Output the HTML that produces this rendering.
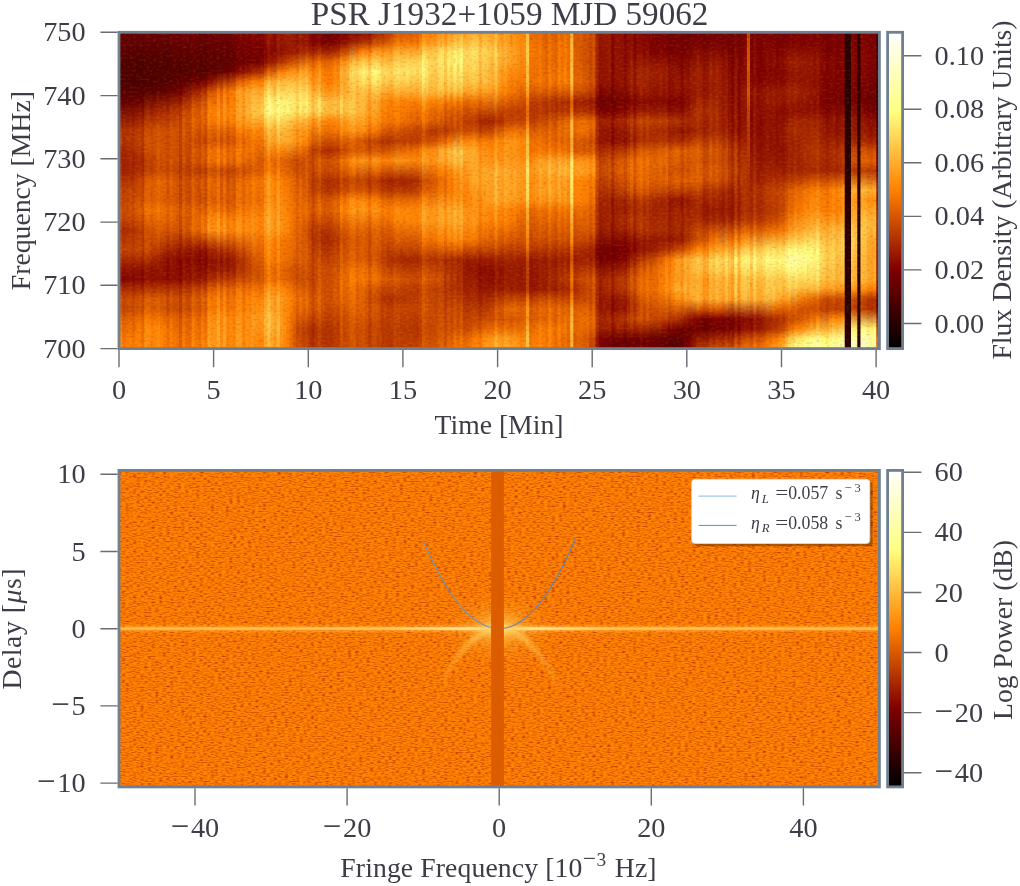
<!DOCTYPE html>
<html><head><meta charset="utf-8"><title>PSR J1932+1059</title>
<style>html,body{margin:0;padding:0;background:#fff}svg{display:block}text{font-family:"Liberation Serif","DejaVu Serif",serif;fill:#3d3d47}</style></head><body>
<svg width="1020" height="886" viewBox="0 0 1020 886">
<defs>
<linearGradient id="cb" x1="0" y1="0" x2="0" y2="1"><stop offset="0" stop-color="#fff"/><stop offset="0.25" stop-color="#ffff80"/><stop offset="0.5" stop-color="#ff8000"/><stop offset="0.75" stop-color="#800000"/><stop offset="1" stop-color="#000"/></linearGradient>
<linearGradient id="c0" x1="0" y1="0" x2="0" y2="1"><stop offset="0" stop-color="#6e0000"/><stop offset=".031" stop-color="#690000"/><stop offset=".094" stop-color="#540000"/><stop offset=".156" stop-color="#540000"/><stop offset=".219" stop-color="#680000"/><stop offset=".312" stop-color="#bb3c00"/><stop offset=".344" stop-color="#bf4000"/><stop offset=".375" stop-color="#b03000"/><stop offset=".438" stop-color="#ac2c00"/><stop offset=".5" stop-color="#cf4f00"/><stop offset=".531" stop-color="#d05000"/><stop offset=".562" stop-color="#d95a00"/><stop offset=".594" stop-color="#cf4f00"/><stop offset=".625" stop-color="#b83800"/><stop offset=".688" stop-color="#ce4f00"/><stop offset=".75" stop-color="#9a1b00"/><stop offset=".781" stop-color="#8d0e00"/><stop offset=".812" stop-color="#b73700"/><stop offset=".844" stop-color="#d85900"/><stop offset=".875" stop-color="#d15200"/><stop offset=".906" stop-color="#ee6f00"/><stop offset=".969" stop-color="#ff8a0a"/><stop offset="1" stop-color="#ff9111"/></linearGradient>
<linearGradient id="c1" x1="0" y1="0" x2="0" y2="1"><stop offset="0" stop-color="#650000"/><stop offset=".031" stop-color="#610000"/><stop offset=".094" stop-color="#4d0000"/><stop offset=".156" stop-color="#4d0000"/><stop offset=".219" stop-color="#600000"/><stop offset=".312" stop-color="#ac2d00"/><stop offset=".344" stop-color="#b03000"/><stop offset=".375" stop-color="#a22200"/><stop offset=".438" stop-color="#9e1f00"/><stop offset=".5" stop-color="#be3e00"/><stop offset=".531" stop-color="#bf4000"/><stop offset=".562" stop-color="#c84800"/><stop offset=".594" stop-color="#be3e00"/><stop offset=".625" stop-color="#a92900"/><stop offset=".688" stop-color="#be3e00"/><stop offset=".75" stop-color="#8e0e00"/><stop offset=".781" stop-color="#820200"/><stop offset=".812" stop-color="#a82900"/><stop offset=".844" stop-color="#c74700"/><stop offset=".875" stop-color="#c04100"/><stop offset=".906" stop-color="#db5c00"/><stop offset=".969" stop-color="#f47400"/><stop offset="1" stop-color="#fa7b00"/></linearGradient>
<linearGradient id="c2" x1="0" y1="0" x2="0" y2="1"><stop offset="0" stop-color="#670000"/><stop offset=".031" stop-color="#630000"/><stop offset=".094" stop-color="#4f0000"/><stop offset=".156" stop-color="#4e0000"/><stop offset=".219" stop-color="#620000"/><stop offset=".312" stop-color="#b03100"/><stop offset=".344" stop-color="#b43500"/><stop offset=".375" stop-color="#a62600"/><stop offset=".438" stop-color="#a22300"/><stop offset=".5" stop-color="#c24300"/><stop offset=".531" stop-color="#c44400"/><stop offset=".562" stop-color="#cd4d00"/><stop offset=".594" stop-color="#c34300"/><stop offset=".625" stop-color="#ad2e00"/><stop offset=".688" stop-color="#c24200"/><stop offset=".75" stop-color="#911100"/><stop offset=".781" stop-color="#850500"/><stop offset=".812" stop-color="#ac2c00"/><stop offset=".844" stop-color="#cb4c00"/><stop offset=".875" stop-color="#c54600"/><stop offset=".906" stop-color="#e06100"/><stop offset=".969" stop-color="#f97a00"/><stop offset="1" stop-color="#ff8001"/></linearGradient>
<linearGradient id="c3" x1="0" y1="0" x2="0" y2="1"><stop offset="0" stop-color="#680000"/><stop offset=".031" stop-color="#640000"/><stop offset=".094" stop-color="#500000"/><stop offset=".156" stop-color="#4f0000"/><stop offset=".188" stop-color="#570000"/><stop offset=".219" stop-color="#650000"/><stop offset=".281" stop-color="#9e1e00"/><stop offset=".312" stop-color="#b53500"/><stop offset=".344" stop-color="#b93900"/><stop offset=".375" stop-color="#ab2b00"/><stop offset=".438" stop-color="#a62700"/><stop offset=".5" stop-color="#c74800"/><stop offset=".531" stop-color="#c94900"/><stop offset=".562" stop-color="#d35300"/><stop offset=".594" stop-color="#c84800"/><stop offset=".625" stop-color="#b23300"/><stop offset=".688" stop-color="#c64600"/><stop offset=".75" stop-color="#931400"/><stop offset=".781" stop-color="#870800"/><stop offset=".812" stop-color="#af3000"/><stop offset=".844" stop-color="#d05000"/><stop offset=".875" stop-color="#ca4b00"/><stop offset=".906" stop-color="#e66600"/><stop offset=".969" stop-color="#fe7f00"/><stop offset="1" stop-color="#ff8505"/></linearGradient>
<linearGradient id="c4" x1="0" y1="0" x2="0" y2="1"><stop offset="0" stop-color="#630000"/><stop offset=".031" stop-color="#5f0000"/><stop offset=".094" stop-color="#4c0000"/><stop offset=".156" stop-color="#4b0000"/><stop offset=".188" stop-color="#530000"/><stop offset=".219" stop-color="#620000"/><stop offset=".281" stop-color="#991a00"/><stop offset=".312" stop-color="#af2f00"/><stop offset=".344" stop-color="#b33300"/><stop offset=".406" stop-color="#a02100"/><stop offset=".438" stop-color="#a12200"/><stop offset=".5" stop-color="#c04100"/><stop offset=".531" stop-color="#c24300"/><stop offset=".562" stop-color="#cd4d00"/><stop offset=".594" stop-color="#c24300"/><stop offset=".625" stop-color="#ae2f00"/><stop offset=".688" stop-color="#be3e00"/><stop offset=".75" stop-color="#8c0d00"/><stop offset=".781" stop-color="#820300"/><stop offset=".844" stop-color="#c84800"/><stop offset=".875" stop-color="#c44400"/><stop offset=".906" stop-color="#de5e00"/><stop offset=".969" stop-color="#f57500"/><stop offset="1" stop-color="#f97a00"/></linearGradient>
<linearGradient id="c5" x1="0" y1="0" x2="0" y2="1"><stop offset="0" stop-color="#660000"/><stop offset=".031" stop-color="#620000"/><stop offset=".094" stop-color="#4e0000"/><stop offset=".156" stop-color="#4e0000"/><stop offset=".188" stop-color="#550000"/><stop offset=".219" stop-color="#680000"/><stop offset=".281" stop-color="#a22300"/><stop offset=".312" stop-color="#b83900"/><stop offset=".344" stop-color="#bc3d00"/><stop offset=".406" stop-color="#a92900"/><stop offset=".438" stop-color="#aa2b00"/><stop offset=".469" stop-color="#bf3f00"/><stop offset=".562" stop-color="#d95a00"/><stop offset=".594" stop-color="#cd4e00"/><stop offset=".625" stop-color="#b93900"/><stop offset=".688" stop-color="#c54600"/><stop offset=".75" stop-color="#911200"/><stop offset=".781" stop-color="#880800"/><stop offset=".844" stop-color="#d15200"/><stop offset=".875" stop-color="#ce4f00"/><stop offset=".906" stop-color="#e96900"/><stop offset=".969" stop-color="#ff8001"/><stop offset="1" stop-color="#ff8404"/></linearGradient>
<linearGradient id="c6" x1="0" y1="0" x2="0" y2="1"><stop offset="0" stop-color="#660000"/><stop offset=".031" stop-color="#620000"/><stop offset=".094" stop-color="#4e0000"/><stop offset=".156" stop-color="#4d0000"/><stop offset=".188" stop-color="#560000"/><stop offset=".219" stop-color="#6b0000"/><stop offset=".281" stop-color="#a72800"/><stop offset=".312" stop-color="#bc3d00"/><stop offset=".344" stop-color="#c14100"/><stop offset=".406" stop-color="#ad2d00"/><stop offset=".438" stop-color="#af2f00"/><stop offset=".469" stop-color="#c64600"/><stop offset=".531" stop-color="#d15200"/><stop offset=".562" stop-color="#df6000"/><stop offset=".594" stop-color="#d35300"/><stop offset=".625" stop-color="#bf3f00"/><stop offset=".688" stop-color="#c64700"/><stop offset=".75" stop-color="#921200"/><stop offset=".781" stop-color="#890a00"/><stop offset=".844" stop-color="#d45400"/><stop offset=".875" stop-color="#d35300"/><stop offset=".906" stop-color="#ec6d00"/><stop offset=".938" stop-color="#fb7c00"/><stop offset="1" stop-color="#ff8506"/></linearGradient>
<linearGradient id="c7" x1="0" y1="0" x2="0" y2="1"><stop offset="0" stop-color="#5f0000"/><stop offset=".031" stop-color="#5b0000"/><stop offset=".094" stop-color="#490000"/><stop offset=".156" stop-color="#480000"/><stop offset=".188" stop-color="#500000"/><stop offset=".219" stop-color="#660000"/><stop offset=".281" stop-color="#a02000"/><stop offset=".312" stop-color="#b33300"/><stop offset=".344" stop-color="#b73800"/><stop offset=".406" stop-color="#a52500"/><stop offset=".438" stop-color="#a72800"/><stop offset=".469" stop-color="#be3f00"/><stop offset=".531" stop-color="#c74700"/><stop offset=".562" stop-color="#d55600"/><stop offset=".625" stop-color="#b73800"/><stop offset=".688" stop-color="#b93a00"/><stop offset=".75" stop-color="#880800"/><stop offset=".781" stop-color="#810200"/><stop offset=".844" stop-color="#c84800"/><stop offset=".875" stop-color="#c84800"/><stop offset=".906" stop-color="#df6000"/><stop offset=".938" stop-color="#ed6e00"/><stop offset="1" stop-color="#f47500"/></linearGradient>
<linearGradient id="c8" x1="0" y1="0" x2="0" y2="1"><stop offset="0" stop-color="#6a0000"/><stop offset=".031" stop-color="#660000"/><stop offset=".094" stop-color="#510000"/><stop offset=".156" stop-color="#500000"/><stop offset=".188" stop-color="#5b0000"/><stop offset=".281" stop-color="#b83900"/><stop offset=".312" stop-color="#cd4d00"/><stop offset=".344" stop-color="#d25200"/><stop offset=".375" stop-color="#cc4d00"/><stop offset=".406" stop-color="#be3e00"/><stop offset=".438" stop-color="#c14100"/><stop offset=".469" stop-color="#dc5c00"/><stop offset=".531" stop-color="#e36400"/><stop offset=".562" stop-color="#f47500"/><stop offset=".625" stop-color="#d35400"/><stop offset=".688" stop-color="#cf5000"/><stop offset=".75" stop-color="#981900"/><stop offset=".781" stop-color="#921200"/><stop offset=".844" stop-color="#e26300"/><stop offset=".875" stop-color="#e36400"/><stop offset=".906" stop-color="#fd7e00"/><stop offset=".938" stop-color="#ff8e0e"/><stop offset="1" stop-color="#ff9314"/></linearGradient>
<linearGradient id="c9" x1="0" y1="0" x2="0" y2="1"><stop offset="0" stop-color="#690000"/><stop offset=".031" stop-color="#650000"/><stop offset=".094" stop-color="#510000"/><stop offset=".156" stop-color="#500000"/><stop offset=".188" stop-color="#5a0000"/><stop offset=".281" stop-color="#ba3a00"/><stop offset=".312" stop-color="#cd4e00"/><stop offset=".344" stop-color="#d35300"/><stop offset=".375" stop-color="#ce4f00"/><stop offset=".406" stop-color="#c04100"/><stop offset=".438" stop-color="#c34300"/><stop offset=".469" stop-color="#df5f00"/><stop offset=".531" stop-color="#e36300"/><stop offset=".562" stop-color="#f57600"/><stop offset=".625" stop-color="#d55600"/><stop offset=".688" stop-color="#ca4b00"/><stop offset=".719" stop-color="#ac2d00"/><stop offset=".75" stop-color="#961600"/><stop offset=".781" stop-color="#911100"/><stop offset=".844" stop-color="#e06100"/><stop offset=".875" stop-color="#e26200"/><stop offset=".906" stop-color="#fb7c00"/><stop offset=".938" stop-color="#ff8c0d"/><stop offset="1" stop-color="#ff9010"/></linearGradient>
<linearGradient id="c10" x1="0" y1="0" x2="0" y2="1"><stop offset="0" stop-color="#650000"/><stop offset=".094" stop-color="#4e0000"/><stop offset=".156" stop-color="#4c0000"/><stop offset=".188" stop-color="#580000"/><stop offset=".25" stop-color="#9a1a00"/><stop offset=".281" stop-color="#b53500"/><stop offset=".312" stop-color="#c74700"/><stop offset=".344" stop-color="#cc4c00"/><stop offset=".375" stop-color="#c94900"/><stop offset=".406" stop-color="#bd3d00"/><stop offset=".438" stop-color="#be3f00"/><stop offset=".469" stop-color="#d95a00"/><stop offset=".531" stop-color="#da5b00"/><stop offset=".562" stop-color="#ec6d00"/><stop offset=".625" stop-color="#cf4f00"/><stop offset=".688" stop-color="#be3e00"/><stop offset=".719" stop-color="#a12200"/><stop offset=".75" stop-color="#8f0f00"/><stop offset=".781" stop-color="#8a0b00"/><stop offset=".844" stop-color="#d75700"/><stop offset=".875" stop-color="#d75800"/><stop offset=".906" stop-color="#f07100"/><stop offset=".938" stop-color="#ff8001"/><stop offset="1" stop-color="#ff8304"/></linearGradient>
<linearGradient id="c11" x1="0" y1="0" x2="0" y2="1"><stop offset="0" stop-color="#680000"/><stop offset=".094" stop-color="#500000"/><stop offset=".156" stop-color="#4f0000"/><stop offset=".188" stop-color="#5c0000"/><stop offset=".25" stop-color="#a12200"/><stop offset=".281" stop-color="#bb3c00"/><stop offset=".312" stop-color="#cd4e00"/><stop offset=".375" stop-color="#d05100"/><stop offset=".406" stop-color="#c64600"/><stop offset=".438" stop-color="#c64600"/><stop offset=".469" stop-color="#e16100"/><stop offset=".531" stop-color="#e06000"/><stop offset=".562" stop-color="#f27300"/><stop offset=".688" stop-color="#bd3d00"/><stop offset=".719" stop-color="#a12100"/><stop offset=".75" stop-color="#911100"/><stop offset=".781" stop-color="#8d0e00"/><stop offset=".844" stop-color="#db5b00"/><stop offset=".875" stop-color="#da5b00"/><stop offset=".906" stop-color="#f47500"/><stop offset=".938" stop-color="#ff8505"/><stop offset="1" stop-color="#ff8808"/></linearGradient>
<linearGradient id="c12" x1="0" y1="0" x2="0" y2="1"><stop offset="0" stop-color="#6c0000"/><stop offset=".094" stop-color="#540000"/><stop offset=".156" stop-color="#520000"/><stop offset=".188" stop-color="#610000"/><stop offset=".25" stop-color="#aa2a00"/><stop offset=".312" stop-color="#d55500"/><stop offset=".375" stop-color="#d85900"/><stop offset=".438" stop-color="#cf4f00"/><stop offset=".469" stop-color="#ea6a00"/><stop offset=".531" stop-color="#e66700"/><stop offset=".562" stop-color="#f97a00"/><stop offset=".656" stop-color="#d05100"/><stop offset=".688" stop-color="#bd3d00"/><stop offset=".719" stop-color="#a12100"/><stop offset=".75" stop-color="#941500"/><stop offset=".781" stop-color="#911200"/><stop offset=".844" stop-color="#e06100"/><stop offset=".875" stop-color="#de5f00"/><stop offset=".906" stop-color="#f97a00"/><stop offset=".938" stop-color="#ff8a0b"/><stop offset="1" stop-color="#ff8e0e"/></linearGradient>
<linearGradient id="c13" x1="0" y1="0" x2="0" y2="1"><stop offset="0" stop-color="#6a0000"/><stop offset=".094" stop-color="#520000"/><stop offset=".156" stop-color="#510000"/><stop offset=".188" stop-color="#600000"/><stop offset=".25" stop-color="#a92900"/><stop offset=".312" stop-color="#d05000"/><stop offset=".375" stop-color="#d35300"/><stop offset=".438" stop-color="#ca4b00"/><stop offset=".469" stop-color="#e36400"/><stop offset=".531" stop-color="#de5f00"/><stop offset=".562" stop-color="#f17100"/><stop offset=".594" stop-color="#e86800"/><stop offset=".656" stop-color="#c84800"/><stop offset=".719" stop-color="#981800"/><stop offset=".781" stop-color="#8d0d00"/><stop offset=".812" stop-color="#b63700"/><stop offset=".844" stop-color="#d85900"/><stop offset=".875" stop-color="#d55500"/><stop offset=".906" stop-color="#ef7000"/><stop offset=".938" stop-color="#ff8000"/><stop offset="1" stop-color="#ff8304"/></linearGradient>
<linearGradient id="c14" x1="0" y1="0" x2="0" y2="1"><stop offset="0" stop-color="#6b0000"/><stop offset=".062" stop-color="#570000"/><stop offset=".125" stop-color="#4f0000"/><stop offset=".156" stop-color="#520000"/><stop offset=".188" stop-color="#630000"/><stop offset=".25" stop-color="#ac2d00"/><stop offset=".312" stop-color="#d05100"/><stop offset=".406" stop-color="#d05000"/><stop offset=".438" stop-color="#cb4c00"/><stop offset=".469" stop-color="#e36300"/><stop offset=".531" stop-color="#dd5d00"/><stop offset=".562" stop-color="#ef6f00"/><stop offset=".594" stop-color="#e76700"/><stop offset=".656" stop-color="#c54500"/><stop offset=".719" stop-color="#931400"/><stop offset=".781" stop-color="#8c0d00"/><stop offset=".812" stop-color="#b63600"/><stop offset=".844" stop-color="#d75700"/><stop offset=".875" stop-color="#d25200"/><stop offset=".906" stop-color="#ec6d00"/><stop offset=".938" stop-color="#fc7d00"/><stop offset="1" stop-color="#ff8001"/></linearGradient>
<linearGradient id="c15" x1="0" y1="0" x2="0" y2="1"><stop offset="0" stop-color="#660000"/><stop offset=".062" stop-color="#530000"/><stop offset=".125" stop-color="#4c0000"/><stop offset=".156" stop-color="#4f0000"/><stop offset=".188" stop-color="#610000"/><stop offset=".25" stop-color="#a72700"/><stop offset=".312" stop-color="#c64600"/><stop offset=".406" stop-color="#c64600"/><stop offset=".438" stop-color="#c04100"/><stop offset=".469" stop-color="#d55600"/><stop offset=".531" stop-color="#cf5000"/><stop offset=".562" stop-color="#e06000"/><stop offset=".594" stop-color="#d95a00"/><stop offset=".656" stop-color="#b83800"/><stop offset=".719" stop-color="#890900"/><stop offset=".781" stop-color="#850600"/><stop offset=".812" stop-color="#ac2c00"/><stop offset=".844" stop-color="#c94a00"/><stop offset=".875" stop-color="#c44500"/><stop offset=".906" stop-color="#dd5e00"/><stop offset=".938" stop-color="#ec6c00"/><stop offset="1" stop-color="#ef7000"/></linearGradient>
<linearGradient id="c16" x1="0" y1="0" x2="0" y2="1"><stop offset="0" stop-color="#6f0000"/><stop offset=".062" stop-color="#5b0000"/><stop offset=".125" stop-color="#530000"/><stop offset=".156" stop-color="#570000"/><stop offset=".188" stop-color="#6c0000"/><stop offset=".25" stop-color="#b73800"/><stop offset=".312" stop-color="#d65600"/><stop offset=".406" stop-color="#d55600"/><stop offset=".438" stop-color="#ce4f00"/><stop offset=".469" stop-color="#e36300"/><stop offset=".531" stop-color="#dd5d00"/><stop offset=".562" stop-color="#ee6f00"/><stop offset=".594" stop-color="#e86800"/><stop offset=".625" stop-color="#da5a00"/><stop offset=".719" stop-color="#911200"/><stop offset=".781" stop-color="#901000"/><stop offset=".812" stop-color="#b93900"/><stop offset=".844" stop-color="#d75800"/><stop offset=".875" stop-color="#d15200"/><stop offset=".906" stop-color="#ec6d00"/><stop offset=".938" stop-color="#fa7b00"/><stop offset="1" stop-color="#ff7f00"/></linearGradient>
<linearGradient id="c17" x1="0" y1="0" x2="0" y2="1"><stop offset="0" stop-color="#6d0000"/><stop offset=".094" stop-color="#550000"/><stop offset=".125" stop-color="#520000"/><stop offset=".156" stop-color="#570000"/><stop offset=".188" stop-color="#6e0000"/><stop offset=".25" stop-color="#b63700"/><stop offset=".312" stop-color="#d15100"/><stop offset=".406" stop-color="#ce4f00"/><stop offset=".438" stop-color="#c74700"/><stop offset=".469" stop-color="#da5a00"/><stop offset=".531" stop-color="#d55600"/><stop offset=".562" stop-color="#e56600"/><stop offset=".594" stop-color="#e06000"/><stop offset=".625" stop-color="#d35300"/><stop offset=".719" stop-color="#8c0d00"/><stop offset=".781" stop-color="#8d0e00"/><stop offset=".812" stop-color="#b43500"/><stop offset=".844" stop-color="#d05100"/><stop offset=".875" stop-color="#cb4b00"/><stop offset=".906" stop-color="#e46500"/><stop offset=".969" stop-color="#f77700"/><stop offset="1" stop-color="#f57600"/></linearGradient>
<linearGradient id="c18" x1="0" y1="0" x2="0" y2="1"><stop offset="0" stop-color="#6e0000"/><stop offset=".094" stop-color="#550000"/><stop offset=".125" stop-color="#520000"/><stop offset=".156" stop-color="#590000"/><stop offset=".188" stop-color="#720000"/><stop offset=".25" stop-color="#ba3a00"/><stop offset=".281" stop-color="#c94900"/><stop offset=".312" stop-color="#d15100"/><stop offset=".406" stop-color="#cc4c00"/><stop offset=".438" stop-color="#c34400"/><stop offset=".469" stop-color="#d55600"/><stop offset=".531" stop-color="#d25300"/><stop offset=".562" stop-color="#e26200"/><stop offset=".625" stop-color="#d15200"/><stop offset=".688" stop-color="#9e1f00"/><stop offset=".719" stop-color="#8b0c00"/><stop offset=".781" stop-color="#8e0e00"/><stop offset=".812" stop-color="#b43400"/><stop offset=".844" stop-color="#cf4f00"/><stop offset=".875" stop-color="#ca4a00"/><stop offset=".906" stop-color="#e26300"/><stop offset=".969" stop-color="#f47400"/><stop offset="1" stop-color="#f27200"/></linearGradient>
<linearGradient id="c19" x1="0" y1="0" x2="0" y2="1"><stop offset="0" stop-color="#660000"/><stop offset=".094" stop-color="#4f0000"/><stop offset=".125" stop-color="#4d0000"/><stop offset=".156" stop-color="#550000"/><stop offset=".188" stop-color="#6f0000"/><stop offset=".219" stop-color="#931300"/><stop offset=".25" stop-color="#af3000"/><stop offset=".281" stop-color="#bc3c00"/><stop offset=".312" stop-color="#c14100"/><stop offset=".406" stop-color="#ba3b00"/><stop offset=".438" stop-color="#b13200"/><stop offset=".469" stop-color="#c14200"/><stop offset=".531" stop-color="#c04100"/><stop offset=".562" stop-color="#ce4f00"/><stop offset=".625" stop-color="#c14100"/><stop offset=".688" stop-color="#901100"/><stop offset=".719" stop-color="#800000"/><stop offset=".781" stop-color="#840500"/><stop offset=".812" stop-color="#a62700"/><stop offset=".844" stop-color="#be3f00"/><stop offset=".875" stop-color="#ba3b00"/><stop offset=".906" stop-color="#d05000"/><stop offset=".969" stop-color="#df5f00"/><stop offset="1" stop-color="#dd5d00"/></linearGradient>
<linearGradient id="c20" x1="0" y1="0" x2="0" y2="1"><stop offset="0" stop-color="#730000"/><stop offset=".031" stop-color="#6e0000"/><stop offset=".094" stop-color="#590000"/><stop offset=".125" stop-color="#570000"/><stop offset=".156" stop-color="#620000"/><stop offset=".188" stop-color="#840400"/><stop offset=".219" stop-color="#ac2d00"/><stop offset=".25" stop-color="#cb4b00"/><stop offset=".281" stop-color="#d85800"/><stop offset=".312" stop-color="#da5b00"/><stop offset=".406" stop-color="#d15200"/><stop offset=".438" stop-color="#c64700"/><stop offset=".469" stop-color="#d85800"/><stop offset=".531" stop-color="#d85800"/><stop offset=".562" stop-color="#e76800"/><stop offset=".625" stop-color="#db5c00"/><stop offset=".688" stop-color="#a12200"/><stop offset=".719" stop-color="#901100"/><stop offset=".781" stop-color="#971700"/><stop offset=".812" stop-color="#bd3d00"/><stop offset=".844" stop-color="#d75800"/><stop offset=".875" stop-color="#d35400"/><stop offset=".906" stop-color="#eb6b00"/><stop offset=".969" stop-color="#fb7c00"/><stop offset="1" stop-color="#f97a00"/></linearGradient>
<linearGradient id="c21" x1="0" y1="0" x2="0" y2="1"><stop offset="0" stop-color="#6c0000"/><stop offset=".031" stop-color="#680000"/><stop offset=".094" stop-color="#540000"/><stop offset=".125" stop-color="#520000"/><stop offset=".156" stop-color="#600000"/><stop offset=".219" stop-color="#aa2a00"/><stop offset=".25" stop-color="#c44500"/><stop offset=".281" stop-color="#cf4f00"/><stop offset=".406" stop-color="#c54600"/><stop offset=".438" stop-color="#b93a00"/><stop offset=".469" stop-color="#cb4b00"/><stop offset=".531" stop-color="#cb4b00"/><stop offset=".562" stop-color="#da5a00"/><stop offset=".625" stop-color="#d15200"/><stop offset=".688" stop-color="#961700"/><stop offset=".719" stop-color="#880800"/><stop offset=".781" stop-color="#901000"/><stop offset=".812" stop-color="#b33400"/><stop offset=".844" stop-color="#cc4d00"/><stop offset=".875" stop-color="#c94a00"/><stop offset=".906" stop-color="#de5f00"/><stop offset=".969" stop-color="#ed6e00"/><stop offset="1" stop-color="#ec6d00"/></linearGradient>
<linearGradient id="c22" x1="0" y1="0" x2="0" y2="1"><stop offset="0" stop-color="#6a0000"/><stop offset=".062" stop-color="#5b0000"/><stop offset=".125" stop-color="#510000"/><stop offset=".156" stop-color="#620000"/><stop offset=".219" stop-color="#ae2f00"/><stop offset=".25" stop-color="#c64700"/><stop offset=".281" stop-color="#cf4f00"/><stop offset=".344" stop-color="#c34400"/><stop offset=".406" stop-color="#c44400"/><stop offset=".438" stop-color="#b63600"/><stop offset=".469" stop-color="#c84900"/><stop offset=".531" stop-color="#c74800"/><stop offset=".562" stop-color="#d75700"/><stop offset=".625" stop-color="#d25300"/><stop offset=".688" stop-color="#921200"/><stop offset=".719" stop-color="#850600"/><stop offset=".781" stop-color="#8e0f00"/><stop offset=".812" stop-color="#b23300"/><stop offset=".844" stop-color="#cb4c00"/><stop offset=".875" stop-color="#c84900"/><stop offset=".906" stop-color="#dc5d00"/><stop offset=".969" stop-color="#eb6b00"/><stop offset="1" stop-color="#eb6b00"/></linearGradient>
<linearGradient id="c23" x1="0" y1="0" x2="0" y2="1"><stop offset="0" stop-color="#740000"/><stop offset=".031" stop-color="#700000"/><stop offset=".094" stop-color="#5c0000"/><stop offset=".125" stop-color="#5a0000"/><stop offset=".156" stop-color="#700000"/><stop offset=".188" stop-color="#a12100"/><stop offset=".219" stop-color="#c94a00"/><stop offset=".25" stop-color="#e26200"/><stop offset=".281" stop-color="#e96900"/><stop offset=".344" stop-color="#d85800"/><stop offset=".375" stop-color="#e06000"/><stop offset=".406" stop-color="#dc5c00"/><stop offset=".438" stop-color="#ca4a00"/><stop offset=".469" stop-color="#e06100"/><stop offset=".531" stop-color="#de5e00"/><stop offset=".562" stop-color="#ef7000"/><stop offset=".625" stop-color="#ef7000"/><stop offset=".688" stop-color="#a02000"/><stop offset=".719" stop-color="#921300"/><stop offset=".781" stop-color="#9f2000"/><stop offset=".812" stop-color="#c94900"/><stop offset=".844" stop-color="#e56500"/><stop offset=".875" stop-color="#e16200"/><stop offset=".906" stop-color="#f77700"/><stop offset=".969" stop-color="#ff8708"/><stop offset="1" stop-color="#ff890a"/></linearGradient>
<linearGradient id="c24" x1="0" y1="0" x2="0" y2="1"><stop offset="0" stop-color="#6b0000"/><stop offset=".125" stop-color="#530000"/><stop offset=".156" stop-color="#6c0000"/><stop offset=".188" stop-color="#9f2000"/><stop offset=".219" stop-color="#c44400"/><stop offset=".25" stop-color="#d85900"/><stop offset=".281" stop-color="#dd5e00"/><stop offset=".344" stop-color="#c94a00"/><stop offset=".375" stop-color="#d45500"/><stop offset=".406" stop-color="#d15200"/><stop offset=".438" stop-color="#bd3e00"/><stop offset=".469" stop-color="#d45500"/><stop offset=".531" stop-color="#d05100"/><stop offset=".562" stop-color="#e26200"/><stop offset=".594" stop-color="#e86800"/><stop offset=".625" stop-color="#e66700"/><stop offset=".688" stop-color="#941400"/><stop offset=".719" stop-color="#880800"/><stop offset=".781" stop-color="#961700"/><stop offset=".812" stop-color="#be3f00"/><stop offset=".844" stop-color="#da5a00"/><stop offset=".875" stop-color="#d65700"/><stop offset=".906" stop-color="#ea6a00"/><stop offset="1" stop-color="#fc7d00"/></linearGradient>
<linearGradient id="c25" x1="0" y1="0" x2="0" y2="1"><stop offset="0" stop-color="#650000"/><stop offset=".125" stop-color="#500000"/><stop offset=".156" stop-color="#6c0000"/><stop offset=".188" stop-color="#a12100"/><stop offset=".219" stop-color="#c24300"/><stop offset=".25" stop-color="#d45500"/><stop offset=".281" stop-color="#d75700"/><stop offset=".344" stop-color="#c04100"/><stop offset=".375" stop-color="#cf4f00"/><stop offset=".406" stop-color="#cc4c00"/><stop offset=".438" stop-color="#b63700"/><stop offset=".469" stop-color="#ce4e00"/><stop offset=".531" stop-color="#c84900"/><stop offset=".562" stop-color="#da5a00"/><stop offset=".594" stop-color="#e26300"/><stop offset=".625" stop-color="#e36300"/><stop offset=".688" stop-color="#8d0d00"/><stop offset=".719" stop-color="#810200"/><stop offset=".781" stop-color="#911200"/><stop offset=".812" stop-color="#b93a00"/><stop offset=".844" stop-color="#d45500"/><stop offset=".875" stop-color="#d15100"/><stop offset=".906" stop-color="#e36300"/><stop offset="1" stop-color="#f67700"/></linearGradient>
<linearGradient id="c26" x1="0" y1="0" x2="0" y2="1"><stop offset="0" stop-color="#6a0000"/><stop offset=".125" stop-color="#550000"/><stop offset=".156" stop-color="#770000"/><stop offset=".188" stop-color="#b33400"/><stop offset=".219" stop-color="#d55500"/><stop offset=".25" stop-color="#e66700"/><stop offset=".281" stop-color="#e76700"/><stop offset=".344" stop-color="#cb4c00"/><stop offset=".375" stop-color="#de5f00"/><stop offset=".406" stop-color="#dc5d00"/><stop offset=".438" stop-color="#c24300"/><stop offset=".469" stop-color="#dc5d00"/><stop offset=".531" stop-color="#d55600"/><stop offset=".594" stop-color="#f57500"/><stop offset=".625" stop-color="#f67700"/><stop offset=".688" stop-color="#951600"/><stop offset=".719" stop-color="#890900"/><stop offset=".75" stop-color="#8e0f00"/><stop offset=".781" stop-color="#9c1c00"/><stop offset=".812" stop-color="#c84900"/><stop offset=".844" stop-color="#e56500"/><stop offset=".875" stop-color="#e16200"/><stop offset=".906" stop-color="#f47500"/><stop offset="1" stop-color="#ff8a0b"/></linearGradient>
<linearGradient id="c27" x1="0" y1="0" x2="0" y2="1"><stop offset="0" stop-color="#620000"/><stop offset=".125" stop-color="#500000"/><stop offset=".156" stop-color="#750000"/><stop offset=".188" stop-color="#b03100"/><stop offset=".219" stop-color="#cd4e00"/><stop offset=".25" stop-color="#dc5d00"/><stop offset=".281" stop-color="#db5b00"/><stop offset=".344" stop-color="#bf3f00"/><stop offset=".375" stop-color="#d35400"/><stop offset=".406" stop-color="#d25200"/><stop offset=".438" stop-color="#b73700"/><stop offset=".469" stop-color="#d05000"/><stop offset=".531" stop-color="#c94900"/><stop offset=".594" stop-color="#e96a00"/><stop offset=".625" stop-color="#ec6d00"/><stop offset=".688" stop-color="#8d0e00"/><stop offset=".719" stop-color="#800100"/><stop offset=".75" stop-color="#850600"/><stop offset=".781" stop-color="#941500"/><stop offset=".812" stop-color="#bf4000"/><stop offset=".844" stop-color="#da5a00"/><stop offset=".875" stop-color="#d75800"/><stop offset=".906" stop-color="#e96a00"/><stop offset="1" stop-color="#fc7d00"/></linearGradient>
<linearGradient id="c28" x1="0" y1="0" x2="0" y2="1"><stop offset="0" stop-color="#710000"/><stop offset=".094" stop-color="#5e0000"/><stop offset=".125" stop-color="#5e0000"/><stop offset=".156" stop-color="#8e0f00"/><stop offset=".188" stop-color="#d55600"/><stop offset=".219" stop-color="#f37400"/><stop offset=".25" stop-color="#ff8505"/><stop offset=".281" stop-color="#ff8102"/><stop offset=".312" stop-color="#eb6b00"/><stop offset=".344" stop-color="#dd5d00"/><stop offset=".375" stop-color="#f77800"/><stop offset=".406" stop-color="#f77700"/><stop offset=".438" stop-color="#d45500"/><stop offset=".469" stop-color="#f07100"/><stop offset=".531" stop-color="#e96900"/><stop offset=".594" stop-color="#ff9212"/><stop offset=".625" stop-color="#ff9717"/><stop offset=".688" stop-color="#a62700"/><stop offset=".719" stop-color="#951500"/><stop offset=".75" stop-color="#9b1b00"/><stop offset=".781" stop-color="#af3000"/><stop offset=".812" stop-color="#e26200"/><stop offset=".844" stop-color="#ff8000"/><stop offset=".875" stop-color="#fe7f00"/><stop offset=".906" stop-color="#ff9314"/><stop offset="1" stop-color="#ffa728"/></linearGradient>
<linearGradient id="c29" x1="0" y1="0" x2="0" y2="1"><stop offset="0" stop-color="#6b0000"/><stop offset=".094" stop-color="#5a0000"/><stop offset=".125" stop-color="#5b0000"/><stop offset=".156" stop-color="#8f0f00"/><stop offset=".188" stop-color="#d45400"/><stop offset=".219" stop-color="#ed6d00"/><stop offset=".25" stop-color="#fc7d00"/><stop offset=".281" stop-color="#f87800"/><stop offset=".312" stop-color="#e06000"/><stop offset=".344" stop-color="#d25300"/><stop offset=".375" stop-color="#ed6e00"/><stop offset=".406" stop-color="#ee6e00"/><stop offset=".438" stop-color="#ca4b00"/><stop offset=".469" stop-color="#e46400"/><stop offset=".531" stop-color="#dd5e00"/><stop offset=".594" stop-color="#ff8708"/><stop offset=".625" stop-color="#ff8d0d"/><stop offset=".688" stop-color="#a22200"/><stop offset=".719" stop-color="#8f0f00"/><stop offset=".75" stop-color="#941500"/><stop offset=".781" stop-color="#ab2b00"/><stop offset=".812" stop-color="#db5b00"/><stop offset=".844" stop-color="#f67600"/><stop offset=".875" stop-color="#f67700"/><stop offset=".906" stop-color="#ff8b0b"/><stop offset="1" stop-color="#ff9a1b"/></linearGradient>
<linearGradient id="c30" x1="0" y1="0" x2="0" y2="1"><stop offset="0" stop-color="#6b0000"/><stop offset=".094" stop-color="#590000"/><stop offset=".125" stop-color="#5d0000"/><stop offset=".156" stop-color="#951600"/><stop offset=".188" stop-color="#da5b00"/><stop offset=".25" stop-color="#ff7f00"/><stop offset=".281" stop-color="#f97900"/><stop offset=".312" stop-color="#df6000"/><stop offset=".344" stop-color="#d15100"/><stop offset=".375" stop-color="#ed6e00"/><stop offset=".406" stop-color="#ee6e00"/><stop offset=".438" stop-color="#c94900"/><stop offset=".469" stop-color="#e06100"/><stop offset=".5" stop-color="#e26200"/><stop offset=".531" stop-color="#dc5c00"/><stop offset=".562" stop-color="#ed6e00"/><stop offset=".594" stop-color="#ff8708"/><stop offset=".625" stop-color="#ff8d0d"/><stop offset=".688" stop-color="#a52500"/><stop offset=".719" stop-color="#8f1000"/><stop offset=".75" stop-color="#951500"/><stop offset=".781" stop-color="#ae2e00"/><stop offset=".812" stop-color="#dd5e00"/><stop offset=".844" stop-color="#f67700"/><stop offset=".875" stop-color="#f87900"/><stop offset=".906" stop-color="#ff8d0d"/><stop offset="1" stop-color="#ff9819"/></linearGradient>
<linearGradient id="c31" x1="0" y1="0" x2="0" y2="1"><stop offset="0" stop-color="#740000"/><stop offset=".094" stop-color="#610000"/><stop offset=".125" stop-color="#670000"/><stop offset=".156" stop-color="#a92a00"/><stop offset=".188" stop-color="#f47400"/><stop offset=".25" stop-color="#ff9718"/><stop offset=".281" stop-color="#ff9010"/><stop offset=".312" stop-color="#f17200"/><stop offset=".344" stop-color="#e26200"/><stop offset=".375" stop-color="#ff8102"/><stop offset=".406" stop-color="#ff8303"/><stop offset=".438" stop-color="#d85800"/><stop offset=".469" stop-color="#f07000"/><stop offset=".5" stop-color="#f37300"/><stop offset=".531" stop-color="#ed6d00"/><stop offset=".562" stop-color="#ff7f00"/><stop offset=".594" stop-color="#ff9d1d"/><stop offset=".625" stop-color="#ffa424"/><stop offset=".688" stop-color="#b73700"/><stop offset=".719" stop-color="#9d1d00"/><stop offset=".75" stop-color="#a22300"/><stop offset=".781" stop-color="#bf4000"/><stop offset=".812" stop-color="#f27300"/><stop offset=".844" stop-color="#ff8c0c"/><stop offset=".875" stop-color="#ff9010"/><stop offset=".906" stop-color="#ffa526"/><stop offset="1" stop-color="#ffae2e"/></linearGradient>
<linearGradient id="c32" x1="0" y1="0" x2="0" y2="1"><stop offset="0" stop-color="#690000"/><stop offset=".094" stop-color="#580000"/><stop offset=".125" stop-color="#600000"/><stop offset=".188" stop-color="#e26200"/><stop offset=".25" stop-color="#fd7d00"/><stop offset=".281" stop-color="#f67600"/><stop offset=".312" stop-color="#da5a00"/><stop offset=".344" stop-color="#cb4c00"/><stop offset=".375" stop-color="#e76700"/><stop offset=".406" stop-color="#e86900"/><stop offset=".438" stop-color="#c14100"/><stop offset=".469" stop-color="#d55500"/><stop offset=".5" stop-color="#d95900"/><stop offset=".531" stop-color="#d45400"/><stop offset=".562" stop-color="#e36400"/><stop offset=".594" stop-color="#ff8000"/><stop offset=".625" stop-color="#ff8606"/><stop offset=".688" stop-color="#a82800"/><stop offset=".719" stop-color="#8e0f00"/><stop offset=".75" stop-color="#931400"/><stop offset=".781" stop-color="#af2f00"/><stop offset=".812" stop-color="#dc5c00"/><stop offset=".844" stop-color="#f07100"/><stop offset=".875" stop-color="#f57500"/><stop offset=".906" stop-color="#ff8909"/><stop offset="1" stop-color="#ff8d0e"/></linearGradient>
<linearGradient id="c33" x1="0" y1="0" x2="0" y2="1"><stop offset="0" stop-color="#740000"/><stop offset=".094" stop-color="#610000"/><stop offset=".125" stop-color="#6d0000"/><stop offset=".188" stop-color="#fe7f00"/><stop offset=".25" stop-color="#ff9718"/><stop offset=".281" stop-color="#ff8f0f"/><stop offset=".312" stop-color="#ef7000"/><stop offset=".344" stop-color="#df5f00"/><stop offset=".375" stop-color="#fc7d00"/><stop offset=".406" stop-color="#fd7e00"/><stop offset=".438" stop-color="#d25200"/><stop offset=".469" stop-color="#e76700"/><stop offset=".5" stop-color="#ec6d00"/><stop offset=".531" stop-color="#e76800"/><stop offset=".562" stop-color="#f77700"/><stop offset=".594" stop-color="#ff9617"/><stop offset=".625" stop-color="#ff9d1e"/><stop offset=".688" stop-color="#bb3c00"/><stop offset=".719" stop-color="#9e1e00"/><stop offset=".75" stop-color="#a32300"/><stop offset=".781" stop-color="#c24200"/><stop offset=".812" stop-color="#f27200"/><stop offset=".844" stop-color="#ff8707"/><stop offset=".875" stop-color="#ff8c0d"/><stop offset=".906" stop-color="#ffa121"/><stop offset="1" stop-color="#ffa425"/></linearGradient>
<linearGradient id="c34" x1="0" y1="0" x2="0" y2="1"><stop offset="0" stop-color="#690000"/><stop offset=".094" stop-color="#580000"/><stop offset=".125" stop-color="#660000"/><stop offset=".188" stop-color="#ea6a00"/><stop offset=".25" stop-color="#fb7c00"/><stop offset=".281" stop-color="#f47400"/><stop offset=".312" stop-color="#d75800"/><stop offset=".344" stop-color="#c94900"/><stop offset=".375" stop-color="#e16200"/><stop offset=".406" stop-color="#e26200"/><stop offset=".438" stop-color="#bb3b00"/><stop offset=".469" stop-color="#cd4e00"/><stop offset=".5" stop-color="#d35300"/><stop offset=".531" stop-color="#cf4f00"/><stop offset=".562" stop-color="#dc5c00"/><stop offset=".594" stop-color="#f77700"/><stop offset=".625" stop-color="#fd7e00"/><stop offset=".688" stop-color="#aa2b00"/><stop offset=".719" stop-color="#8f1000"/><stop offset=".75" stop-color="#931400"/><stop offset=".781" stop-color="#af3000"/><stop offset=".812" stop-color="#d95900"/><stop offset=".844" stop-color="#ea6a00"/><stop offset=".875" stop-color="#ee6f00"/><stop offset=".906" stop-color="#ff8001"/><stop offset="1" stop-color="#ff8303"/></linearGradient>
<linearGradient id="c35" x1="0" y1="0" x2="0" y2="1"><stop offset="0" stop-color="#710000"/><stop offset=".094" stop-color="#5f0000"/><stop offset=".125" stop-color="#710000"/><stop offset=".156" stop-color="#bd3d00"/><stop offset=".188" stop-color="#fd7d00"/><stop offset=".219" stop-color="#ff8000"/><stop offset=".25" stop-color="#ff8b0c"/><stop offset=".281" stop-color="#ff8404"/><stop offset=".312" stop-color="#e66600"/><stop offset=".344" stop-color="#d55600"/><stop offset=".375" stop-color="#ed6d00"/><stop offset=".406" stop-color="#ec6d00"/><stop offset=".438" stop-color="#c44500"/><stop offset=".469" stop-color="#d85900"/><stop offset=".5" stop-color="#de5f00"/><stop offset=".531" stop-color="#da5b00"/><stop offset=".562" stop-color="#e76800"/><stop offset=".594" stop-color="#ff8303"/><stop offset=".625" stop-color="#ff8a0a"/><stop offset=".688" stop-color="#b63700"/><stop offset=".719" stop-color="#9a1a00"/><stop offset=".75" stop-color="#9d1e00"/><stop offset=".781" stop-color="#ba3b00"/><stop offset=".812" stop-color="#e56500"/><stop offset=".844" stop-color="#f57600"/><stop offset=".875" stop-color="#f97a00"/><stop offset=".906" stop-color="#ff8b0c"/><stop offset="1" stop-color="#ff8f0f"/></linearGradient>
<linearGradient id="c36" x1="0" y1="0" x2="0" y2="1"><stop offset="0" stop-color="#700000"/><stop offset=".094" stop-color="#5f0000"/><stop offset=".125" stop-color="#730000"/><stop offset=".156" stop-color="#bf4000"/><stop offset=".188" stop-color="#fb7c00"/><stop offset=".219" stop-color="#fc7c00"/><stop offset=".25" stop-color="#ff8506"/><stop offset=".281" stop-color="#fe7e00"/><stop offset=".312" stop-color="#e26200"/><stop offset=".344" stop-color="#d15100"/><stop offset=".375" stop-color="#e56600"/><stop offset=".406" stop-color="#e36400"/><stop offset=".438" stop-color="#be3f00"/><stop offset=".469" stop-color="#d35300"/><stop offset=".5" stop-color="#d95900"/><stop offset=".531" stop-color="#d55600"/><stop offset=".562" stop-color="#e16100"/><stop offset=".594" stop-color="#f97900"/><stop offset=".625" stop-color="#ff8000"/><stop offset=".688" stop-color="#b43400"/><stop offset=".719" stop-color="#991900"/><stop offset=".75" stop-color="#9b1c00"/><stop offset=".781" stop-color="#b63700"/><stop offset=".812" stop-color="#de5e00"/><stop offset=".844" stop-color="#ed6d00"/><stop offset=".875" stop-color="#f07100"/><stop offset=".906" stop-color="#ff8001"/><stop offset="1" stop-color="#ff8405"/></linearGradient>
<linearGradient id="c37" x1="0" y1="0" x2="0" y2="1"><stop offset="0" stop-color="#7e0000"/><stop offset=".094" stop-color="#6c0000"/><stop offset=".125" stop-color="#860700"/><stop offset=".156" stop-color="#dc5d00"/><stop offset=".188" stop-color="#ff9d1d"/><stop offset=".219" stop-color="#ff9c1c"/><stop offset=".25" stop-color="#ffa425"/><stop offset=".281" stop-color="#ff9c1c"/><stop offset=".312" stop-color="#fd7d00"/><stop offset=".344" stop-color="#ea6a00"/><stop offset=".375" stop-color="#fc7d00"/><stop offset=".406" stop-color="#f97900"/><stop offset=".438" stop-color="#d35300"/><stop offset=".469" stop-color="#ea6b00"/><stop offset=".5" stop-color="#f17100"/><stop offset=".531" stop-color="#ed6d00"/><stop offset=".562" stop-color="#f97a00"/><stop offset=".594" stop-color="#ff9212"/><stop offset=".625" stop-color="#ff9819"/><stop offset=".688" stop-color="#ca4a00"/><stop offset=".719" stop-color="#ad2e00"/><stop offset=".75" stop-color="#b03000"/><stop offset=".781" stop-color="#cb4c00"/><stop offset=".812" stop-color="#f57500"/><stop offset=".844" stop-color="#ff8506"/><stop offset=".875" stop-color="#ff8808"/><stop offset=".906" stop-color="#ff9818"/><stop offset=".969" stop-color="#ff9e1f"/><stop offset="1" stop-color="#ff9d1e"/></linearGradient>
<linearGradient id="c38" x1="0" y1="0" x2="0" y2="1"><stop offset="0" stop-color="#820200"/><stop offset=".094" stop-color="#700000"/><stop offset=".125" stop-color="#8e0f00"/><stop offset=".156" stop-color="#e76700"/><stop offset=".188" stop-color="#ffa526"/><stop offset=".219" stop-color="#ffa425"/><stop offset=".25" stop-color="#ffab2c"/><stop offset=".281" stop-color="#ffa222"/><stop offset=".312" stop-color="#ff8303"/><stop offset=".344" stop-color="#ef6f00"/><stop offset=".375" stop-color="#fe7e00"/><stop offset=".406" stop-color="#f87800"/><stop offset=".438" stop-color="#d55600"/><stop offset=".469" stop-color="#ef6f00"/><stop offset=".5" stop-color="#f57500"/><stop offset=".531" stop-color="#f17100"/><stop offset=".562" stop-color="#fd7d00"/><stop offset=".594" stop-color="#ff9213"/><stop offset=".625" stop-color="#ff9919"/><stop offset=".688" stop-color="#d05000"/><stop offset=".719" stop-color="#b53600"/><stop offset=".75" stop-color="#b63600"/><stop offset=".781" stop-color="#cf4f00"/><stop offset=".812" stop-color="#f67700"/><stop offset=".844" stop-color="#ff8708"/><stop offset=".875" stop-color="#ff8909"/><stop offset=".906" stop-color="#ff9818"/><stop offset=".969" stop-color="#ff9e1e"/><stop offset="1" stop-color="#ff9e1e"/></linearGradient>
<linearGradient id="c39" x1="0" y1="0" x2="0" y2="1"><stop offset="0" stop-color="#7a0000"/><stop offset=".094" stop-color="#6a0000"/><stop offset=".125" stop-color="#8a0a00"/><stop offset=".156" stop-color="#dd5d00"/><stop offset=".188" stop-color="#ff9414"/><stop offset=".25" stop-color="#ff9a1b"/><stop offset=".281" stop-color="#ff9010"/><stop offset=".312" stop-color="#f27200"/><stop offset=".344" stop-color="#df6000"/><stop offset=".375" stop-color="#e96a00"/><stop offset=".406" stop-color="#e26300"/><stop offset=".438" stop-color="#c74700"/><stop offset=".469" stop-color="#e06000"/><stop offset=".5" stop-color="#e46400"/><stop offset=".531" stop-color="#e06100"/><stop offset=".594" stop-color="#fc7d00"/><stop offset=".625" stop-color="#ff8102"/><stop offset=".688" stop-color="#c54500"/><stop offset=".719" stop-color="#ae2f00"/><stop offset=".75" stop-color="#ad2e00"/><stop offset=".781" stop-color="#c14200"/><stop offset=".812" stop-color="#e46400"/><stop offset=".844" stop-color="#f37400"/><stop offset=".875" stop-color="#f57500"/><stop offset=".906" stop-color="#ff8202"/><stop offset="1" stop-color="#ff8607"/></linearGradient>
<linearGradient id="c40" x1="0" y1="0" x2="0" y2="1"><stop offset="0" stop-color="#820300"/><stop offset=".062" stop-color="#740000"/><stop offset=".094" stop-color="#720000"/><stop offset=".125" stop-color="#981800"/><stop offset=".156" stop-color="#f07100"/><stop offset=".188" stop-color="#ffa828"/><stop offset=".25" stop-color="#ffb232"/><stop offset=".281" stop-color="#ffa324"/><stop offset=".312" stop-color="#ff8203"/><stop offset=".344" stop-color="#ef6f00"/><stop offset=".375" stop-color="#f57600"/><stop offset=".406" stop-color="#ec6c00"/><stop offset=".438" stop-color="#d45500"/><stop offset=".469" stop-color="#f07100"/><stop offset=".531" stop-color="#ef6f00"/><stop offset=".594" stop-color="#ff8b0c"/><stop offset=".625" stop-color="#ff8f0f"/><stop offset=".688" stop-color="#d65700"/><stop offset=".719" stop-color="#c14100"/><stop offset=".75" stop-color="#be3e00"/><stop offset=".781" stop-color="#cf4f00"/><stop offset=".812" stop-color="#f27200"/><stop offset=".844" stop-color="#ff8304"/><stop offset=".875" stop-color="#ff8506"/><stop offset=".906" stop-color="#ff9213"/><stop offset="1" stop-color="#ff9414"/></linearGradient>
<linearGradient id="c41" x1="0" y1="0" x2="0" y2="1"><stop offset="0" stop-color="#800000"/><stop offset=".062" stop-color="#720000"/><stop offset=".094" stop-color="#710000"/><stop offset=".125" stop-color="#9a1a00"/><stop offset=".156" stop-color="#f07100"/><stop offset=".188" stop-color="#ffa424"/><stop offset=".25" stop-color="#ffb232"/><stop offset=".281" stop-color="#ffa020"/><stop offset=".312" stop-color="#fe7e00"/><stop offset=".344" stop-color="#eb6c00"/><stop offset=".375" stop-color="#ed6e00"/><stop offset=".438" stop-color="#d15200"/><stop offset=".469" stop-color="#ee6e00"/><stop offset=".531" stop-color="#ea6b00"/><stop offset=".594" stop-color="#ff8505"/><stop offset=".625" stop-color="#ff8707"/><stop offset=".719" stop-color="#c44500"/><stop offset=".75" stop-color="#c04000"/><stop offset=".781" stop-color="#cc4d00"/><stop offset=".812" stop-color="#ed6d00"/><stop offset=".844" stop-color="#fe7f00"/><stop offset=".875" stop-color="#ff8202"/><stop offset=".906" stop-color="#ff8e0f"/><stop offset="1" stop-color="#ff8c0c"/></linearGradient>
<linearGradient id="c42" x1="0" y1="0" x2="0" y2="1"><stop offset="0" stop-color="#860700"/><stop offset=".062" stop-color="#780000"/><stop offset=".094" stop-color="#780000"/><stop offset=".125" stop-color="#a72700"/><stop offset=".156" stop-color="#ff8202"/><stop offset=".188" stop-color="#ffb435"/><stop offset=".25" stop-color="#ffc949"/><stop offset=".281" stop-color="#ffb233"/><stop offset=".312" stop-color="#ff8d0d"/><stop offset=".344" stop-color="#f97a00"/><stop offset=".375" stop-color="#f77800"/><stop offset=".438" stop-color="#de5f00"/><stop offset=".469" stop-color="#fc7d00"/><stop offset=".531" stop-color="#f77800"/><stop offset=".594" stop-color="#ff9213"/><stop offset=".625" stop-color="#ff9213"/><stop offset=".719" stop-color="#d75700"/><stop offset=".75" stop-color="#d05000"/><stop offset=".781" stop-color="#d95a00"/><stop offset=".812" stop-color="#f97a00"/><stop offset=".844" stop-color="#ff8d0e"/><stop offset=".875" stop-color="#ff9212"/><stop offset=".906" stop-color="#ff9f20"/><stop offset=".969" stop-color="#ff9616"/><stop offset="1" stop-color="#ff9818"/></linearGradient>
<linearGradient id="c43" x1="0" y1="0" x2="0" y2="1"><stop offset="0" stop-color="#820200"/><stop offset=".062" stop-color="#750000"/><stop offset=".094" stop-color="#760000"/><stop offset=".125" stop-color="#a62700"/><stop offset=".156" stop-color="#fd7e00"/><stop offset=".188" stop-color="#ffac2c"/><stop offset=".219" stop-color="#ffbc3d"/><stop offset=".25" stop-color="#ffc546"/><stop offset=".281" stop-color="#ffac2c"/><stop offset=".312" stop-color="#ff8606"/><stop offset=".344" stop-color="#f47400"/><stop offset=".438" stop-color="#d95900"/><stop offset=".469" stop-color="#f67700"/><stop offset=".531" stop-color="#f07100"/><stop offset=".594" stop-color="#ff8a0a"/><stop offset=".625" stop-color="#ff8808"/><stop offset=".688" stop-color="#e56600"/><stop offset=".75" stop-color="#ce4f00"/><stop offset=".781" stop-color="#d45500"/><stop offset=".812" stop-color="#f27300"/><stop offset=".844" stop-color="#ff8607"/><stop offset=".875" stop-color="#ff8c0d"/><stop offset=".906" stop-color="#ff991a"/><stop offset=".969" stop-color="#ff8b0c"/><stop offset="1" stop-color="#ff8e0e"/></linearGradient>
<linearGradient id="c44" x1="0" y1="0" x2="0" y2="1"><stop offset="0" stop-color="#7f0000"/><stop offset=".062" stop-color="#730000"/><stop offset=".094" stop-color="#760000"/><stop offset=".125" stop-color="#a82800"/><stop offset=".156" stop-color="#fb7c00"/><stop offset=".188" stop-color="#ffa627"/><stop offset=".219" stop-color="#ffbb3b"/><stop offset=".25" stop-color="#ffc545"/><stop offset=".281" stop-color="#ffa829"/><stop offset=".312" stop-color="#ff8203"/><stop offset=".406" stop-color="#d85900"/><stop offset=".438" stop-color="#d65600"/><stop offset=".469" stop-color="#f27300"/><stop offset=".531" stop-color="#ec6c00"/><stop offset=".594" stop-color="#ff8404"/><stop offset=".625" stop-color="#ff8102"/><stop offset=".656" stop-color="#ef6f00"/><stop offset=".75" stop-color="#ce4f00"/><stop offset=".781" stop-color="#d25200"/><stop offset=".812" stop-color="#ee6e00"/><stop offset=".844" stop-color="#ff8203"/><stop offset=".906" stop-color="#ff9616"/><stop offset=".938" stop-color="#ff9111"/><stop offset=".969" stop-color="#ff8505"/><stop offset="1" stop-color="#ff8808"/></linearGradient>
<linearGradient id="c45" x1="0" y1="0" x2="0" y2="1"><stop offset="0" stop-color="#810100"/><stop offset=".062" stop-color="#750000"/><stop offset=".094" stop-color="#7a0000"/><stop offset=".125" stop-color="#b03000"/><stop offset=".156" stop-color="#ff8202"/><stop offset=".188" stop-color="#ffab2b"/><stop offset=".219" stop-color="#ffc343"/><stop offset=".25" stop-color="#ffcd4e"/><stop offset=".312" stop-color="#ff8809"/><stop offset=".406" stop-color="#d85900"/><stop offset=".438" stop-color="#da5a00"/><stop offset=".469" stop-color="#f57600"/><stop offset=".531" stop-color="#ef7000"/><stop offset=".594" stop-color="#ff8607"/><stop offset=".625" stop-color="#ff8303"/><stop offset=".656" stop-color="#f07100"/><stop offset=".75" stop-color="#d45400"/><stop offset=".781" stop-color="#d55600"/><stop offset=".812" stop-color="#f17200"/><stop offset=".844" stop-color="#ff8607"/><stop offset=".906" stop-color="#ff9a1a"/><stop offset=".938" stop-color="#ff9515"/><stop offset=".969" stop-color="#ff8708"/><stop offset="1" stop-color="#ff8a0b"/></linearGradient>
<linearGradient id="c46" x1="0" y1="0" x2="0" y2="1"><stop offset="0" stop-color="#8f0f00"/><stop offset=".062" stop-color="#830300"/><stop offset=".094" stop-color="#8b0c00"/><stop offset=".125" stop-color="#ca4a00"/><stop offset=".156" stop-color="#ffa121"/><stop offset=".188" stop-color="#ffcb4c"/><stop offset=".219" stop-color="#ffe969"/><stop offset=".25" stop-color="#fff575"/><stop offset=".312" stop-color="#ffa829"/><stop offset=".406" stop-color="#ed6d00"/><stop offset=".438" stop-color="#f17200"/><stop offset=".469" stop-color="#ff8f0f"/><stop offset=".531" stop-color="#ff8a0a"/><stop offset=".594" stop-color="#ffa122"/><stop offset=".625" stop-color="#ff9d1d"/><stop offset=".656" stop-color="#ff8909"/><stop offset=".719" stop-color="#fa7a00"/><stop offset=".75" stop-color="#ec6d00"/><stop offset=".781" stop-color="#ed6d00"/><stop offset=".812" stop-color="#ff8c0d"/><stop offset=".844" stop-color="#ffa323"/><stop offset=".875" stop-color="#ffa929"/><stop offset=".906" stop-color="#ffb738"/><stop offset=".938" stop-color="#ffb233"/><stop offset=".969" stop-color="#ffa324"/><stop offset="1" stop-color="#ffa627"/></linearGradient>
<linearGradient id="c47" x1="0" y1="0" x2="0" y2="1"><stop offset="0" stop-color="#9b1b00"/><stop offset=".062" stop-color="#8f0f00"/><stop offset=".094" stop-color="#9c1d00"/><stop offset=".125" stop-color="#e36400"/><stop offset=".156" stop-color="#ffbc3c"/><stop offset=".188" stop-color="#ffe868"/><stop offset=".219" stop-color="#ffff8a"/><stop offset=".25" stop-color="#ffff96"/><stop offset=".312" stop-color="#ffc545"/><stop offset=".344" stop-color="#ffb232"/><stop offset=".406" stop-color="#fe7f00"/><stop offset=".438" stop-color="#ff8506"/><stop offset=".469" stop-color="#ffa223"/><stop offset=".531" stop-color="#ffa020"/><stop offset=".594" stop-color="#ffb737"/><stop offset=".625" stop-color="#ffb232"/><stop offset=".656" stop-color="#ff9b1c"/><stop offset=".719" stop-color="#ff8f10"/><stop offset=".75" stop-color="#ff8001"/><stop offset=".781" stop-color="#ff8101"/><stop offset=".812" stop-color="#ffa223"/><stop offset=".844" stop-color="#ffba3a"/><stop offset=".875" stop-color="#ffbf3f"/><stop offset=".906" stop-color="#ffce4f"/><stop offset=".938" stop-color="#ffca4b"/><stop offset=".969" stop-color="#ffbb3b"/><stop offset="1" stop-color="#ffbd3e"/></linearGradient>
<linearGradient id="c48" x1="0" y1="0" x2="0" y2="1"><stop offset="0" stop-color="#911100"/><stop offset=".062" stop-color="#870700"/><stop offset=".094" stop-color="#981800"/><stop offset=".125" stop-color="#dc5d00"/><stop offset=".156" stop-color="#ffaa2a"/><stop offset=".219" stop-color="#fff171"/><stop offset=".25" stop-color="#fffb7b"/><stop offset=".312" stop-color="#ffb333"/><stop offset=".344" stop-color="#ffa122"/><stop offset=".406" stop-color="#eb6b00"/><stop offset=".438" stop-color="#f27200"/><stop offset=".469" stop-color="#ff8b0c"/><stop offset=".531" stop-color="#ff8c0c"/><stop offset=".594" stop-color="#ff9f1f"/><stop offset=".625" stop-color="#ff9b1b"/><stop offset=".656" stop-color="#ff8505"/><stop offset=".719" stop-color="#fb7c00"/><stop offset=".75" stop-color="#ed6e00"/><stop offset=".781" stop-color="#ee6f00"/><stop offset=".812" stop-color="#ff8e0f"/><stop offset=".844" stop-color="#ffa324"/><stop offset=".875" stop-color="#ffa526"/><stop offset=".906" stop-color="#ffb333"/><stop offset=".938" stop-color="#ffb132"/><stop offset=".969" stop-color="#ffa424"/><stop offset="1" stop-color="#ffa626"/></linearGradient>
<linearGradient id="c49" x1="0" y1="0" x2="0" y2="1"><stop offset="0" stop-color="#8e0e00"/><stop offset=".062" stop-color="#850600"/><stop offset=".094" stop-color="#9a1b00"/><stop offset=".156" stop-color="#ffa425"/><stop offset=".219" stop-color="#ffe768"/><stop offset=".25" stop-color="#fff070"/><stop offset=".312" stop-color="#ffad2e"/><stop offset=".344" stop-color="#ff9d1d"/><stop offset=".375" stop-color="#fb7c00"/><stop offset=".406" stop-color="#e26200"/><stop offset=".438" stop-color="#e96900"/><stop offset=".469" stop-color="#ff8000"/><stop offset=".531" stop-color="#ff8304"/><stop offset=".594" stop-color="#ff9313"/><stop offset=".625" stop-color="#ff8f10"/><stop offset=".656" stop-color="#f97a00"/><stop offset=".719" stop-color="#f27200"/><stop offset=".75" stop-color="#e46500"/><stop offset=".781" stop-color="#e66600"/><stop offset=".812" stop-color="#ff8505"/><stop offset=".844" stop-color="#ff9819"/><stop offset=".875" stop-color="#ff9819"/><stop offset=".906" stop-color="#ffa425"/><stop offset=".938" stop-color="#ffa425"/><stop offset=".969" stop-color="#ff9919"/><stop offset="1" stop-color="#ff9a1b"/></linearGradient>
<linearGradient id="c50" x1="0" y1="0" x2="0" y2="1"><stop offset="0" stop-color="#9e1e00"/><stop offset=".062" stop-color="#961600"/><stop offset=".094" stop-color="#b23300"/><stop offset=".125" stop-color="#ff8001"/><stop offset=".156" stop-color="#ffc646"/><stop offset=".219" stop-color="#ffff8d"/><stop offset=".25" stop-color="#ffff95"/><stop offset=".281" stop-color="#ffed6e"/><stop offset=".312" stop-color="#ffce4e"/><stop offset=".344" stop-color="#ffbd3e"/><stop offset=".375" stop-color="#ff9515"/><stop offset=".406" stop-color="#f67600"/><stop offset=".438" stop-color="#fd7e00"/><stop offset=".469" stop-color="#ff9515"/><stop offset=".562" stop-color="#ffa122"/><stop offset=".594" stop-color="#ffaa2a"/><stop offset=".625" stop-color="#ffa727"/><stop offset=".656" stop-color="#ff8f0f"/><stop offset=".719" stop-color="#ff8808"/><stop offset=".75" stop-color="#f97900"/><stop offset=".781" stop-color="#fb7b00"/><stop offset=".812" stop-color="#ff9d1d"/><stop offset=".844" stop-color="#ffb131"/><stop offset=".875" stop-color="#ffae2e"/><stop offset=".906" stop-color="#ffb93a"/><stop offset=".938" stop-color="#ffba3b"/><stop offset=".969" stop-color="#ffb030"/><stop offset="1" stop-color="#ffb132"/></linearGradient>
<linearGradient id="c51" x1="0" y1="0" x2="0" y2="1"><stop offset="0" stop-color="#961600"/><stop offset=".062" stop-color="#901000"/><stop offset=".094" stop-color="#b03000"/><stop offset=".125" stop-color="#fa7a00"/><stop offset=".156" stop-color="#ffb636"/><stop offset=".219" stop-color="#fff576"/><stop offset=".25" stop-color="#fffa7a"/><stop offset=".281" stop-color="#ffd556"/><stop offset=".312" stop-color="#ffba3a"/><stop offset=".344" stop-color="#ffab2c"/><stop offset=".375" stop-color="#ff8303"/><stop offset=".406" stop-color="#e36400"/><stop offset=".438" stop-color="#ea6b00"/><stop offset=".469" stop-color="#fe7f00"/><stop offset=".594" stop-color="#ff9213"/><stop offset=".625" stop-color="#ff9010"/><stop offset=".656" stop-color="#fa7b00"/><stop offset=".719" stop-color="#f47400"/><stop offset=".75" stop-color="#e66600"/><stop offset=".781" stop-color="#e86900"/><stop offset=".812" stop-color="#ff8808"/><stop offset=".844" stop-color="#ff991a"/><stop offset=".875" stop-color="#ff9515"/><stop offset=".938" stop-color="#ff9d1e"/><stop offset=".969" stop-color="#ff9516"/><stop offset="1" stop-color="#ff9717"/></linearGradient>
<linearGradient id="c52" x1="0" y1="0" x2="0" y2="1"><stop offset="0" stop-color="#971800"/><stop offset=".062" stop-color="#931300"/><stop offset=".094" stop-color="#b83900"/><stop offset=".125" stop-color="#ff8203"/><stop offset=".156" stop-color="#ffb939"/><stop offset=".219" stop-color="#fff474"/><stop offset=".25" stop-color="#fff677"/><stop offset=".281" stop-color="#ffd151"/><stop offset=".312" stop-color="#ffb637"/><stop offset=".344" stop-color="#ffaa2b"/><stop offset=".375" stop-color="#ff8101"/><stop offset=".406" stop-color="#de5f00"/><stop offset=".438" stop-color="#e56500"/><stop offset=".469" stop-color="#f87800"/><stop offset=".594" stop-color="#ff8b0b"/><stop offset=".625" stop-color="#ff8909"/><stop offset=".656" stop-color="#f67700"/><stop offset=".719" stop-color="#f07000"/><stop offset=".75" stop-color="#e16200"/><stop offset=".781" stop-color="#e36400"/><stop offset=".812" stop-color="#ff8202"/><stop offset=".844" stop-color="#ff9213"/><stop offset=".875" stop-color="#ff8c0c"/><stop offset=".938" stop-color="#ff8f0f"/><stop offset=".969" stop-color="#ff8909"/><stop offset="1" stop-color="#ff8b0c"/></linearGradient>
<linearGradient id="c53" x1="0" y1="0" x2="0" y2="1"><stop offset="0" stop-color="#9a1b00"/><stop offset=".062" stop-color="#981800"/><stop offset=".094" stop-color="#c34400"/><stop offset=".125" stop-color="#ff8d0e"/><stop offset=".156" stop-color="#ffbf40"/><stop offset=".219" stop-color="#fff677"/><stop offset=".25" stop-color="#fff777"/><stop offset=".281" stop-color="#ffd050"/><stop offset=".312" stop-color="#ffb435"/><stop offset=".344" stop-color="#ffab2b"/><stop offset=".406" stop-color="#dc5c00"/><stop offset=".438" stop-color="#e26200"/><stop offset=".469" stop-color="#f47500"/><stop offset=".594" stop-color="#ff8506"/><stop offset=".625" stop-color="#ff8404"/><stop offset=".656" stop-color="#f57500"/><stop offset=".719" stop-color="#ee6e00"/><stop offset=".75" stop-color="#df6000"/><stop offset=".781" stop-color="#e06100"/><stop offset=".812" stop-color="#fd7d00"/><stop offset=".844" stop-color="#ff8d0d"/><stop offset=".969" stop-color="#fd7d00"/><stop offset="1" stop-color="#ff8102"/></linearGradient>
<linearGradient id="c54" x1="0" y1="0" x2="0" y2="1"><stop offset="0" stop-color="#9a1a00"/><stop offset=".062" stop-color="#9a1a00"/><stop offset=".094" stop-color="#ca4a00"/><stop offset=".125" stop-color="#ff9111"/><stop offset=".156" stop-color="#ffbe3f"/><stop offset=".188" stop-color="#ffdb5c"/><stop offset=".219" stop-color="#fff171"/><stop offset=".25" stop-color="#ffef6f"/><stop offset=".281" stop-color="#ffc647"/><stop offset=".312" stop-color="#ffab2b"/><stop offset=".344" stop-color="#ffa424"/><stop offset=".406" stop-color="#d45500"/><stop offset=".438" stop-color="#d95a00"/><stop offset=".469" stop-color="#ec6c00"/><stop offset=".594" stop-color="#fa7b00"/><stop offset=".719" stop-color="#e76800"/><stop offset=".75" stop-color="#d85900"/><stop offset=".781" stop-color="#d95900"/><stop offset=".812" stop-color="#f37300"/><stop offset=".844" stop-color="#ff8202"/><stop offset=".969" stop-color="#eb6b00"/><stop offset="1" stop-color="#f07100"/></linearGradient>
<linearGradient id="c55" x1="0" y1="0" x2="0" y2="1"><stop offset="0" stop-color="#9a1a00"/><stop offset=".031" stop-color="#971700"/><stop offset=".062" stop-color="#9c1d00"/><stop offset=".094" stop-color="#d15200"/><stop offset=".125" stop-color="#ff9516"/><stop offset=".156" stop-color="#ffbf3f"/><stop offset=".188" stop-color="#ffda5b"/><stop offset=".219" stop-color="#ffed6e"/><stop offset=".25" stop-color="#ffea6a"/><stop offset=".281" stop-color="#ffbf40"/><stop offset=".312" stop-color="#ffa223"/><stop offset=".344" stop-color="#ff9d1d"/><stop offset=".406" stop-color="#cf5000"/><stop offset=".438" stop-color="#d45400"/><stop offset=".469" stop-color="#e56500"/><stop offset=".562" stop-color="#f37400"/><stop offset=".719" stop-color="#e26300"/><stop offset=".75" stop-color="#d35400"/><stop offset=".781" stop-color="#d35300"/><stop offset=".812" stop-color="#ea6b00"/><stop offset=".844" stop-color="#f87800"/><stop offset=".938" stop-color="#dc5d00"/><stop offset=".969" stop-color="#db5c00"/><stop offset="1" stop-color="#e16200"/></linearGradient>
<linearGradient id="c56" x1="0" y1="0" x2="0" y2="1"><stop offset="0" stop-color="#931300"/><stop offset=".031" stop-color="#901000"/><stop offset=".062" stop-color="#981900"/><stop offset=".094" stop-color="#cf4f00"/><stop offset=".125" stop-color="#ff8d0d"/><stop offset=".156" stop-color="#ffb031"/><stop offset=".188" stop-color="#ffca4a"/><stop offset=".219" stop-color="#ffdb5b"/><stop offset=".25" stop-color="#ffd757"/><stop offset=".281" stop-color="#ffac2c"/><stop offset=".312" stop-color="#ff8f10"/><stop offset=".344" stop-color="#ff8a0b"/><stop offset=".406" stop-color="#c34400"/><stop offset=".438" stop-color="#c64700"/><stop offset=".469" stop-color="#d55600"/><stop offset=".562" stop-color="#e46400"/><stop offset=".719" stop-color="#d45500"/><stop offset=".75" stop-color="#c74700"/><stop offset=".781" stop-color="#c54600"/><stop offset=".812" stop-color="#d95a00"/><stop offset=".844" stop-color="#e66600"/><stop offset=".906" stop-color="#d45500"/><stop offset=".938" stop-color="#c54500"/><stop offset="1" stop-color="#cc4c00"/></linearGradient>
<linearGradient id="c57" x1="0" y1="0" x2="0" y2="1"><stop offset="0" stop-color="#9d1d00"/><stop offset=".031" stop-color="#9a1a00"/><stop offset=".062" stop-color="#a82800"/><stop offset=".125" stop-color="#ffa525"/><stop offset=".156" stop-color="#ffc748"/><stop offset=".188" stop-color="#ffe262"/><stop offset=".219" stop-color="#fff475"/><stop offset=".25" stop-color="#ffef70"/><stop offset=".281" stop-color="#ffbe3f"/><stop offset=".312" stop-color="#ff9f1f"/><stop offset=".344" stop-color="#ff9818"/><stop offset=".375" stop-color="#f17100"/><stop offset=".406" stop-color="#d25200"/><stop offset=".438" stop-color="#d35400"/><stop offset=".469" stop-color="#e16100"/><stop offset=".562" stop-color="#f27200"/><stop offset=".625" stop-color="#e46500"/><stop offset=".719" stop-color="#e26200"/><stop offset=".75" stop-color="#d45500"/><stop offset=".781" stop-color="#d25300"/><stop offset=".844" stop-color="#f27200"/><stop offset=".875" stop-color="#ec6c00"/><stop offset=".938" stop-color="#c94900"/><stop offset="1" stop-color="#d25200"/></linearGradient>
<linearGradient id="c58" x1="0" y1="0" x2="0" y2="1"><stop offset="0" stop-color="#951600"/><stop offset=".031" stop-color="#931400"/><stop offset=".062" stop-color="#a52600"/><stop offset=".125" stop-color="#ff9d1d"/><stop offset=".188" stop-color="#ffd454"/><stop offset=".219" stop-color="#ffe768"/><stop offset=".25" stop-color="#ffe364"/><stop offset=".281" stop-color="#ffb132"/><stop offset=".312" stop-color="#ff9212"/><stop offset=".344" stop-color="#ff8808"/><stop offset=".375" stop-color="#e36300"/><stop offset=".406" stop-color="#cd4d00"/><stop offset=".438" stop-color="#cd4d00"/><stop offset=".562" stop-color="#e86800"/><stop offset=".625" stop-color="#d65600"/><stop offset=".719" stop-color="#d85800"/><stop offset=".75" stop-color="#cd4e00"/><stop offset=".781" stop-color="#cb4b00"/><stop offset=".844" stop-color="#e66700"/><stop offset=".875" stop-color="#e16200"/><stop offset=".938" stop-color="#bc3c00"/><stop offset="1" stop-color="#c44500"/></linearGradient>
<linearGradient id="c59" x1="0" y1="0" x2="0" y2="1"><stop offset="0" stop-color="#971800"/><stop offset=".031" stop-color="#971700"/><stop offset=".062" stop-color="#af2f00"/><stop offset=".094" stop-color="#f27200"/><stop offset=".125" stop-color="#ffa828"/><stop offset=".219" stop-color="#fff575"/><stop offset=".25" stop-color="#fff172"/><stop offset=".281" stop-color="#ffba3b"/><stop offset=".312" stop-color="#ff9a1a"/><stop offset=".344" stop-color="#ff8b0b"/><stop offset=".375" stop-color="#e56500"/><stop offset=".406" stop-color="#d85900"/><stop offset=".5" stop-color="#dd5e00"/><stop offset=".562" stop-color="#f07000"/><stop offset=".625" stop-color="#d75800"/><stop offset=".719" stop-color="#de5f00"/><stop offset=".781" stop-color="#d35400"/><stop offset=".844" stop-color="#ed6e00"/><stop offset=".875" stop-color="#e86900"/><stop offset=".938" stop-color="#c04000"/><stop offset="1" stop-color="#c84900"/></linearGradient>
<linearGradient id="c60" x1="0" y1="0" x2="0" y2="1"><stop offset="0" stop-color="#880900"/><stop offset=".031" stop-color="#890a00"/><stop offset=".062" stop-color="#a52500"/><stop offset=".094" stop-color="#e46400"/><stop offset=".125" stop-color="#ff9112"/><stop offset=".219" stop-color="#ffd95a"/><stop offset=".25" stop-color="#ffd758"/><stop offset=".281" stop-color="#ffa222"/><stop offset=".312" stop-color="#ff8405"/><stop offset=".344" stop-color="#f07000"/><stop offset=".375" stop-color="#ce4e00"/><stop offset=".469" stop-color="#c64700"/><stop offset=".5" stop-color="#ca4a00"/><stop offset=".562" stop-color="#df5f00"/><stop offset=".625" stop-color="#c34300"/><stop offset=".719" stop-color="#cd4d00"/><stop offset=".781" stop-color="#c64600"/><stop offset=".844" stop-color="#db5c00"/><stop offset=".875" stop-color="#d75800"/><stop offset=".938" stop-color="#b23200"/><stop offset="1" stop-color="#b83900"/></linearGradient>
<linearGradient id="c61" x1="0" y1="0" x2="0" y2="1"><stop offset="0" stop-color="#7a0000"/><stop offset=".031" stop-color="#7c0000"/><stop offset=".062" stop-color="#9a1b00"/><stop offset=".094" stop-color="#d65600"/><stop offset=".125" stop-color="#fb7b00"/><stop offset=".156" stop-color="#ff8b0b"/><stop offset=".219" stop-color="#ffbe3f"/><stop offset=".25" stop-color="#ffbe3f"/><stop offset=".281" stop-color="#ff8b0b"/><stop offset=".344" stop-color="#d75800"/><stop offset=".375" stop-color="#b83900"/><stop offset=".406" stop-color="#c24200"/><stop offset=".469" stop-color="#b43500"/><stop offset=".5" stop-color="#b83800"/><stop offset=".531" stop-color="#c84900"/><stop offset=".562" stop-color="#cf4f00"/><stop offset=".625" stop-color="#b03000"/><stop offset=".656" stop-color="#ae2f00"/><stop offset=".719" stop-color="#bc3d00"/><stop offset=".781" stop-color="#b93a00"/><stop offset=".844" stop-color="#cb4b00"/><stop offset=".875" stop-color="#c74800"/><stop offset=".938" stop-color="#a62700"/><stop offset="1" stop-color="#ab2b00"/></linearGradient>
<linearGradient id="c62" x1="0" y1="0" x2="0" y2="1"><stop offset="0" stop-color="#7e0000"/><stop offset=".031" stop-color="#820200"/><stop offset=".062" stop-color="#a62600"/><stop offset=".094" stop-color="#e66600"/><stop offset=".125" stop-color="#ff8a0a"/><stop offset=".156" stop-color="#ff9717"/><stop offset=".188" stop-color="#ffb031"/><stop offset=".219" stop-color="#ffd253"/><stop offset=".25" stop-color="#ffd354"/><stop offset=".281" stop-color="#ff9a1b"/><stop offset=".375" stop-color="#be3f00"/><stop offset=".406" stop-color="#d35400"/><stop offset=".438" stop-color="#cd4e00"/><stop offset=".469" stop-color="#bd3e00"/><stop offset=".5" stop-color="#c14100"/><stop offset=".531" stop-color="#d75700"/><stop offset=".562" stop-color="#de5e00"/><stop offset=".625" stop-color="#b93900"/><stop offset=".656" stop-color="#b43500"/><stop offset=".719" stop-color="#c84900"/><stop offset=".781" stop-color="#c84900"/><stop offset=".844" stop-color="#d85900"/><stop offset=".875" stop-color="#d45500"/><stop offset=".938" stop-color="#b43400"/><stop offset="1" stop-color="#b73700"/></linearGradient>
<linearGradient id="c63" x1="0" y1="0" x2="0" y2="1"><stop offset="0" stop-color="#820300"/><stop offset=".031" stop-color="#870800"/><stop offset=".062" stop-color="#b13200"/><stop offset=".094" stop-color="#f67700"/><stop offset=".125" stop-color="#ff9819"/><stop offset=".156" stop-color="#ffa324"/><stop offset=".188" stop-color="#ffbe3f"/><stop offset=".219" stop-color="#ffe666"/><stop offset=".25" stop-color="#ffe869"/><stop offset=".281" stop-color="#ffaa2b"/><stop offset=".312" stop-color="#ff8e0f"/><stop offset=".375" stop-color="#c54600"/><stop offset=".406" stop-color="#e46500"/><stop offset=".438" stop-color="#dd5d00"/><stop offset=".469" stop-color="#c74700"/><stop offset=".5" stop-color="#cb4b00"/><stop offset=".531" stop-color="#e66700"/><stop offset=".562" stop-color="#ee6e00"/><stop offset=".625" stop-color="#c34300"/><stop offset=".656" stop-color="#bc3c00"/><stop offset=".719" stop-color="#d45500"/><stop offset=".812" stop-color="#df5f00"/><stop offset=".844" stop-color="#e66700"/><stop offset=".875" stop-color="#e26200"/><stop offset=".938" stop-color="#c24300"/><stop offset="1" stop-color="#c44400"/></linearGradient>
<linearGradient id="c64" x1="0" y1="0" x2="0" y2="1"><stop offset="0" stop-color="#750000"/><stop offset=".031" stop-color="#7a0000"/><stop offset=".062" stop-color="#a42400"/><stop offset=".094" stop-color="#e46400"/><stop offset=".125" stop-color="#ff8000"/><stop offset=".156" stop-color="#ff8808"/><stop offset=".188" stop-color="#ffa021"/><stop offset=".219" stop-color="#ffc747"/><stop offset=".25" stop-color="#ffca4a"/><stop offset=".281" stop-color="#ff9010"/><stop offset=".312" stop-color="#f77700"/><stop offset=".375" stop-color="#b23200"/><stop offset=".406" stop-color="#d45400"/><stop offset=".438" stop-color="#cc4c00"/><stop offset=".469" stop-color="#b53500"/><stop offset=".5" stop-color="#b93900"/><stop offset=".531" stop-color="#d55600"/><stop offset=".562" stop-color="#dd5d00"/><stop offset=".594" stop-color="#cc4c00"/><stop offset=".625" stop-color="#b33400"/><stop offset=".656" stop-color="#ab2b00"/><stop offset=".75" stop-color="#cb4c00"/><stop offset=".812" stop-color="#cf4f00"/><stop offset=".844" stop-color="#d45400"/><stop offset=".875" stop-color="#cf4f00"/><stop offset=".938" stop-color="#b43500"/><stop offset="1" stop-color="#b53600"/></linearGradient>
<linearGradient id="c65" x1="0" y1="0" x2="0" y2="1"><stop offset="0" stop-color="#710000"/><stop offset=".031" stop-color="#770000"/><stop offset=".062" stop-color="#a12100"/><stop offset=".094" stop-color="#e16100"/><stop offset=".125" stop-color="#fa7a00"/><stop offset=".156" stop-color="#ff8001"/><stop offset=".188" stop-color="#ff9718"/><stop offset=".219" stop-color="#ffbe3e"/><stop offset=".25" stop-color="#ffc141"/><stop offset=".281" stop-color="#ff8808"/><stop offset=".312" stop-color="#f17100"/><stop offset=".375" stop-color="#ad2d00"/><stop offset=".406" stop-color="#d05100"/><stop offset=".438" stop-color="#c84900"/><stop offset=".469" stop-color="#af3000"/><stop offset=".5" stop-color="#b43500"/><stop offset=".531" stop-color="#d25300"/><stop offset=".562" stop-color="#da5b00"/><stop offset=".594" stop-color="#ca4a00"/><stop offset=".625" stop-color="#b23200"/><stop offset=".656" stop-color="#a82800"/><stop offset=".75" stop-color="#c94a00"/><stop offset=".844" stop-color="#d05000"/><stop offset=".938" stop-color="#b23300"/><stop offset="1" stop-color="#b33300"/></linearGradient>
<linearGradient id="c66" x1="0" y1="0" x2="0" y2="1"><stop offset="0" stop-color="#700000"/><stop offset=".031" stop-color="#750000"/><stop offset=".062" stop-color="#a02100"/><stop offset=".094" stop-color="#e06100"/><stop offset=".125" stop-color="#f87900"/><stop offset=".156" stop-color="#fc7d00"/><stop offset=".188" stop-color="#ff9313"/><stop offset=".219" stop-color="#ffb838"/><stop offset=".25" stop-color="#ffbb3c"/><stop offset=".281" stop-color="#ff8303"/><stop offset=".312" stop-color="#ee6e00"/><stop offset=".375" stop-color="#ab2b00"/><stop offset=".406" stop-color="#cf4f00"/><stop offset=".438" stop-color="#c64700"/><stop offset=".469" stop-color="#ad2d00"/><stop offset=".5" stop-color="#b33300"/><stop offset=".531" stop-color="#d25200"/><stop offset=".562" stop-color="#db5b00"/><stop offset=".625" stop-color="#b33300"/><stop offset=".656" stop-color="#a82900"/><stop offset=".75" stop-color="#c94900"/><stop offset=".844" stop-color="#ce4e00"/><stop offset=".938" stop-color="#b23200"/><stop offset="1" stop-color="#b23200"/></linearGradient>
<linearGradient id="c67" x1="0" y1="0" x2="0" y2="1"><stop offset="0" stop-color="#710000"/><stop offset=".031" stop-color="#770000"/><stop offset=".062" stop-color="#a42400"/><stop offset=".094" stop-color="#e66600"/><stop offset=".125" stop-color="#fd7e00"/><stop offset=".156" stop-color="#ff8001"/><stop offset=".188" stop-color="#ff9515"/><stop offset=".219" stop-color="#ffb939"/><stop offset=".25" stop-color="#ffbc3c"/><stop offset=".281" stop-color="#ff8404"/><stop offset=".312" stop-color="#f07000"/><stop offset=".375" stop-color="#ae2e00"/><stop offset=".406" stop-color="#d25200"/><stop offset=".438" stop-color="#c84900"/><stop offset=".469" stop-color="#ae2f00"/><stop offset=".5" stop-color="#b53500"/><stop offset=".531" stop-color="#d65600"/><stop offset=".562" stop-color="#e06100"/><stop offset=".625" stop-color="#b83900"/><stop offset=".656" stop-color="#ad2e00"/><stop offset=".75" stop-color="#cc4d00"/><stop offset=".844" stop-color="#d05100"/><stop offset=".938" stop-color="#b53500"/><stop offset="1" stop-color="#b53500"/></linearGradient>
<linearGradient id="c68" x1="0" y1="0" x2="0" y2="1"><stop offset="0" stop-color="#760000"/><stop offset=".031" stop-color="#7d0000"/><stop offset=".062" stop-color="#ad2d00"/><stop offset=".094" stop-color="#f27300"/><stop offset=".125" stop-color="#ff8b0c"/><stop offset=".156" stop-color="#ff8c0d"/><stop offset=".188" stop-color="#ff9f1f"/><stop offset=".219" stop-color="#ffc142"/><stop offset=".25" stop-color="#ffc445"/><stop offset=".281" stop-color="#ff8c0d"/><stop offset=".312" stop-color="#f97900"/><stop offset=".344" stop-color="#d35400"/><stop offset=".375" stop-color="#b63700"/><stop offset=".406" stop-color="#db5b00"/><stop offset=".438" stop-color="#d05000"/><stop offset=".469" stop-color="#b43500"/><stop offset=".5" stop-color="#bd3d00"/><stop offset=".531" stop-color="#e06100"/><stop offset=".562" stop-color="#ec6c00"/><stop offset=".625" stop-color="#c44400"/><stop offset=".656" stop-color="#b83800"/><stop offset=".75" stop-color="#d65600"/><stop offset=".812" stop-color="#db5c00"/><stop offset=".844" stop-color="#d85900"/><stop offset=".938" stop-color="#bc3d00"/><stop offset="1" stop-color="#bd3d00"/></linearGradient>
<linearGradient id="c69" x1="0" y1="0" x2="0" y2="1"><stop offset="0" stop-color="#730000"/><stop offset=".031" stop-color="#7c0000"/><stop offset=".062" stop-color="#ac2d00"/><stop offset=".094" stop-color="#f07100"/><stop offset=".125" stop-color="#ff890a"/><stop offset=".156" stop-color="#ff8909"/><stop offset=".188" stop-color="#ff9717"/><stop offset=".219" stop-color="#ffb535"/><stop offset=".25" stop-color="#ffb738"/><stop offset=".281" stop-color="#ff8405"/><stop offset=".312" stop-color="#f27200"/><stop offset=".344" stop-color="#ce4e00"/><stop offset=".375" stop-color="#b43400"/><stop offset=".406" stop-color="#d75700"/><stop offset=".438" stop-color="#ca4b00"/><stop offset=".469" stop-color="#af3000"/><stop offset=".5" stop-color="#b83900"/><stop offset=".531" stop-color="#dc5d00"/><stop offset=".562" stop-color="#e86900"/><stop offset=".625" stop-color="#c24200"/><stop offset=".656" stop-color="#b63600"/><stop offset=".781" stop-color="#d65700"/><stop offset=".844" stop-color="#d25300"/><stop offset=".938" stop-color="#b83800"/><stop offset="1" stop-color="#b83900"/></linearGradient>
<linearGradient id="c70" x1="0" y1="0" x2="0" y2="1"><stop offset="0" stop-color="#820200"/><stop offset=".031" stop-color="#8e0e00"/><stop offset=".062" stop-color="#c84900"/><stop offset=".094" stop-color="#ff9516"/><stop offset=".125" stop-color="#ffb132"/><stop offset=".156" stop-color="#ffaf2f"/><stop offset=".188" stop-color="#ffb939"/><stop offset=".219" stop-color="#ffd656"/><stop offset=".25" stop-color="#ffd859"/><stop offset=".281" stop-color="#ffa424"/><stop offset=".312" stop-color="#ff9011"/><stop offset=".344" stop-color="#e66700"/><stop offset=".375" stop-color="#cd4d00"/><stop offset=".406" stop-color="#f57600"/><stop offset=".438" stop-color="#e46500"/><stop offset=".469" stop-color="#c54500"/><stop offset=".5" stop-color="#d05100"/><stop offset=".531" stop-color="#fa7b00"/><stop offset=".562" stop-color="#ff8909"/><stop offset=".625" stop-color="#dd5d00"/><stop offset=".656" stop-color="#d05000"/><stop offset=".781" stop-color="#f37300"/><stop offset=".844" stop-color="#ec6c00"/><stop offset=".906" stop-color="#d55500"/><stop offset=".969" stop-color="#d05000"/><stop offset="1" stop-color="#d05000"/></linearGradient>
<linearGradient id="c71" x1="0" y1="0" x2="0" y2="1"><stop offset="0" stop-color="#7b0000"/><stop offset=".031" stop-color="#890a00"/><stop offset=".062" stop-color="#c44500"/><stop offset=".094" stop-color="#ff8c0d"/><stop offset=".125" stop-color="#ffa829"/><stop offset=".156" stop-color="#ffa424"/><stop offset=".188" stop-color="#ffa728"/><stop offset=".219" stop-color="#ffbd3e"/><stop offset=".25" stop-color="#ffbf3f"/><stop offset=".281" stop-color="#ff9313"/><stop offset=".312" stop-color="#ff8102"/><stop offset=".344" stop-color="#d85800"/><stop offset=".375" stop-color="#c44500"/><stop offset=".406" stop-color="#ec6c00"/><stop offset=".438" stop-color="#d85900"/><stop offset=".469" stop-color="#b93a00"/><stop offset=".5" stop-color="#c54500"/><stop offset=".531" stop-color="#ef6f00"/><stop offset=".562" stop-color="#fc7c00"/><stop offset=".625" stop-color="#d25300"/><stop offset=".656" stop-color="#c64700"/><stop offset=".719" stop-color="#d25300"/><stop offset=".781" stop-color="#e66700"/><stop offset=".844" stop-color="#de5e00"/><stop offset=".906" stop-color="#c84900"/><stop offset=".969" stop-color="#c44500"/><stop offset="1" stop-color="#c44500"/></linearGradient>
<linearGradient id="c72" x1="0" y1="0" x2="0" y2="1"><stop offset="0" stop-color="#7f0000"/><stop offset=".031" stop-color="#911100"/><stop offset=".062" stop-color="#d25200"/><stop offset=".094" stop-color="#ff9b1c"/><stop offset=".125" stop-color="#ffba3a"/><stop offset=".188" stop-color="#ffaf30"/><stop offset=".219" stop-color="#ffc040"/><stop offset=".25" stop-color="#ffc242"/><stop offset=".281" stop-color="#ff9a1a"/><stop offset=".312" stop-color="#ff8809"/><stop offset=".344" stop-color="#db5c00"/><stop offset=".375" stop-color="#cc4d00"/><stop offset=".406" stop-color="#f87800"/><stop offset=".438" stop-color="#e06000"/><stop offset=".469" stop-color="#be3e00"/><stop offset=".5" stop-color="#cb4b00"/><stop offset=".531" stop-color="#f87800"/><stop offset=".562" stop-color="#ff8506"/><stop offset=".625" stop-color="#da5a00"/><stop offset=".656" stop-color="#cd4e00"/><stop offset=".719" stop-color="#d75700"/><stop offset=".75" stop-color="#e66600"/><stop offset=".781" stop-color="#ed6e00"/><stop offset=".875" stop-color="#d95a00"/><stop offset=".938" stop-color="#c94900"/><stop offset="1" stop-color="#c94a00"/></linearGradient>
<linearGradient id="c73" x1="0" y1="0" x2="0" y2="1"><stop offset="0" stop-color="#870800"/><stop offset=".031" stop-color="#9f1f00"/><stop offset=".094" stop-color="#ffb536"/><stop offset=".125" stop-color="#ffd758"/><stop offset=".188" stop-color="#ffc344"/><stop offset=".219" stop-color="#ffce4f"/><stop offset=".25" stop-color="#ffd050"/><stop offset=".281" stop-color="#ffac2c"/><stop offset=".312" stop-color="#ff9919"/><stop offset=".344" stop-color="#e76700"/><stop offset=".375" stop-color="#dc5c00"/><stop offset=".406" stop-color="#ff8d0e"/><stop offset=".438" stop-color="#ef7000"/><stop offset=".469" stop-color="#ca4a00"/><stop offset=".5" stop-color="#d85900"/><stop offset=".531" stop-color="#ff8a0b"/><stop offset=".562" stop-color="#ff9819"/><stop offset=".625" stop-color="#e96900"/><stop offset=".656" stop-color="#dc5c00"/><stop offset=".719" stop-color="#e46400"/><stop offset=".75" stop-color="#f57500"/><stop offset=".781" stop-color="#fd7d00"/><stop offset=".938" stop-color="#d55600"/><stop offset="1" stop-color="#d65600"/></linearGradient>
<linearGradient id="c74" x1="0" y1="0" x2="0" y2="1"><stop offset="0" stop-color="#8a0a00"/><stop offset=".031" stop-color="#a52600"/><stop offset=".094" stop-color="#ffc141"/><stop offset=".125" stop-color="#ffe566"/><stop offset=".188" stop-color="#ffc748"/><stop offset=".25" stop-color="#ffcd4e"/><stop offset=".281" stop-color="#ffae2f"/><stop offset=".312" stop-color="#ff9b1c"/><stop offset=".344" stop-color="#e66700"/><stop offset=".375" stop-color="#e06100"/><stop offset=".406" stop-color="#ff9516"/><stop offset=".438" stop-color="#f47400"/><stop offset=".469" stop-color="#cb4c00"/><stop offset=".5" stop-color="#db5b00"/><stop offset=".531" stop-color="#ff8f10"/><stop offset=".562" stop-color="#ff9d1d"/><stop offset=".625" stop-color="#ec6c00"/><stop offset=".656" stop-color="#df5f00"/><stop offset=".719" stop-color="#e56500"/><stop offset=".75" stop-color="#f87800"/><stop offset=".781" stop-color="#ff8001"/><stop offset=".812" stop-color="#f47400"/><stop offset=".875" stop-color="#e96a00"/><stop offset=".906" stop-color="#dc5d00"/><stop offset=".969" stop-color="#d85800"/><stop offset="1" stop-color="#d85800"/></linearGradient>
<linearGradient id="c75" x1="0" y1="0" x2="0" y2="1"><stop offset="0" stop-color="#830400"/><stop offset=".031" stop-color="#a12100"/><stop offset=".062" stop-color="#ee6f00"/><stop offset=".094" stop-color="#ffb535"/><stop offset=".125" stop-color="#ffd959"/><stop offset=".188" stop-color="#ffb536"/><stop offset=".25" stop-color="#ffb535"/><stop offset=".312" stop-color="#ff890a"/><stop offset=".344" stop-color="#d55600"/><stop offset=".375" stop-color="#d45500"/><stop offset=".406" stop-color="#ff8909"/><stop offset=".469" stop-color="#be3f00"/><stop offset=".5" stop-color="#ce4e00"/><stop offset=".531" stop-color="#ff8001"/><stop offset=".562" stop-color="#ff8d0e"/><stop offset=".625" stop-color="#de5f00"/><stop offset=".656" stop-color="#d35300"/><stop offset=".719" stop-color="#d75700"/><stop offset=".75" stop-color="#e96a00"/><stop offset=".781" stop-color="#f17100"/><stop offset=".812" stop-color="#e36300"/><stop offset=".875" stop-color="#db5c00"/><stop offset=".938" stop-color="#ca4a00"/><stop offset="1" stop-color="#ca4b00"/></linearGradient>
<linearGradient id="c76" x1="0" y1="0" x2="0" y2="1"><stop offset="0" stop-color="#890900"/><stop offset=".031" stop-color="#aa2a00"/><stop offset=".062" stop-color="#fc7d00"/><stop offset=".094" stop-color="#ffc243"/><stop offset=".125" stop-color="#ffe96a"/><stop offset=".156" stop-color="#ffd95a"/><stop offset=".188" stop-color="#ffbf3f"/><stop offset=".25" stop-color="#ffb838"/><stop offset=".312" stop-color="#ff8e0e"/><stop offset=".344" stop-color="#d75700"/><stop offset=".375" stop-color="#da5b00"/><stop offset=".406" stop-color="#ff9213"/><stop offset=".469" stop-color="#c24300"/><stop offset=".5" stop-color="#d35300"/><stop offset=".531" stop-color="#ff8708"/><stop offset=".562" stop-color="#ff9415"/><stop offset=".625" stop-color="#e46500"/><stop offset=".656" stop-color="#d95900"/><stop offset=".719" stop-color="#db5c00"/><stop offset=".75" stop-color="#ef7000"/><stop offset=".781" stop-color="#f77700"/><stop offset=".812" stop-color="#e56600"/><stop offset=".875" stop-color="#e06000"/><stop offset=".938" stop-color="#ce4e00"/><stop offset="1" stop-color="#ce4f00"/></linearGradient>
<linearGradient id="c77" x1="0" y1="0" x2="0" y2="1"><stop offset="0" stop-color="#8e0e00"/><stop offset=".031" stop-color="#b23300"/><stop offset=".062" stop-color="#ff8809"/><stop offset=".094" stop-color="#ffcd4e"/><stop offset=".125" stop-color="#fff677"/><stop offset=".156" stop-color="#ffe465"/><stop offset=".188" stop-color="#ffc646"/><stop offset=".219" stop-color="#ffbb3c"/><stop offset=".25" stop-color="#ffb939"/><stop offset=".312" stop-color="#ff8f0f"/><stop offset=".344" stop-color="#d75700"/><stop offset=".375" stop-color="#dd5e00"/><stop offset=".406" stop-color="#ff9819"/><stop offset=".469" stop-color="#c54500"/><stop offset=".5" stop-color="#d55600"/><stop offset=".531" stop-color="#ff8b0b"/><stop offset=".562" stop-color="#ff9919"/><stop offset=".625" stop-color="#e86900"/><stop offset=".656" stop-color="#dd5d00"/><stop offset=".719" stop-color="#df5f00"/><stop offset=".75" stop-color="#f37300"/><stop offset=".781" stop-color="#fb7b00"/><stop offset=".812" stop-color="#e66700"/><stop offset=".844" stop-color="#e06100"/><stop offset=".875" stop-color="#e26200"/><stop offset=".938" stop-color="#d05000"/><stop offset="1" stop-color="#d15100"/></linearGradient>
<linearGradient id="c78" x1="0" y1="0" x2="0" y2="1"><stop offset="0" stop-color="#8c0c00"/><stop offset=".031" stop-color="#b13200"/><stop offset=".062" stop-color="#ff8505"/><stop offset=".094" stop-color="#ffc545"/><stop offset=".125" stop-color="#ffee6e"/><stop offset=".156" stop-color="#ffdc5c"/><stop offset=".188" stop-color="#ffbb3c"/><stop offset=".219" stop-color="#ffad2d"/><stop offset=".25" stop-color="#ffa92a"/><stop offset=".312" stop-color="#ff8102"/><stop offset=".344" stop-color="#cb4b00"/><stop offset=".375" stop-color="#d45500"/><stop offset=".406" stop-color="#ff8f0f"/><stop offset=".469" stop-color="#bc3c00"/><stop offset=".5" stop-color="#cc4d00"/><stop offset=".531" stop-color="#ff8000"/><stop offset=".562" stop-color="#ff8e0f"/><stop offset=".625" stop-color="#e06000"/><stop offset=".656" stop-color="#d55600"/><stop offset=".719" stop-color="#d55600"/><stop offset=".75" stop-color="#e96a00"/><stop offset=".781" stop-color="#f17100"/><stop offset=".812" stop-color="#db5b00"/><stop offset=".844" stop-color="#d35400"/><stop offset=".875" stop-color="#d75800"/><stop offset=".938" stop-color="#c64700"/><stop offset="1" stop-color="#c74800"/></linearGradient>
<linearGradient id="c79" x1="0" y1="0" x2="0" y2="1"><stop offset="0" stop-color="#870700"/><stop offset=".031" stop-color="#ab2b00"/><stop offset=".062" stop-color="#f87900"/><stop offset=".094" stop-color="#ffb232"/><stop offset=".125" stop-color="#ffd95a"/><stop offset=".156" stop-color="#ffc848"/><stop offset=".188" stop-color="#ffa728"/><stop offset=".219" stop-color="#ff9717"/><stop offset=".25" stop-color="#ff9212"/><stop offset=".281" stop-color="#ff8203"/><stop offset=".312" stop-color="#eb6c00"/><stop offset=".344" stop-color="#ba3a00"/><stop offset=".375" stop-color="#c64600"/><stop offset=".406" stop-color="#fc7d00"/><stop offset=".469" stop-color="#ae2e00"/><stop offset=".5" stop-color="#bd3e00"/><stop offset=".531" stop-color="#ed6d00"/><stop offset=".562" stop-color="#fb7b00"/><stop offset=".625" stop-color="#d15200"/><stop offset=".656" stop-color="#c74800"/><stop offset=".719" stop-color="#c64600"/><stop offset=".75" stop-color="#d85900"/><stop offset=".781" stop-color="#e06000"/><stop offset=".812" stop-color="#c94a00"/><stop offset=".844" stop-color="#c14100"/><stop offset=".875" stop-color="#c74700"/><stop offset=".938" stop-color="#b83800"/><stop offset="1" stop-color="#b93900"/></linearGradient>
<linearGradient id="c80" x1="0" y1="0" x2="0" y2="1"><stop offset="0" stop-color="#9a1a00"/><stop offset=".031" stop-color="#c34300"/><stop offset=".062" stop-color="#ff9717"/><stop offset=".094" stop-color="#ffd353"/><stop offset=".125" stop-color="#fffe7e"/><stop offset=".156" stop-color="#ffea6b"/><stop offset=".188" stop-color="#ffc546"/><stop offset=".219" stop-color="#ffaf30"/><stop offset=".25" stop-color="#ffa929"/><stop offset=".281" stop-color="#ff991a"/><stop offset=".312" stop-color="#fe7e00"/><stop offset=".344" stop-color="#c94900"/><stop offset=".375" stop-color="#d95900"/><stop offset=".406" stop-color="#ff9616"/><stop offset=".469" stop-color="#bd3e00"/><stop offset=".5" stop-color="#cf4f00"/><stop offset=".531" stop-color="#ff8203"/><stop offset=".562" stop-color="#ff9414"/><stop offset=".625" stop-color="#e66700"/><stop offset=".656" stop-color="#dc5c00"/><stop offset=".719" stop-color="#d85800"/><stop offset=".75" stop-color="#ec6c00"/><stop offset=".781" stop-color="#f57500"/><stop offset=".812" stop-color="#da5b00"/><stop offset=".844" stop-color="#cf5000"/><stop offset=".875" stop-color="#d85900"/><stop offset=".938" stop-color="#c94900"/><stop offset="1" stop-color="#ca4a00"/></linearGradient>
<linearGradient id="c81" x1="0" y1="0" x2="0" y2="1"><stop offset="0" stop-color="#a12200"/><stop offset=".031" stop-color="#cb4b00"/><stop offset=".062" stop-color="#ff9d1e"/><stop offset=".094" stop-color="#ffd556"/><stop offset=".125" stop-color="#ffff80"/><stop offset=".156" stop-color="#ffec6d"/><stop offset=".188" stop-color="#ffc647"/><stop offset=".219" stop-color="#ffad2d"/><stop offset=".25" stop-color="#ffa626"/><stop offset=".281" stop-color="#ff9717"/><stop offset=".312" stop-color="#fa7a00"/><stop offset=".344" stop-color="#c64700"/><stop offset=".375" stop-color="#da5b00"/><stop offset=".406" stop-color="#ff9717"/><stop offset=".438" stop-color="#ed6d00"/><stop offset=".469" stop-color="#bc3c00"/><stop offset=".5" stop-color="#cd4e00"/><stop offset=".531" stop-color="#ff8101"/><stop offset=".562" stop-color="#ff9414"/><stop offset=".625" stop-color="#e86800"/><stop offset=".688" stop-color="#da5a00"/><stop offset=".719" stop-color="#d55600"/><stop offset=".75" stop-color="#e96a00"/><stop offset=".781" stop-color="#f47400"/><stop offset=".812" stop-color="#d85900"/><stop offset=".844" stop-color="#cb4b00"/><stop offset=".875" stop-color="#d75700"/><stop offset=".938" stop-color="#c84900"/><stop offset="1" stop-color="#c94900"/></linearGradient>
<linearGradient id="c82" x1="0" y1="0" x2="0" y2="1"><stop offset="0" stop-color="#a52500"/><stop offset=".031" stop-color="#cd4e00"/><stop offset=".062" stop-color="#ff9b1b"/><stop offset=".094" stop-color="#ffce4e"/><stop offset=".125" stop-color="#fff575"/><stop offset=".156" stop-color="#ffe262"/><stop offset=".188" stop-color="#ffbd3e"/><stop offset=".219" stop-color="#ffa121"/><stop offset=".281" stop-color="#ff8d0d"/><stop offset=".312" stop-color="#ee6f00"/><stop offset=".344" stop-color="#bf3f00"/><stop offset=".375" stop-color="#d65700"/><stop offset=".406" stop-color="#ff9010"/><stop offset=".438" stop-color="#e56600"/><stop offset=".469" stop-color="#b43500"/><stop offset=".5" stop-color="#c64600"/><stop offset=".531" stop-color="#f77800"/><stop offset=".562" stop-color="#ff8c0c"/><stop offset=".625" stop-color="#e36300"/><stop offset=".719" stop-color="#cc4c00"/><stop offset=".781" stop-color="#eb6c00"/><stop offset=".812" stop-color="#d05100"/><stop offset=".844" stop-color="#c24200"/><stop offset=".875" stop-color="#cf5000"/><stop offset=".938" stop-color="#c24300"/><stop offset="1" stop-color="#c34300"/></linearGradient>
<linearGradient id="c83" x1="0" y1="0" x2="0" y2="1"><stop offset="0" stop-color="#a32400"/><stop offset=".031" stop-color="#c84900"/><stop offset=".062" stop-color="#ff8e0f"/><stop offset=".094" stop-color="#ffba3a"/><stop offset=".125" stop-color="#ffdc5d"/><stop offset=".156" stop-color="#ffcb4b"/><stop offset=".219" stop-color="#ff8b0b"/><stop offset=".281" stop-color="#f97a00"/><stop offset=".312" stop-color="#db5b00"/><stop offset=".344" stop-color="#b23200"/><stop offset=".375" stop-color="#cc4d00"/><stop offset=".406" stop-color="#ff8001"/><stop offset=".469" stop-color="#a72700"/><stop offset=".5" stop-color="#b83800"/><stop offset=".531" stop-color="#e66600"/><stop offset=".562" stop-color="#fb7b00"/><stop offset=".594" stop-color="#ed6d00"/><stop offset=".625" stop-color="#d65700"/><stop offset=".719" stop-color="#bb3b00"/><stop offset=".781" stop-color="#db5c00"/><stop offset=".812" stop-color="#c24200"/><stop offset=".844" stop-color="#b23300"/><stop offset=".875" stop-color="#c14100"/><stop offset=".938" stop-color="#b63700"/><stop offset="1" stop-color="#b63700"/></linearGradient>
<linearGradient id="c84" x1="0" y1="0" x2="0" y2="1"><stop offset="0" stop-color="#b03000"/><stop offset=".031" stop-color="#d55500"/><stop offset=".062" stop-color="#ff9819"/><stop offset=".094" stop-color="#ffc141"/><stop offset=".125" stop-color="#ffe161"/><stop offset=".156" stop-color="#ffcf50"/><stop offset=".219" stop-color="#ff8b0c"/><stop offset=".281" stop-color="#fc7c00"/><stop offset=".344" stop-color="#b53500"/><stop offset=".375" stop-color="#d45400"/><stop offset=".406" stop-color="#ff8708"/><stop offset=".469" stop-color="#a82800"/><stop offset=".5" stop-color="#ba3a00"/><stop offset=".531" stop-color="#e86900"/><stop offset=".562" stop-color="#ff8101"/><stop offset=".594" stop-color="#f47400"/><stop offset=".625" stop-color="#dd5d00"/><stop offset=".719" stop-color="#b93a00"/><stop offset=".781" stop-color="#dd5e00"/><stop offset=".812" stop-color="#c44500"/><stop offset=".844" stop-color="#b43400"/><stop offset=".875" stop-color="#c44400"/><stop offset=".938" stop-color="#ba3a00"/><stop offset="1" stop-color="#b93a00"/></linearGradient>
<linearGradient id="c85" x1="0" y1="0" x2="0" y2="1"><stop offset="0" stop-color="#b43500"/><stop offset=".031" stop-color="#d75800"/><stop offset=".062" stop-color="#ff9516"/><stop offset=".094" stop-color="#ffba3a"/><stop offset=".125" stop-color="#ffd656"/><stop offset=".156" stop-color="#ffc545"/><stop offset=".219" stop-color="#ff8101"/><stop offset=".281" stop-color="#f37400"/><stop offset=".344" stop-color="#b03100"/><stop offset=".375" stop-color="#d35300"/><stop offset=".406" stop-color="#ff8203"/><stop offset=".469" stop-color="#a12200"/><stop offset=".5" stop-color="#b33400"/><stop offset=".531" stop-color="#e16100"/><stop offset=".562" stop-color="#fa7b00"/><stop offset=".594" stop-color="#f07100"/><stop offset=".625" stop-color="#d95900"/><stop offset=".719" stop-color="#b03000"/><stop offset=".781" stop-color="#d55600"/><stop offset=".844" stop-color="#ad2e00"/><stop offset=".875" stop-color="#be3f00"/><stop offset=".969" stop-color="#b63600"/><stop offset="1" stop-color="#b53500"/></linearGradient>
<linearGradient id="c86" x1="0" y1="0" x2="0" y2="1"><stop offset="0" stop-color="#be3e00"/><stop offset=".031" stop-color="#df5f00"/><stop offset=".062" stop-color="#ff9a1a"/><stop offset=".094" stop-color="#ffbc3d"/><stop offset=".125" stop-color="#ffd556"/><stop offset=".156" stop-color="#ffc445"/><stop offset=".219" stop-color="#fd7e00"/><stop offset=".281" stop-color="#f27200"/><stop offset=".344" stop-color="#b13200"/><stop offset=".406" stop-color="#ff8405"/><stop offset=".469" stop-color="#a02100"/><stop offset=".5" stop-color="#b33300"/><stop offset=".531" stop-color="#e06100"/><stop offset=".562" stop-color="#fc7c00"/><stop offset=".594" stop-color="#f47400"/><stop offset=".625" stop-color="#dc5c00"/><stop offset=".688" stop-color="#bf3f00"/><stop offset=".719" stop-color="#ab2c00"/><stop offset=".781" stop-color="#d45400"/><stop offset=".844" stop-color="#ad2d00"/><stop offset=".875" stop-color="#be3f00"/><stop offset=".969" stop-color="#b73700"/><stop offset="1" stop-color="#b63600"/></linearGradient>
<linearGradient id="c87" x1="0" y1="0" x2="0" y2="1"><stop offset="0" stop-color="#d05100"/><stop offset=".031" stop-color="#f17200"/><stop offset=".062" stop-color="#ffad2e"/><stop offset=".094" stop-color="#ffd152"/><stop offset=".125" stop-color="#ffe969"/><stop offset=".156" stop-color="#ffd657"/><stop offset=".188" stop-color="#ffb434"/><stop offset=".219" stop-color="#ff8a0a"/><stop offset=".281" stop-color="#fd7d00"/><stop offset=".312" stop-color="#d85900"/><stop offset=".344" stop-color="#bc3d00"/><stop offset=".406" stop-color="#ff9515"/><stop offset=".469" stop-color="#a82800"/><stop offset=".5" stop-color="#bc3c00"/><stop offset=".531" stop-color="#ec6d00"/><stop offset=".562" stop-color="#ff8c0c"/><stop offset=".594" stop-color="#ff8506"/><stop offset=".625" stop-color="#eb6c00"/><stop offset=".656" stop-color="#de5e00"/><stop offset=".719" stop-color="#b13200"/><stop offset=".781" stop-color="#dd5e00"/><stop offset=".844" stop-color="#b73700"/><stop offset=".875" stop-color="#c94a00"/><stop offset=".938" stop-color="#c04100"/><stop offset="1" stop-color="#c14200"/></linearGradient>
<linearGradient id="c88" x1="0" y1="0" x2="0" y2="1"><stop offset="0" stop-color="#d75700"/><stop offset=".031" stop-color="#f77700"/><stop offset=".062" stop-color="#ffb132"/><stop offset=".094" stop-color="#ffd657"/><stop offset=".125" stop-color="#ffec6d"/><stop offset=".156" stop-color="#ffd858"/><stop offset=".188" stop-color="#ffb636"/><stop offset=".219" stop-color="#ff8a0a"/><stop offset=".281" stop-color="#fc7c00"/><stop offset=".312" stop-color="#d75800"/><stop offset=".344" stop-color="#be3f00"/><stop offset=".406" stop-color="#ff9718"/><stop offset=".469" stop-color="#a82800"/><stop offset=".5" stop-color="#bc3c00"/><stop offset=".531" stop-color="#ee6e00"/><stop offset=".562" stop-color="#ff8e0e"/><stop offset=".594" stop-color="#ff890a"/><stop offset=".625" stop-color="#ef6f00"/><stop offset=".656" stop-color="#e06100"/><stop offset=".719" stop-color="#af2f00"/><stop offset=".781" stop-color="#dc5c00"/><stop offset=".812" stop-color="#c74700"/><stop offset=".844" stop-color="#b93900"/><stop offset=".875" stop-color="#ca4b00"/><stop offset=".938" stop-color="#c04100"/><stop offset="1" stop-color="#c34400"/></linearGradient>
<linearGradient id="c89" x1="0" y1="0" x2="0" y2="1"><stop offset="0" stop-color="#d35400"/><stop offset=".031" stop-color="#f17100"/><stop offset=".062" stop-color="#ffa929"/><stop offset=".094" stop-color="#ffcf4f"/><stop offset=".125" stop-color="#ffe363"/><stop offset=".156" stop-color="#ffce4e"/><stop offset=".188" stop-color="#ffac2d"/><stop offset=".219" stop-color="#ff8102"/><stop offset=".281" stop-color="#f17100"/><stop offset=".312" stop-color="#ce4f00"/><stop offset=".344" stop-color="#b93a00"/><stop offset=".375" stop-color="#e96900"/><stop offset=".406" stop-color="#ff8e0f"/><stop offset=".469" stop-color="#a22300"/><stop offset=".5" stop-color="#b53600"/><stop offset=".531" stop-color="#e66700"/><stop offset=".562" stop-color="#ff8606"/><stop offset=".594" stop-color="#ff8304"/><stop offset=".625" stop-color="#e96a00"/><stop offset=".656" stop-color="#d95a00"/><stop offset=".719" stop-color="#a72700"/><stop offset=".781" stop-color="#d25300"/><stop offset=".812" stop-color="#bf3f00"/><stop offset=".844" stop-color="#b43500"/><stop offset=".875" stop-color="#c44400"/><stop offset=".938" stop-color="#b93900"/><stop offset="1" stop-color="#be3e00"/></linearGradient>
<linearGradient id="c90" x1="0" y1="0" x2="0" y2="1"><stop offset="0" stop-color="#d65600"/><stop offset=".031" stop-color="#f17200"/><stop offset=".062" stop-color="#ffa92a"/><stop offset=".094" stop-color="#ffd152"/><stop offset=".125" stop-color="#ffe565"/><stop offset=".156" stop-color="#ffce4e"/><stop offset=".188" stop-color="#ffad2d"/><stop offset=".219" stop-color="#ff8101"/><stop offset=".281" stop-color="#ed6e00"/><stop offset=".312" stop-color="#cc4d00"/><stop offset=".344" stop-color="#ba3a00"/><stop offset=".375" stop-color="#ea6b00"/><stop offset=".406" stop-color="#ff8d0e"/><stop offset=".469" stop-color="#a22300"/><stop offset=".5" stop-color="#b53600"/><stop offset=".531" stop-color="#e76700"/><stop offset=".562" stop-color="#ff8606"/><stop offset=".594" stop-color="#ff8405"/><stop offset=".688" stop-color="#c24300"/><stop offset=".719" stop-color="#a52600"/><stop offset=".781" stop-color="#cf5000"/><stop offset=".812" stop-color="#bd3d00"/><stop offset=".844" stop-color="#b63600"/><stop offset=".875" stop-color="#c34400"/><stop offset=".938" stop-color="#b73800"/><stop offset="1" stop-color="#bf3f00"/></linearGradient>
<linearGradient id="c91" x1="0" y1="0" x2="0" y2="1"><stop offset="0" stop-color="#da5a00"/><stop offset=".031" stop-color="#f57500"/><stop offset=".062" stop-color="#ffad2d"/><stop offset=".094" stop-color="#ffd858"/><stop offset=".125" stop-color="#ffeb6b"/><stop offset=".156" stop-color="#ffd253"/><stop offset=".188" stop-color="#ffb131"/><stop offset=".219" stop-color="#ff8405"/><stop offset=".281" stop-color="#ed6d00"/><stop offset=".312" stop-color="#cd4d00"/><stop offset=".344" stop-color="#bd3e00"/><stop offset=".375" stop-color="#ef6f00"/><stop offset=".406" stop-color="#ff8f10"/><stop offset=".469" stop-color="#a52600"/><stop offset=".5" stop-color="#b83900"/><stop offset=".531" stop-color="#ea6b00"/><stop offset=".562" stop-color="#ff8909"/><stop offset=".594" stop-color="#ff8909"/><stop offset=".688" stop-color="#c54500"/><stop offset=".719" stop-color="#a62700"/><stop offset=".781" stop-color="#d05000"/><stop offset=".812" stop-color="#be3e00"/><stop offset=".844" stop-color="#b93a00"/><stop offset=".875" stop-color="#c64600"/><stop offset=".938" stop-color="#b83900"/><stop offset="1" stop-color="#c24300"/></linearGradient>
<linearGradient id="c92" x1="0" y1="0" x2="0" y2="1"><stop offset="0" stop-color="#d75700"/><stop offset=".031" stop-color="#f17100"/><stop offset=".062" stop-color="#ffa828"/><stop offset=".094" stop-color="#ffd354"/><stop offset=".125" stop-color="#ffe465"/><stop offset=".156" stop-color="#ffcc4c"/><stop offset=".188" stop-color="#ffac2c"/><stop offset=".219" stop-color="#ff8000"/><stop offset=".25" stop-color="#ef6f00"/><stop offset=".281" stop-color="#e56600"/><stop offset=".312" stop-color="#c74700"/><stop offset=".344" stop-color="#ba3b00"/><stop offset=".375" stop-color="#ec6c00"/><stop offset=".406" stop-color="#ff8909"/><stop offset=".469" stop-color="#a52500"/><stop offset=".5" stop-color="#b63700"/><stop offset=".531" stop-color="#e76700"/><stop offset=".562" stop-color="#ff8405"/><stop offset=".594" stop-color="#ff8505"/><stop offset=".688" stop-color="#c14200"/><stop offset=".719" stop-color="#a32400"/><stop offset=".781" stop-color="#ca4b00"/><stop offset=".812" stop-color="#b93a00"/><stop offset=".844" stop-color="#b83800"/><stop offset=".875" stop-color="#c24200"/><stop offset=".938" stop-color="#b43400"/><stop offset="1" stop-color="#bf4000"/></linearGradient>
<linearGradient id="c93" x1="0" y1="0" x2="0" y2="1"><stop offset="0" stop-color="#db5b00"/><stop offset=".031" stop-color="#f47400"/><stop offset=".062" stop-color="#ffaa2b"/><stop offset=".094" stop-color="#ffd656"/><stop offset=".125" stop-color="#ffe566"/><stop offset=".188" stop-color="#ffae2f"/><stop offset=".219" stop-color="#ff8202"/><stop offset=".25" stop-color="#ef6f00"/><stop offset=".281" stop-color="#e46400"/><stop offset=".312" stop-color="#c54600"/><stop offset=".344" stop-color="#bc3d00"/><stop offset=".375" stop-color="#ef7000"/><stop offset=".406" stop-color="#ff890a"/><stop offset=".469" stop-color="#a92a00"/><stop offset=".5" stop-color="#bb3b00"/><stop offset=".531" stop-color="#ea6a00"/><stop offset=".562" stop-color="#ff8607"/><stop offset=".594" stop-color="#ff8708"/><stop offset=".688" stop-color="#c44400"/><stop offset=".719" stop-color="#a52600"/><stop offset=".75" stop-color="#bc3c00"/><stop offset=".781" stop-color="#cb4b00"/><stop offset=".812" stop-color="#ba3a00"/><stop offset=".844" stop-color="#ba3b00"/><stop offset=".875" stop-color="#c34400"/><stop offset=".938" stop-color="#b53500"/><stop offset="1" stop-color="#c24200"/></linearGradient>
<linearGradient id="c94" x1="0" y1="0" x2="0" y2="1"><stop offset="0" stop-color="#db5b00"/><stop offset=".031" stop-color="#f37400"/><stop offset=".062" stop-color="#ffa828"/><stop offset=".094" stop-color="#ffd050"/><stop offset=".125" stop-color="#ffdd5d"/><stop offset=".188" stop-color="#ffaa2a"/><stop offset=".219" stop-color="#fd7e00"/><stop offset=".25" stop-color="#ea6a00"/><stop offset=".281" stop-color="#de5f00"/><stop offset=".312" stop-color="#bf3f00"/><stop offset=".344" stop-color="#ba3b00"/><stop offset=".375" stop-color="#ee6e00"/><stop offset=".406" stop-color="#ff8405"/><stop offset=".469" stop-color="#ac2c00"/><stop offset=".5" stop-color="#bc3d00"/><stop offset=".531" stop-color="#e86900"/><stop offset=".562" stop-color="#ff8303"/><stop offset=".594" stop-color="#ff8404"/><stop offset=".688" stop-color="#c24300"/><stop offset=".719" stop-color="#a42500"/><stop offset=".75" stop-color="#ba3a00"/><stop offset=".781" stop-color="#c84800"/><stop offset=".812" stop-color="#b73800"/><stop offset=".875" stop-color="#c04100"/><stop offset=".938" stop-color="#b33300"/><stop offset="1" stop-color="#c04000"/></linearGradient>
<linearGradient id="c95" x1="0" y1="0" x2="0" y2="1"><stop offset="0" stop-color="#e76700"/><stop offset=".031" stop-color="#ff8001"/><stop offset=".062" stop-color="#ffb435"/><stop offset=".094" stop-color="#ffd95a"/><stop offset=".125" stop-color="#ffe364"/><stop offset=".188" stop-color="#ffb435"/><stop offset=".219" stop-color="#ff8607"/><stop offset=".25" stop-color="#f07100"/><stop offset=".281" stop-color="#e36400"/><stop offset=".312" stop-color="#c24200"/><stop offset=".344" stop-color="#c14200"/><stop offset=".375" stop-color="#f97900"/><stop offset=".406" stop-color="#ff8d0d"/><stop offset=".469" stop-color="#b83800"/><stop offset=".5" stop-color="#c84800"/><stop offset=".531" stop-color="#f27300"/><stop offset=".562" stop-color="#ff8c0d"/><stop offset=".594" stop-color="#ff8e0e"/><stop offset=".688" stop-color="#cb4b00"/><stop offset=".719" stop-color="#ac2c00"/><stop offset=".781" stop-color="#d05000"/><stop offset=".812" stop-color="#be3f00"/><stop offset=".875" stop-color="#c74700"/><stop offset=".938" stop-color="#bb3b00"/><stop offset="1" stop-color="#c84800"/></linearGradient>
<linearGradient id="c96" x1="0" y1="0" x2="0" y2="1"><stop offset="0" stop-color="#ff8405"/><stop offset=".031" stop-color="#ffa021"/><stop offset=".062" stop-color="#ffd758"/><stop offset=".094" stop-color="#fffa7a"/><stop offset=".125" stop-color="#ffff81"/><stop offset=".188" stop-color="#ffd354"/><stop offset=".219" stop-color="#ffa020"/><stop offset=".25" stop-color="#ff8808"/><stop offset=".281" stop-color="#f87900"/><stop offset=".312" stop-color="#d15200"/><stop offset=".344" stop-color="#d65700"/><stop offset=".375" stop-color="#ff9717"/><stop offset=".406" stop-color="#ffa828"/><stop offset=".469" stop-color="#d25200"/><stop offset=".5" stop-color="#e36300"/><stop offset=".531" stop-color="#ff8e0e"/><stop offset=".562" stop-color="#ffa929"/><stop offset=".594" stop-color="#ffaa2a"/><stop offset=".656" stop-color="#fe7e00"/><stop offset=".719" stop-color="#c04000"/><stop offset=".781" stop-color="#e66700"/><stop offset=".812" stop-color="#d25300"/><stop offset=".875" stop-color="#db5c00"/><stop offset=".938" stop-color="#d05100"/><stop offset="1" stop-color="#de5e00"/></linearGradient>
<linearGradient id="c97" x1="0" y1="0" x2="0" y2="1"><stop offset="0" stop-color="#fe7f00"/><stop offset=".031" stop-color="#ff9a1a"/><stop offset=".062" stop-color="#ffcd4d"/><stop offset=".094" stop-color="#ffe767"/><stop offset=".125" stop-color="#ffe96a"/><stop offset=".188" stop-color="#ffc445"/><stop offset=".219" stop-color="#ff9212"/><stop offset=".25" stop-color="#fa7a00"/><stop offset=".281" stop-color="#eb6c00"/><stop offset=".312" stop-color="#c44500"/><stop offset=".344" stop-color="#cf4f00"/><stop offset=".375" stop-color="#ff8f10"/><stop offset=".406" stop-color="#ff9c1c"/><stop offset=".469" stop-color="#d05100"/><stop offset=".5" stop-color="#e06000"/><stop offset=".531" stop-color="#ff8405"/><stop offset=".562" stop-color="#ff9d1e"/><stop offset=".594" stop-color="#ff9e1f"/><stop offset=".656" stop-color="#f67600"/><stop offset=".719" stop-color="#b93a00"/><stop offset=".781" stop-color="#dd5d00"/><stop offset=".812" stop-color="#ca4a00"/><stop offset=".875" stop-color="#d25200"/><stop offset=".938" stop-color="#ca4b00"/><stop offset="1" stop-color="#d65700"/></linearGradient>
<linearGradient id="c98" x1="0" y1="0" x2="0" y2="1"><stop offset="0" stop-color="#fa7a00"/><stop offset=".031" stop-color="#ff9414"/><stop offset=".062" stop-color="#ffc344"/><stop offset=".094" stop-color="#ffd757"/><stop offset=".125" stop-color="#ffd556"/><stop offset=".188" stop-color="#ffb737"/><stop offset=".219" stop-color="#ff8506"/><stop offset=".25" stop-color="#ee6e00"/><stop offset=".281" stop-color="#df6000"/><stop offset=".312" stop-color="#b93a00"/><stop offset=".344" stop-color="#c94a00"/><stop offset=".375" stop-color="#ff890a"/><stop offset=".406" stop-color="#ff9212"/><stop offset=".438" stop-color="#ec6d00"/><stop offset=".469" stop-color="#cf5000"/><stop offset=".5" stop-color="#dd5d00"/><stop offset=".562" stop-color="#ff9414"/><stop offset=".594" stop-color="#ff9415"/><stop offset=".656" stop-color="#ef7000"/><stop offset=".719" stop-color="#b33300"/><stop offset=".781" stop-color="#d45400"/><stop offset=".812" stop-color="#c24200"/><stop offset=".875" stop-color="#c94a00"/><stop offset=".938" stop-color="#c54500"/><stop offset="1" stop-color="#d05000"/></linearGradient>
<linearGradient id="c99" x1="0" y1="0" x2="0" y2="1"><stop offset="0" stop-color="#ff7f00"/><stop offset=".031" stop-color="#ff991a"/><stop offset=".062" stop-color="#ffc748"/><stop offset=".094" stop-color="#ffd657"/><stop offset=".156" stop-color="#ffc647"/><stop offset=".188" stop-color="#ffb737"/><stop offset=".219" stop-color="#ff8304"/><stop offset=".25" stop-color="#eb6c00"/><stop offset=".281" stop-color="#dd5d00"/><stop offset=".312" stop-color="#b73700"/><stop offset=".344" stop-color="#cd4d00"/><stop offset=".375" stop-color="#ff8f0f"/><stop offset=".406" stop-color="#ff9415"/><stop offset=".438" stop-color="#f07000"/><stop offset=".469" stop-color="#d65700"/><stop offset=".5" stop-color="#e26300"/><stop offset=".562" stop-color="#ff9616"/><stop offset=".594" stop-color="#ff9616"/><stop offset=".656" stop-color="#f27300"/><stop offset=".719" stop-color="#b33300"/><stop offset=".781" stop-color="#d25300"/><stop offset=".812" stop-color="#c14100"/><stop offset=".875" stop-color="#c94a00"/><stop offset=".938" stop-color="#c74700"/><stop offset="1" stop-color="#d35300"/></linearGradient>
<linearGradient id="c100" x1="0" y1="0" x2="0" y2="1"><stop offset="0" stop-color="#ff8001"/><stop offset=".031" stop-color="#ff9a1b"/><stop offset=".062" stop-color="#ffc848"/><stop offset=".094" stop-color="#ffd354"/><stop offset=".156" stop-color="#ffc243"/><stop offset=".188" stop-color="#ffb333"/><stop offset=".219" stop-color="#fe7e00"/><stop offset=".25" stop-color="#e56600"/><stop offset=".281" stop-color="#d75800"/><stop offset=".312" stop-color="#b43400"/><stop offset=".344" stop-color="#cf5000"/><stop offset=".375" stop-color="#ff9213"/><stop offset=".406" stop-color="#ff9415"/><stop offset=".438" stop-color="#f17100"/><stop offset=".469" stop-color="#da5a00"/><stop offset=".5" stop-color="#e46500"/><stop offset=".562" stop-color="#ff9515"/><stop offset=".594" stop-color="#ff9415"/><stop offset=".656" stop-color="#f27300"/><stop offset=".719" stop-color="#b03000"/><stop offset=".781" stop-color="#cd4d00"/><stop offset=".812" stop-color="#bd3d00"/><stop offset=".969" stop-color="#cc4d00"/><stop offset="1" stop-color="#d35400"/></linearGradient>
<linearGradient id="c101" x1="0" y1="0" x2="0" y2="1"><stop offset="0" stop-color="#ff9212"/><stop offset=".031" stop-color="#ffad2e"/><stop offset=".062" stop-color="#ffde5e"/><stop offset=".094" stop-color="#ffe869"/><stop offset=".156" stop-color="#ffd555"/><stop offset=".188" stop-color="#ffc343"/><stop offset=".219" stop-color="#ff890a"/><stop offset=".25" stop-color="#ee6e00"/><stop offset=".281" stop-color="#df6000"/><stop offset=".312" stop-color="#bd3e00"/><stop offset=".344" stop-color="#e16100"/><stop offset=".375" stop-color="#ffa829"/><stop offset=".406" stop-color="#ffa728"/><stop offset=".438" stop-color="#ff8203"/><stop offset=".469" stop-color="#eb6c00"/><stop offset=".5" stop-color="#f47500"/><stop offset=".562" stop-color="#ffa627"/><stop offset=".594" stop-color="#ffa526"/><stop offset=".656" stop-color="#ff8203"/><stop offset=".719" stop-color="#b73700"/><stop offset=".781" stop-color="#d35300"/><stop offset=".812" stop-color="#c44400"/><stop offset=".906" stop-color="#d25200"/><stop offset=".938" stop-color="#d25200"/><stop offset="1" stop-color="#e26300"/></linearGradient>
<linearGradient id="c102" x1="0" y1="0" x2="0" y2="1"><stop offset="0" stop-color="#ff9616"/><stop offset=".031" stop-color="#ffb132"/><stop offset=".062" stop-color="#ffe263"/><stop offset=".094" stop-color="#ffec6c"/><stop offset=".156" stop-color="#ffd757"/><stop offset=".188" stop-color="#ffc343"/><stop offset=".219" stop-color="#ff8707"/><stop offset=".25" stop-color="#ea6b00"/><stop offset=".281" stop-color="#dc5d00"/><stop offset=".312" stop-color="#be3f00"/><stop offset=".344" stop-color="#e86900"/><stop offset=".375" stop-color="#ffb031"/><stop offset=".406" stop-color="#ffad2d"/><stop offset=".438" stop-color="#ff8607"/><stop offset=".469" stop-color="#f17200"/><stop offset=".5" stop-color="#f87900"/><stop offset=".562" stop-color="#ffa92a"/><stop offset=".594" stop-color="#ffa829"/><stop offset=".656" stop-color="#ff8506"/><stop offset=".688" stop-color="#e06100"/><stop offset=".719" stop-color="#b43500"/><stop offset=".781" stop-color="#cd4e00"/><stop offset=".812" stop-color="#c04100"/><stop offset=".906" stop-color="#d25300"/><stop offset=".938" stop-color="#d35400"/><stop offset="1" stop-color="#e66700"/></linearGradient>
<linearGradient id="c103" x1="0" y1="0" x2="0" y2="1"><stop offset="0" stop-color="#ff8405"/><stop offset=".031" stop-color="#ff9e1e"/><stop offset=".062" stop-color="#ffcc4d"/><stop offset=".094" stop-color="#ffd555"/><stop offset=".156" stop-color="#ffc040"/><stop offset=".188" stop-color="#ffab2b"/><stop offset=".219" stop-color="#f17100"/><stop offset=".25" stop-color="#d65600"/><stop offset=".281" stop-color="#c94900"/><stop offset=".312" stop-color="#b23300"/><stop offset=".344" stop-color="#de5f00"/><stop offset=".375" stop-color="#ffa021"/><stop offset=".406" stop-color="#ff9b1c"/><stop offset=".438" stop-color="#f77700"/><stop offset=".469" stop-color="#e56500"/><stop offset=".5" stop-color="#e96a00"/><stop offset=".562" stop-color="#ff9516"/><stop offset=".594" stop-color="#ff9515"/><stop offset=".656" stop-color="#f37400"/><stop offset=".688" stop-color="#d05100"/><stop offset=".719" stop-color="#a42500"/><stop offset=".781" stop-color="#b83900"/><stop offset=".812" stop-color="#af2f00"/><stop offset=".906" stop-color="#c34300"/><stop offset=".938" stop-color="#c44400"/><stop offset="1" stop-color="#d95a00"/></linearGradient>
<linearGradient id="c104" x1="0" y1="0" x2="0" y2="1"><stop offset="0" stop-color="#ff9c1d"/><stop offset=".031" stop-color="#ffb738"/><stop offset=".062" stop-color="#ffea6a"/><stop offset=".094" stop-color="#fff374"/><stop offset=".156" stop-color="#ffdb5b"/><stop offset=".188" stop-color="#ffc142"/><stop offset=".219" stop-color="#ff8202"/><stop offset=".25" stop-color="#e36400"/><stop offset=".312" stop-color="#c34300"/><stop offset=".344" stop-color="#f77800"/><stop offset=".375" stop-color="#ffbd3e"/><stop offset=".406" stop-color="#ffb636"/><stop offset=".438" stop-color="#ff8f0f"/><stop offset=".469" stop-color="#fc7d00"/><stop offset=".5" stop-color="#ff8000"/><stop offset=".531" stop-color="#ff9112"/><stop offset=".562" stop-color="#ffad2d"/><stop offset=".594" stop-color="#ffac2d"/><stop offset=".656" stop-color="#ff8909"/><stop offset=".688" stop-color="#e16100"/><stop offset=".719" stop-color="#ae2e00"/><stop offset=".781" stop-color="#c04100"/><stop offset=".812" stop-color="#b83900"/><stop offset=".875" stop-color="#ce4e00"/><stop offset=".938" stop-color="#d45400"/><stop offset="1" stop-color="#ee6f00"/></linearGradient>
<linearGradient id="c105" x1="0" y1="0" x2="0" y2="1"><stop offset="0" stop-color="#ff9313"/><stop offset=".031" stop-color="#ffac2d"/><stop offset=".062" stop-color="#ffdc5d"/><stop offset=".094" stop-color="#ffe565"/><stop offset=".156" stop-color="#ffcc4d"/><stop offset=".188" stop-color="#ffb232"/><stop offset=".219" stop-color="#f37400"/><stop offset=".25" stop-color="#d65600"/><stop offset=".312" stop-color="#bd3d00"/><stop offset=".344" stop-color="#f37300"/><stop offset=".375" stop-color="#ffb334"/><stop offset=".406" stop-color="#ffab2c"/><stop offset=".438" stop-color="#ff8707"/><stop offset=".469" stop-color="#f77700"/><stop offset=".5" stop-color="#f77700"/><stop offset=".531" stop-color="#ff8606"/><stop offset=".562" stop-color="#ffa020"/><stop offset=".594" stop-color="#ff9f20"/><stop offset=".656" stop-color="#fe7e00"/><stop offset=".688" stop-color="#d65700"/><stop offset=".719" stop-color="#a32400"/><stop offset=".781" stop-color="#b23200"/><stop offset=".812" stop-color="#ac2d00"/><stop offset=".875" stop-color="#c34400"/><stop offset=".938" stop-color="#ca4a00"/><stop offset="1" stop-color="#e76700"/></linearGradient>
<linearGradient id="c106" x1="0" y1="0" x2="0" y2="1"><stop offset="0" stop-color="#ffab2c"/><stop offset=".031" stop-color="#ffc747"/><stop offset=".062" stop-color="#fff879"/><stop offset=".094" stop-color="#ffff81"/><stop offset=".156" stop-color="#ffe566"/><stop offset=".188" stop-color="#ffc748"/><stop offset=".219" stop-color="#ff8405"/><stop offset=".25" stop-color="#e46400"/><stop offset=".312" stop-color="#ce4f00"/><stop offset=".375" stop-color="#ffce4e"/><stop offset=".406" stop-color="#ffc445"/><stop offset=".438" stop-color="#ff9f20"/><stop offset=".469" stop-color="#ff9111"/><stop offset=".5" stop-color="#ff8e0f"/><stop offset=".531" stop-color="#ff9a1a"/><stop offset=".562" stop-color="#ffb536"/><stop offset=".594" stop-color="#ffb535"/><stop offset=".656" stop-color="#ff9213"/><stop offset=".688" stop-color="#e56600"/><stop offset=".719" stop-color="#ad2e00"/><stop offset=".781" stop-color="#ba3a00"/><stop offset=".812" stop-color="#b63700"/><stop offset=".875" stop-color="#d05100"/><stop offset=".938" stop-color="#d95a00"/><stop offset=".969" stop-color="#ee6f00"/><stop offset="1" stop-color="#fb7c00"/></linearGradient>
<linearGradient id="c107" x1="0" y1="0" x2="0" y2="1"><stop offset="0" stop-color="#ff9f1f"/><stop offset=".031" stop-color="#ffb939"/><stop offset=".062" stop-color="#ffe566"/><stop offset=".094" stop-color="#ffeb6c"/><stop offset=".156" stop-color="#ffd151"/><stop offset=".188" stop-color="#ffb334"/><stop offset=".219" stop-color="#f47400"/><stop offset=".25" stop-color="#d65600"/><stop offset=".281" stop-color="#c94900"/><stop offset=".312" stop-color="#c74700"/><stop offset=".375" stop-color="#ffbc3d"/><stop offset=".406" stop-color="#ffb434"/><stop offset=".438" stop-color="#ff9415"/><stop offset=".469" stop-color="#ff8909"/><stop offset=".5" stop-color="#ff8404"/><stop offset=".531" stop-color="#ff8b0b"/><stop offset=".562" stop-color="#ffa323"/><stop offset=".594" stop-color="#ffa324"/><stop offset=".656" stop-color="#ff8304"/><stop offset=".688" stop-color="#d85800"/><stop offset=".719" stop-color="#a22300"/><stop offset=".781" stop-color="#ac2c00"/><stop offset=".812" stop-color="#aa2a00"/><stop offset=".875" stop-color="#c44400"/><stop offset=".938" stop-color="#cd4e00"/><stop offset=".969" stop-color="#e46400"/><stop offset="1" stop-color="#f07000"/></linearGradient>
<linearGradient id="c108" x1="0" y1="0" x2="0" y2="1"><stop offset="0" stop-color="#ffb333"/><stop offset=".031" stop-color="#ffce4e"/><stop offset=".062" stop-color="#fff97a"/><stop offset=".094" stop-color="#fffe7e"/><stop offset=".156" stop-color="#ffe162"/><stop offset=".188" stop-color="#ffc243"/><stop offset=".219" stop-color="#ff8000"/><stop offset=".25" stop-color="#e06100"/><stop offset=".281" stop-color="#d25300"/><stop offset=".312" stop-color="#d55500"/><stop offset=".344" stop-color="#ff9617"/><stop offset=".375" stop-color="#ffcd4e"/><stop offset=".406" stop-color="#ffc445"/><stop offset=".438" stop-color="#ffa829"/><stop offset=".5" stop-color="#ff9717"/><stop offset=".531" stop-color="#ff9a1a"/><stop offset=".562" stop-color="#ffb030"/><stop offset=".594" stop-color="#ffb132"/><stop offset=".656" stop-color="#ff9111"/><stop offset=".688" stop-color="#e26200"/><stop offset=".719" stop-color="#aa2a00"/><stop offset=".812" stop-color="#b13100"/><stop offset=".875" stop-color="#cd4d00"/><stop offset=".938" stop-color="#d95900"/><stop offset=".969" stop-color="#f37400"/><stop offset="1" stop-color="#ff8000"/></linearGradient>
<linearGradient id="c109" x1="0" y1="0" x2="0" y2="1"><stop offset="0" stop-color="#ff9c1c"/><stop offset=".031" stop-color="#ffb434"/><stop offset=".062" stop-color="#ffd959"/><stop offset=".094" stop-color="#ffda5b"/><stop offset=".156" stop-color="#ffc141"/><stop offset=".188" stop-color="#ffa424"/><stop offset=".219" stop-color="#e86800"/><stop offset=".25" stop-color="#cc4c00"/><stop offset=".281" stop-color="#be3e00"/><stop offset=".312" stop-color="#c54500"/><stop offset=".344" stop-color="#ff8102"/><stop offset=".375" stop-color="#ffae2e"/><stop offset=".406" stop-color="#ffa727"/><stop offset=".438" stop-color="#ff9313"/><stop offset=".5" stop-color="#ff8304"/><stop offset=".531" stop-color="#ff8202"/><stop offset=".562" stop-color="#ff9313"/><stop offset=".594" stop-color="#ff9515"/><stop offset=".656" stop-color="#f77800"/><stop offset=".719" stop-color="#9a1b00"/><stop offset=".75" stop-color="#971700"/><stop offset=".781" stop-color="#9f1f00"/><stop offset=".812" stop-color="#9f2000"/><stop offset=".875" stop-color="#b93a00"/><stop offset=".938" stop-color="#c64700"/><stop offset=".969" stop-color="#e16200"/><stop offset="1" stop-color="#ec6c00"/></linearGradient>
<linearGradient id="c110" x1="0" y1="0" x2="0" y2="1"><stop offset="0" stop-color="#ff9f20"/><stop offset=".031" stop-color="#ffb737"/><stop offset=".062" stop-color="#ffd959"/><stop offset=".094" stop-color="#ffd858"/><stop offset=".156" stop-color="#ffbf40"/><stop offset=".188" stop-color="#ffa223"/><stop offset=".219" stop-color="#e76800"/><stop offset=".25" stop-color="#cc4c00"/><stop offset=".281" stop-color="#bc3c00"/><stop offset=".312" stop-color="#c74700"/><stop offset=".344" stop-color="#ff8304"/><stop offset=".375" stop-color="#ffab2b"/><stop offset=".5" stop-color="#ff8808"/><stop offset=".531" stop-color="#ff8304"/><stop offset=".562" stop-color="#ff9011"/><stop offset=".594" stop-color="#ff9213"/><stop offset=".656" stop-color="#f67700"/><stop offset=".719" stop-color="#9a1a00"/><stop offset=".75" stop-color="#941400"/><stop offset=".812" stop-color="#9e1e00"/><stop offset=".906" stop-color="#c04000"/><stop offset=".938" stop-color="#c84900"/><stop offset=".969" stop-color="#e56600"/><stop offset="1" stop-color="#ef7000"/></linearGradient>
<linearGradient id="c111" x1="0" y1="0" x2="0" y2="1"><stop offset="0" stop-color="#ffa728"/><stop offset=".031" stop-color="#ffbf40"/><stop offset=".062" stop-color="#ffdf60"/><stop offset=".125" stop-color="#ffd353"/><stop offset=".156" stop-color="#ffc444"/><stop offset=".188" stop-color="#ffa727"/><stop offset=".219" stop-color="#ec6d00"/><stop offset=".25" stop-color="#cf5000"/><stop offset=".281" stop-color="#bc3c00"/><stop offset=".312" stop-color="#cb4b00"/><stop offset=".344" stop-color="#ff8909"/><stop offset=".375" stop-color="#ffac2d"/><stop offset=".469" stop-color="#ff9d1e"/><stop offset=".531" stop-color="#ff8a0b"/><stop offset=".594" stop-color="#ff9515"/><stop offset=".656" stop-color="#f87900"/><stop offset=".719" stop-color="#9c1d00"/><stop offset=".75" stop-color="#941400"/><stop offset=".844" stop-color="#a92a00"/><stop offset=".875" stop-color="#ba3b00"/><stop offset=".938" stop-color="#cf4f00"/><stop offset=".969" stop-color="#ef6f00"/><stop offset="1" stop-color="#f87900"/></linearGradient>
<linearGradient id="c112" x1="0" y1="0" x2="0" y2="1"><stop offset="0" stop-color="#ffb132"/><stop offset=".062" stop-color="#ffe869"/><stop offset=".125" stop-color="#ffd95a"/><stop offset=".156" stop-color="#ffcc4c"/><stop offset=".188" stop-color="#ffae2f"/><stop offset=".219" stop-color="#f37400"/><stop offset=".281" stop-color="#bc3d00"/><stop offset=".312" stop-color="#d05000"/><stop offset=".344" stop-color="#ff8f0f"/><stop offset=".375" stop-color="#ffaf30"/><stop offset=".469" stop-color="#ffaa2a"/><stop offset=".531" stop-color="#ff9516"/><stop offset=".594" stop-color="#ff9a1a"/><stop offset=".656" stop-color="#fc7d00"/><stop offset=".719" stop-color="#a02100"/><stop offset=".75" stop-color="#961600"/><stop offset=".844" stop-color="#ac2d00"/><stop offset=".938" stop-color="#d95900"/><stop offset=".969" stop-color="#fc7c00"/><stop offset="1" stop-color="#ff8506"/></linearGradient>
<linearGradient id="c113" x1="0" y1="0" x2="0" y2="1"><stop offset="0" stop-color="#ffac2d"/><stop offset=".062" stop-color="#ffe161"/><stop offset=".156" stop-color="#ffc546"/><stop offset=".188" stop-color="#ffa829"/><stop offset=".219" stop-color="#f07100"/><stop offset=".281" stop-color="#b33400"/><stop offset=".312" stop-color="#ca4a00"/><stop offset=".344" stop-color="#ff8708"/><stop offset=".375" stop-color="#ffa424"/><stop offset=".469" stop-color="#ffa828"/><stop offset=".531" stop-color="#ff9415"/><stop offset=".594" stop-color="#ff9212"/><stop offset=".656" stop-color="#f47500"/><stop offset=".719" stop-color="#9d1d00"/><stop offset=".75" stop-color="#911100"/><stop offset=".812" stop-color="#9c1d00"/><stop offset=".906" stop-color="#c74800"/><stop offset=".938" stop-color="#da5a00"/><stop offset=".969" stop-color="#fe7f00"/><stop offset="1" stop-color="#ff8707"/></linearGradient>
<linearGradient id="c114" x1="0" y1="0" x2="0" y2="1"><stop offset="0" stop-color="#ff9818"/><stop offset=".062" stop-color="#ffc747"/><stop offset=".156" stop-color="#ffaf2f"/><stop offset=".188" stop-color="#ff9314"/><stop offset=".219" stop-color="#e16100"/><stop offset=".281" stop-color="#a22300"/><stop offset=".312" stop-color="#ba3a00"/><stop offset=".344" stop-color="#f27300"/><stop offset=".375" stop-color="#ff8b0b"/><stop offset=".438" stop-color="#ff9617"/><stop offset=".469" stop-color="#ff9616"/><stop offset=".5" stop-color="#ff8a0a"/><stop offset=".594" stop-color="#fc7d00"/><stop offset=".656" stop-color="#e06000"/><stop offset=".688" stop-color="#bd3d00"/><stop offset=".719" stop-color="#921200"/><stop offset=".75" stop-color="#850600"/><stop offset=".812" stop-color="#901000"/><stop offset=".906" stop-color="#bb3c00"/><stop offset=".938" stop-color="#d05100"/><stop offset=".969" stop-color="#f47400"/><stop offset="1" stop-color="#fb7b00"/></linearGradient>
<linearGradient id="c115" x1="0" y1="0" x2="0" y2="1"><stop offset="0" stop-color="#ffa929"/><stop offset=".062" stop-color="#ffd95a"/><stop offset=".156" stop-color="#ffc041"/><stop offset=".188" stop-color="#ffa424"/><stop offset=".219" stop-color="#f07100"/><stop offset=".281" stop-color="#a82800"/><stop offset=".312" stop-color="#c44400"/><stop offset=".344" stop-color="#ff7f00"/><stop offset=".375" stop-color="#ff9617"/><stop offset=".406" stop-color="#ff9b1b"/><stop offset=".438" stop-color="#ffa929"/><stop offset=".469" stop-color="#ffa929"/><stop offset=".562" stop-color="#ff8e0f"/><stop offset=".594" stop-color="#ff8a0b"/><stop offset=".656" stop-color="#ea6b00"/><stop offset=".688" stop-color="#c84800"/><stop offset=".719" stop-color="#9b1b00"/><stop offset=".75" stop-color="#8d0d00"/><stop offset=".812" stop-color="#971800"/><stop offset=".906" stop-color="#c94a00"/><stop offset=".938" stop-color="#e36300"/><stop offset=".969" stop-color="#ff8b0b"/><stop offset="1" stop-color="#ff9213"/></linearGradient>
<linearGradient id="c116" x1="0" y1="0" x2="0" y2="1"><stop offset="0" stop-color="#ffa627"/><stop offset=".062" stop-color="#ffd555"/><stop offset=".156" stop-color="#ffbd3e"/><stop offset=".188" stop-color="#ffa122"/><stop offset=".219" stop-color="#f07100"/><stop offset=".281" stop-color="#a42500"/><stop offset=".312" stop-color="#c34400"/><stop offset=".344" stop-color="#fc7d00"/><stop offset=".375" stop-color="#ff9112"/><stop offset=".406" stop-color="#ff9718"/><stop offset=".438" stop-color="#ffa929"/><stop offset=".469" stop-color="#ffa929"/><stop offset=".5" stop-color="#ff9e1f"/><stop offset=".531" stop-color="#ff9d1e"/><stop offset=".562" stop-color="#ff8d0e"/><stop offset=".594" stop-color="#ff8708"/><stop offset=".656" stop-color="#e66600"/><stop offset=".688" stop-color="#c64700"/><stop offset=".719" stop-color="#9b1b00"/><stop offset=".75" stop-color="#8c0c00"/><stop offset=".812" stop-color="#961600"/><stop offset=".906" stop-color="#cb4b00"/><stop offset=".938" stop-color="#e76700"/><stop offset=".969" stop-color="#ff9111"/><stop offset="1" stop-color="#ff9818"/></linearGradient>
<linearGradient id="c117" x1="0" y1="0" x2="0" y2="1"><stop offset="0" stop-color="#ffa021"/><stop offset=".062" stop-color="#ffcc4c"/><stop offset=".125" stop-color="#ffb838"/><stop offset=".156" stop-color="#ffb435"/><stop offset=".188" stop-color="#ff9a1b"/><stop offset=".25" stop-color="#c74700"/><stop offset=".281" stop-color="#a12100"/><stop offset=".312" stop-color="#c24200"/><stop offset=".344" stop-color="#f87900"/><stop offset=".375" stop-color="#ff8b0b"/><stop offset=".406" stop-color="#ff9212"/><stop offset=".438" stop-color="#ffa525"/><stop offset=".531" stop-color="#ff9c1d"/><stop offset=".562" stop-color="#ff8909"/><stop offset=".594" stop-color="#ff8203"/><stop offset=".656" stop-color="#df6000"/><stop offset=".688" stop-color="#c24300"/><stop offset=".719" stop-color="#991900"/><stop offset=".75" stop-color="#8a0b00"/><stop offset=".781" stop-color="#8b0c00"/><stop offset=".812" stop-color="#941400"/><stop offset=".875" stop-color="#be3e00"/><stop offset=".906" stop-color="#ca4a00"/><stop offset=".938" stop-color="#e76700"/><stop offset=".969" stop-color="#ff9212"/><stop offset="1" stop-color="#ff9919"/></linearGradient>
<linearGradient id="c118" x1="0" y1="0" x2="0" y2="1"><stop offset="0" stop-color="#ff9c1d"/><stop offset=".031" stop-color="#ffac2d"/><stop offset=".062" stop-color="#ffc445"/><stop offset=".125" stop-color="#ffaf30"/><stop offset=".156" stop-color="#ffac2d"/><stop offset=".188" stop-color="#ff9415"/><stop offset=".281" stop-color="#a12200"/><stop offset=".312" stop-color="#c54600"/><stop offset=".344" stop-color="#f97900"/><stop offset=".375" stop-color="#ff8909"/><stop offset=".406" stop-color="#ff8f10"/><stop offset=".438" stop-color="#ffa324"/><stop offset=".531" stop-color="#ff9c1d"/><stop offset=".562" stop-color="#ff8607"/><stop offset=".594" stop-color="#ff7f00"/><stop offset=".656" stop-color="#dc5c00"/><stop offset=".688" stop-color="#c04000"/><stop offset=".719" stop-color="#991a00"/><stop offset=".75" stop-color="#8b0b00"/><stop offset=".781" stop-color="#8b0b00"/><stop offset=".812" stop-color="#931400"/><stop offset=".875" stop-color="#c24300"/><stop offset=".906" stop-color="#ca4b00"/><stop offset=".938" stop-color="#e86800"/><stop offset=".969" stop-color="#ff9415"/><stop offset="1" stop-color="#ff9b1b"/></linearGradient>
<linearGradient id="c119" x1="0" y1="0" x2="0" y2="1"><stop offset="0" stop-color="#ffb637"/><stop offset=".031" stop-color="#ffc545"/><stop offset=".062" stop-color="#ffdd5e"/><stop offset=".094" stop-color="#ffd656"/><stop offset=".125" stop-color="#ffc646"/><stop offset=".156" stop-color="#ffc242"/><stop offset=".188" stop-color="#ffaa2a"/><stop offset=".25" stop-color="#d65700"/><stop offset=".281" stop-color="#b53600"/><stop offset=".312" stop-color="#e06100"/><stop offset=".344" stop-color="#ff9616"/><stop offset=".406" stop-color="#ffab2b"/><stop offset=".438" stop-color="#ffc041"/><stop offset=".531" stop-color="#ffba3a"/><stop offset=".562" stop-color="#ffa020"/><stop offset=".594" stop-color="#ff9819"/><stop offset=".656" stop-color="#ef7000"/><stop offset=".688" stop-color="#d25300"/><stop offset=".719" stop-color="#aa2a00"/><stop offset=".75" stop-color="#9b1b00"/><stop offset=".781" stop-color="#9b1b00"/><stop offset=".812" stop-color="#a42400"/><stop offset=".875" stop-color="#dd5e00"/><stop offset=".906" stop-color="#e16100"/><stop offset=".938" stop-color="#ff8001"/><stop offset=".969" stop-color="#ffb233"/><stop offset="1" stop-color="#ffba3a"/></linearGradient>
<linearGradient id="c120" x1="0" y1="0" x2="0" y2="1"><stop offset="0" stop-color="#ff9b1c"/><stop offset=".031" stop-color="#ffa626"/><stop offset=".062" stop-color="#ffba3b"/><stop offset=".094" stop-color="#ffb435"/><stop offset=".125" stop-color="#ffa424"/><stop offset=".156" stop-color="#ff9f20"/><stop offset=".188" stop-color="#ff8c0c"/><stop offset=".25" stop-color="#c34400"/><stop offset=".281" stop-color="#ac2d00"/><stop offset=".344" stop-color="#ff8405"/><stop offset=".406" stop-color="#ff9414"/><stop offset=".438" stop-color="#ffa627"/><stop offset=".531" stop-color="#ffa121"/><stop offset=".562" stop-color="#ff8808"/><stop offset=".594" stop-color="#ff8102"/><stop offset=".656" stop-color="#db5b00"/><stop offset=".688" stop-color="#c14100"/><stop offset=".719" stop-color="#9e1e00"/><stop offset=".75" stop-color="#911100"/><stop offset=".781" stop-color="#901100"/><stop offset=".812" stop-color="#981900"/><stop offset=".875" stop-color="#d35400"/><stop offset=".906" stop-color="#d15100"/><stop offset=".938" stop-color="#ec6c00"/><stop offset=".969" stop-color="#ff9b1c"/><stop offset="1" stop-color="#ffa222"/></linearGradient>
<linearGradient id="c121" x1="0" y1="0" x2="0" y2="1"><stop offset="0" stop-color="#ff9313"/><stop offset=".031" stop-color="#ff9b1b"/><stop offset=".062" stop-color="#ffad2d"/><stop offset=".094" stop-color="#ffa828"/><stop offset=".125" stop-color="#ff9617"/><stop offset=".156" stop-color="#ff9111"/><stop offset=".188" stop-color="#ff8000"/><stop offset=".25" stop-color="#be3e00"/><stop offset=".281" stop-color="#ae2f00"/><stop offset=".344" stop-color="#ff8405"/><stop offset=".406" stop-color="#ff8f10"/><stop offset=".438" stop-color="#ffa021"/><stop offset=".531" stop-color="#ff9a1b"/><stop offset=".562" stop-color="#ff8101"/><stop offset=".594" stop-color="#fb7b00"/><stop offset=".656" stop-color="#d55600"/><stop offset=".719" stop-color="#9c1d00"/><stop offset=".75" stop-color="#901100"/><stop offset=".812" stop-color="#971800"/><stop offset=".875" stop-color="#d65700"/><stop offset=".906" stop-color="#ce4e00"/><stop offset=".938" stop-color="#e66700"/><stop offset=".969" stop-color="#ff9616"/><stop offset="1" stop-color="#ff9c1c"/></linearGradient>
<linearGradient id="c122" x1="0" y1="0" x2="0" y2="1"><stop offset="0" stop-color="#ffa021"/><stop offset=".031" stop-color="#ffa626"/><stop offset=".062" stop-color="#ffb737"/><stop offset=".094" stop-color="#ffb233"/><stop offset=".125" stop-color="#ff9f1f"/><stop offset=".156" stop-color="#ff9818"/><stop offset=".188" stop-color="#ff8808"/><stop offset=".25" stop-color="#c74700"/><stop offset=".281" stop-color="#bf3f00"/><stop offset=".312" stop-color="#ef7000"/><stop offset=".344" stop-color="#ff9818"/><stop offset=".406" stop-color="#ffa020"/><stop offset=".438" stop-color="#ffb030"/><stop offset=".531" stop-color="#ffa92a"/><stop offset=".562" stop-color="#ff8e0e"/><stop offset=".594" stop-color="#ff8809"/><stop offset=".656" stop-color="#e16100"/><stop offset=".719" stop-color="#a62700"/><stop offset=".75" stop-color="#9b1b00"/><stop offset=".812" stop-color="#a22200"/><stop offset=".875" stop-color="#e96a00"/><stop offset=".906" stop-color="#db5c00"/><stop offset=".938" stop-color="#f37300"/><stop offset=".969" stop-color="#ffa525"/><stop offset="1" stop-color="#ffab2c"/></linearGradient>
<linearGradient id="c123" x1="0" y1="0" x2="0" y2="1"><stop offset="0" stop-color="#ff9617"/><stop offset=".031" stop-color="#ff9a1a"/><stop offset=".062" stop-color="#ffa929"/><stop offset=".094" stop-color="#ffa525"/><stop offset=".125" stop-color="#ff9112"/><stop offset=".188" stop-color="#fb7b00"/><stop offset=".25" stop-color="#c14100"/><stop offset=".281" stop-color="#bf4000"/><stop offset=".312" stop-color="#ef7000"/><stop offset=".344" stop-color="#ff9415"/><stop offset=".406" stop-color="#ff991a"/><stop offset=".438" stop-color="#ffa728"/><stop offset=".5" stop-color="#ffa627"/><stop offset=".531" stop-color="#ffa020"/><stop offset=".562" stop-color="#ff8505"/><stop offset=".594" stop-color="#ff7f00"/><stop offset=".656" stop-color="#da5a00"/><stop offset=".719" stop-color="#a32300"/><stop offset=".75" stop-color="#991900"/><stop offset=".812" stop-color="#9e1f00"/><stop offset=".875" stop-color="#e86900"/><stop offset=".906" stop-color="#d75800"/><stop offset=".938" stop-color="#ec6d00"/><stop offset=".969" stop-color="#ff9b1c"/><stop offset="1" stop-color="#ffa122"/></linearGradient>
<linearGradient id="c124" x1="0" y1="0" x2="0" y2="1"><stop offset="0" stop-color="#ff8f0f"/><stop offset=".031" stop-color="#ff9212"/><stop offset=".062" stop-color="#ff9f1f"/><stop offset=".094" stop-color="#ff9b1b"/><stop offset=".125" stop-color="#ff8808"/><stop offset=".188" stop-color="#f27200"/><stop offset=".25" stop-color="#bd3d00"/><stop offset=".281" stop-color="#bf4000"/><stop offset=".312" stop-color="#ef6f00"/><stop offset=".344" stop-color="#ff9111"/><stop offset=".406" stop-color="#ff9415"/><stop offset=".438" stop-color="#ffa122"/><stop offset=".5" stop-color="#ffa021"/><stop offset=".531" stop-color="#ff991a"/><stop offset=".562" stop-color="#fd7e00"/><stop offset=".594" stop-color="#f77800"/><stop offset=".656" stop-color="#d55500"/><stop offset=".719" stop-color="#a02000"/><stop offset=".75" stop-color="#971800"/><stop offset=".812" stop-color="#9c1c00"/><stop offset=".844" stop-color="#c54500"/><stop offset=".875" stop-color="#e76700"/><stop offset=".906" stop-color="#d55600"/><stop offset=".938" stop-color="#e86900"/><stop offset=".969" stop-color="#ff9414"/><stop offset="1" stop-color="#ff9a1a"/></linearGradient>
<linearGradient id="c125" x1="0" y1="0" x2="0" y2="1"><stop offset="0" stop-color="#ff9313"/><stop offset=".031" stop-color="#ff9516"/><stop offset=".062" stop-color="#ffa122"/><stop offset=".094" stop-color="#ff9d1d"/><stop offset=".125" stop-color="#ff8b0b"/><stop offset=".156" stop-color="#ff8304"/><stop offset=".188" stop-color="#f47500"/><stop offset=".25" stop-color="#c14100"/><stop offset=".281" stop-color="#c64700"/><stop offset=".312" stop-color="#f67600"/><stop offset=".344" stop-color="#ff9717"/><stop offset=".375" stop-color="#ff9415"/><stop offset=".406" stop-color="#ff9a1a"/><stop offset=".438" stop-color="#ffa728"/><stop offset=".5" stop-color="#ffa526"/><stop offset=".531" stop-color="#ff9e1e"/><stop offset=".562" stop-color="#ff8101"/><stop offset=".594" stop-color="#f97900"/><stop offset=".656" stop-color="#d95900"/><stop offset=".719" stop-color="#a32300"/><stop offset=".75" stop-color="#9b1c00"/><stop offset=".812" stop-color="#9f1f00"/><stop offset=".844" stop-color="#ca4a00"/><stop offset=".875" stop-color="#ed6d00"/><stop offset=".906" stop-color="#dc5d00"/><stop offset=".938" stop-color="#ef6f00"/><stop offset=".969" stop-color="#ff9717"/><stop offset="1" stop-color="#ff9d1e"/></linearGradient>
<linearGradient id="c126" x1="0" y1="0" x2="0" y2="1"><stop offset="0" stop-color="#ff8a0a"/><stop offset=".031" stop-color="#ff8d0d"/><stop offset=".062" stop-color="#ff9718"/><stop offset=".094" stop-color="#ff9213"/><stop offset=".188" stop-color="#ec6d00"/><stop offset=".25" stop-color="#bc3d00"/><stop offset=".281" stop-color="#c34300"/><stop offset=".312" stop-color="#f07000"/><stop offset=".344" stop-color="#ff8f0f"/><stop offset=".375" stop-color="#ff8b0b"/><stop offset=".438" stop-color="#ffa020"/><stop offset=".531" stop-color="#ff9616"/><stop offset=".562" stop-color="#f87900"/><stop offset=".656" stop-color="#d35300"/><stop offset=".688" stop-color="#bd3d00"/><stop offset=".719" stop-color="#9e1f00"/><stop offset=".75" stop-color="#981800"/><stop offset=".812" stop-color="#9a1a00"/><stop offset=".844" stop-color="#c54500"/><stop offset=".875" stop-color="#e66700"/><stop offset=".906" stop-color="#d95900"/><stop offset=".938" stop-color="#eb6b00"/><stop offset=".969" stop-color="#ff8d0e"/><stop offset="1" stop-color="#ff9414"/></linearGradient>
<linearGradient id="c127" x1="0" y1="0" x2="0" y2="1"><stop offset="0" stop-color="#ff8304"/><stop offset=".062" stop-color="#ff9011"/><stop offset=".156" stop-color="#f87800"/><stop offset=".25" stop-color="#b93a00"/><stop offset=".281" stop-color="#c14100"/><stop offset=".312" stop-color="#ea6b00"/><stop offset=".344" stop-color="#ff8808"/><stop offset=".375" stop-color="#ff8404"/><stop offset=".438" stop-color="#ff9b1c"/><stop offset=".531" stop-color="#ff9011"/><stop offset=".562" stop-color="#f27200"/><stop offset=".656" stop-color="#cf4f00"/><stop offset=".688" stop-color="#ba3a00"/><stop offset=".719" stop-color="#9b1b00"/><stop offset=".75" stop-color="#961600"/><stop offset=".812" stop-color="#961700"/><stop offset=".844" stop-color="#c14200"/><stop offset=".875" stop-color="#e26200"/><stop offset=".906" stop-color="#d85800"/><stop offset=".938" stop-color="#e96a00"/><stop offset=".969" stop-color="#ff8607"/><stop offset="1" stop-color="#ff8c0d"/></linearGradient>
<linearGradient id="c128" x1="0" y1="0" x2="0" y2="1"><stop offset="0" stop-color="#ff8404"/><stop offset=".062" stop-color="#ff9112"/><stop offset=".156" stop-color="#fc7d00"/><stop offset=".188" stop-color="#e96900"/><stop offset=".219" stop-color="#cc4d00"/><stop offset=".25" stop-color="#bd3d00"/><stop offset=".281" stop-color="#c44500"/><stop offset=".312" stop-color="#ec6c00"/><stop offset=".344" stop-color="#ff8809"/><stop offset=".375" stop-color="#ff8405"/><stop offset=".438" stop-color="#ffa021"/><stop offset=".469" stop-color="#ff9819"/><stop offset=".5" stop-color="#ff9a1b"/><stop offset=".531" stop-color="#ff9415"/><stop offset=".562" stop-color="#f47400"/><stop offset=".656" stop-color="#d15200"/><stop offset=".688" stop-color="#bd3e00"/><stop offset=".719" stop-color="#9c1d00"/><stop offset=".812" stop-color="#981800"/><stop offset=".844" stop-color="#c44400"/><stop offset=".875" stop-color="#e46400"/><stop offset=".906" stop-color="#de5e00"/><stop offset=".969" stop-color="#ff8809"/><stop offset="1" stop-color="#ff8d0e"/></linearGradient>
<linearGradient id="c129" x1="0" y1="0" x2="0" y2="1"><stop offset="0" stop-color="#ffbe3e"/><stop offset=".062" stop-color="#ffcf4f"/><stop offset=".125" stop-color="#ffbd3d"/><stop offset=".156" stop-color="#ffbb3b"/><stop offset=".188" stop-color="#ffa121"/><stop offset=".219" stop-color="#fa7b00"/><stop offset=".25" stop-color="#eb6b00"/><stop offset=".281" stop-color="#f47500"/><stop offset=".312" stop-color="#ffa323"/><stop offset=".344" stop-color="#ffc344"/><stop offset=".375" stop-color="#ffc041"/><stop offset=".438" stop-color="#ffe869"/><stop offset=".469" stop-color="#ffdc5d"/><stop offset=".5" stop-color="#ffdf5f"/><stop offset=".531" stop-color="#ffd758"/><stop offset=".562" stop-color="#ffae2f"/><stop offset=".656" stop-color="#ff8405"/><stop offset=".688" stop-color="#eb6c00"/><stop offset=".719" stop-color="#c24300"/><stop offset=".812" stop-color="#bc3d00"/><stop offset=".844" stop-color="#f47400"/><stop offset=".875" stop-color="#ff9b1b"/><stop offset=".906" stop-color="#ff9717"/><stop offset=".969" stop-color="#ffc646"/><stop offset="1" stop-color="#ffcc4c"/></linearGradient>
<linearGradient id="c130" x1="0" y1="0" x2="0" y2="1"><stop offset="0" stop-color="#eb6c00"/><stop offset=".062" stop-color="#f87900"/><stop offset=".125" stop-color="#ee6e00"/><stop offset=".156" stop-color="#ee6e00"/><stop offset=".188" stop-color="#d95900"/><stop offset=".219" stop-color="#bb3b00"/><stop offset=".25" stop-color="#b13200"/><stop offset=".281" stop-color="#b93a00"/><stop offset=".312" stop-color="#da5a00"/><stop offset=".344" stop-color="#f07100"/><stop offset=".375" stop-color="#f07000"/><stop offset=".406" stop-color="#ff8606"/><stop offset=".438" stop-color="#ff9313"/><stop offset=".469" stop-color="#ff8809"/><stop offset=".5" stop-color="#ff8b0b"/><stop offset=".531" stop-color="#ff8505"/><stop offset=".562" stop-color="#e46400"/><stop offset=".656" stop-color="#c54500"/><stop offset=".688" stop-color="#b23200"/><stop offset=".719" stop-color="#931300"/><stop offset=".812" stop-color="#8f0f00"/><stop offset=".844" stop-color="#ba3a00"/><stop offset=".875" stop-color="#d65700"/><stop offset=".906" stop-color="#d55500"/><stop offset=".969" stop-color="#f57600"/><stop offset="1" stop-color="#f97a00"/></linearGradient>
<linearGradient id="c131" x1="0" y1="0" x2="0" y2="1"><stop offset="0" stop-color="#eb6b00"/><stop offset=".062" stop-color="#f87800"/><stop offset=".125" stop-color="#f07000"/><stop offset=".156" stop-color="#f27200"/><stop offset=".188" stop-color="#dc5c00"/><stop offset=".219" stop-color="#bc3c00"/><stop offset=".25" stop-color="#b53500"/><stop offset=".281" stop-color="#be3f00"/><stop offset=".312" stop-color="#dd5d00"/><stop offset=".344" stop-color="#f17100"/><stop offset=".375" stop-color="#f47400"/><stop offset=".406" stop-color="#ff8f0f"/><stop offset=".438" stop-color="#ff9b1c"/><stop offset=".469" stop-color="#ff8f10"/><stop offset=".5" stop-color="#ff9313"/><stop offset=".531" stop-color="#ff8b0c"/><stop offset=".562" stop-color="#e96900"/><stop offset=".656" stop-color="#c94a00"/><stop offset=".688" stop-color="#b53500"/><stop offset=".719" stop-color="#971700"/><stop offset=".812" stop-color="#931400"/><stop offset=".844" stop-color="#c04100"/><stop offset=".875" stop-color="#dd5d00"/><stop offset=".906" stop-color="#db5c00"/><stop offset=".938" stop-color="#ef7000"/><stop offset=".969" stop-color="#fa7b00"/><stop offset="1" stop-color="#fd7e00"/></linearGradient>
<linearGradient id="c132" x1="0" y1="0" x2="0" y2="1"><stop offset="0" stop-color="#e76800"/><stop offset=".062" stop-color="#f47400"/><stop offset=".125" stop-color="#ef7000"/><stop offset=".156" stop-color="#f27300"/><stop offset=".188" stop-color="#db5c00"/><stop offset=".219" stop-color="#ba3b00"/><stop offset=".25" stop-color="#b53600"/><stop offset=".281" stop-color="#c14200"/><stop offset=".312" stop-color="#de5e00"/><stop offset=".344" stop-color="#ef6f00"/><stop offset=".375" stop-color="#f57500"/><stop offset=".406" stop-color="#ff9515"/><stop offset=".438" stop-color="#ffa021"/><stop offset=".469" stop-color="#ff9314"/><stop offset=".5" stop-color="#ff9718"/><stop offset=".531" stop-color="#ff8f0f"/><stop offset=".562" stop-color="#eb6c00"/><stop offset=".656" stop-color="#cb4c00"/><stop offset=".688" stop-color="#b63600"/><stop offset=".719" stop-color="#991900"/><stop offset=".812" stop-color="#961600"/><stop offset=".844" stop-color="#c44500"/><stop offset=".875" stop-color="#e16100"/><stop offset=".906" stop-color="#df5f00"/><stop offset=".938" stop-color="#f37400"/><stop offset="1" stop-color="#fe7f00"/></linearGradient>
<linearGradient id="c133" x1="0" y1="0" x2="0" y2="1"><stop offset="0" stop-color="#ed6d00"/><stop offset=".062" stop-color="#f97a00"/><stop offset=".125" stop-color="#f77800"/><stop offset=".156" stop-color="#fc7d00"/><stop offset=".188" stop-color="#e46400"/><stop offset=".219" stop-color="#c04100"/><stop offset=".25" stop-color="#bd3d00"/><stop offset=".281" stop-color="#cc4d00"/><stop offset=".312" stop-color="#e76800"/><stop offset=".375" stop-color="#ff8001"/><stop offset=".406" stop-color="#ffa525"/><stop offset=".438" stop-color="#ffb131"/><stop offset=".469" stop-color="#ffa222"/><stop offset=".5" stop-color="#ffa727"/><stop offset=".531" stop-color="#ff9d1d"/><stop offset=".562" stop-color="#f77700"/><stop offset=".656" stop-color="#d55500"/><stop offset=".719" stop-color="#a12100"/><stop offset=".812" stop-color="#9e1f00"/><stop offset=".844" stop-color="#d05000"/><stop offset=".875" stop-color="#ed6e00"/><stop offset=".906" stop-color="#ea6b00"/><stop offset=".938" stop-color="#ff8102"/><stop offset="1" stop-color="#ff8a0a"/></linearGradient>
<linearGradient id="c134" x1="0" y1="0" x2="0" y2="1"><stop offset="0" stop-color="#e06000"/><stop offset=".062" stop-color="#ec6c00"/><stop offset=".094" stop-color="#e86900"/><stop offset=".156" stop-color="#f17200"/><stop offset=".188" stop-color="#da5a00"/><stop offset=".219" stop-color="#b63700"/><stop offset=".25" stop-color="#b53500"/><stop offset=".312" stop-color="#de5f00"/><stop offset=".375" stop-color="#f67600"/><stop offset=".406" stop-color="#ff9d1e"/><stop offset=".438" stop-color="#ffa828"/><stop offset=".469" stop-color="#ff9919"/><stop offset=".5" stop-color="#ff9e1e"/><stop offset=".531" stop-color="#ff9314"/><stop offset=".562" stop-color="#ee6f00"/><stop offset=".656" stop-color="#cd4e00"/><stop offset=".719" stop-color="#9b1c00"/><stop offset=".812" stop-color="#9a1b00"/><stop offset=".844" stop-color="#ca4b00"/><stop offset=".875" stop-color="#e66600"/><stop offset=".906" stop-color="#e26300"/><stop offset=".938" stop-color="#f87800"/><stop offset="1" stop-color="#fe7e00"/></linearGradient>
<linearGradient id="c135" x1="0" y1="0" x2="0" y2="1"><stop offset="0" stop-color="#d95900"/><stop offset=".062" stop-color="#e46500"/><stop offset=".094" stop-color="#e16200"/><stop offset=".156" stop-color="#ec6c00"/><stop offset=".188" stop-color="#d45400"/><stop offset=".219" stop-color="#b03100"/><stop offset=".25" stop-color="#b03000"/><stop offset=".312" stop-color="#da5a00"/><stop offset=".375" stop-color="#f07000"/><stop offset=".406" stop-color="#ff991a"/><stop offset=".438" stop-color="#ffa424"/><stop offset=".469" stop-color="#ff9414"/><stop offset=".5" stop-color="#ff9919"/><stop offset=".531" stop-color="#ff8e0e"/><stop offset=".562" stop-color="#e96a00"/><stop offset=".656" stop-color="#c94900"/><stop offset=".719" stop-color="#981900"/><stop offset=".781" stop-color="#9c1d00"/><stop offset=".812" stop-color="#981900"/><stop offset=".844" stop-color="#c74700"/><stop offset=".875" stop-color="#e26200"/><stop offset=".906" stop-color="#de5f00"/><stop offset=".938" stop-color="#f37300"/><stop offset="1" stop-color="#f67700"/></linearGradient>
<linearGradient id="c136" x1="0" y1="0" x2="0" y2="1"><stop offset="0" stop-color="#eb6b00"/><stop offset=".062" stop-color="#f77800"/><stop offset=".094" stop-color="#f57600"/><stop offset=".156" stop-color="#ff8102"/><stop offset=".188" stop-color="#e56600"/><stop offset=".219" stop-color="#bd3e00"/><stop offset=".25" stop-color="#be3f00"/><stop offset=".312" stop-color="#ed6e00"/><stop offset=".344" stop-color="#f37400"/><stop offset=".375" stop-color="#ff8405"/><stop offset=".406" stop-color="#ffb333"/><stop offset=".438" stop-color="#ffbf3f"/><stop offset=".469" stop-color="#ffad2d"/><stop offset=".5" stop-color="#ffb132"/><stop offset=".531" stop-color="#ffa526"/><stop offset=".562" stop-color="#fe7f00"/><stop offset=".656" stop-color="#da5b00"/><stop offset=".719" stop-color="#a62600"/><stop offset=".781" stop-color="#ac2d00"/><stop offset=".812" stop-color="#a62700"/><stop offset=".844" stop-color="#d85800"/><stop offset=".875" stop-color="#f57600"/><stop offset=".906" stop-color="#f27200"/><stop offset=".938" stop-color="#ff8808"/><stop offset="1" stop-color="#ff8909"/></linearGradient>
<linearGradient id="c137" x1="0" y1="0" x2="0" y2="1"><stop offset="0" stop-color="#de5e00"/><stop offset=".062" stop-color="#ea6b00"/><stop offset=".094" stop-color="#e86900"/><stop offset=".156" stop-color="#f37300"/><stop offset=".188" stop-color="#d75800"/><stop offset=".219" stop-color="#b13100"/><stop offset=".25" stop-color="#b33300"/><stop offset=".281" stop-color="#cf4f00"/><stop offset=".312" stop-color="#e06000"/><stop offset=".344" stop-color="#e46400"/><stop offset=".375" stop-color="#f37400"/><stop offset=".406" stop-color="#ffa121"/><stop offset=".438" stop-color="#ffad2e"/><stop offset=".469" stop-color="#ff9c1c"/><stop offset=".5" stop-color="#ff9e1f"/><stop offset=".531" stop-color="#ff9414"/><stop offset=".562" stop-color="#ef7000"/><stop offset=".656" stop-color="#cd4e00"/><stop offset=".719" stop-color="#9c1d00"/><stop offset=".781" stop-color="#a52500"/><stop offset=".812" stop-color="#9d1e00"/><stop offset=".844" stop-color="#ca4a00"/><stop offset=".875" stop-color="#e66600"/><stop offset=".906" stop-color="#e36400"/><stop offset=".938" stop-color="#f77700"/><stop offset="1" stop-color="#f57600"/></linearGradient>
<linearGradient id="c138" x1="0" y1="0" x2="0" y2="1"><stop offset="0" stop-color="#d95900"/><stop offset=".062" stop-color="#e56600"/><stop offset=".094" stop-color="#e36300"/><stop offset=".156" stop-color="#ec6d00"/><stop offset=".188" stop-color="#d05100"/><stop offset=".219" stop-color="#a92a00"/><stop offset=".25" stop-color="#ac2d00"/><stop offset=".281" stop-color="#cc4c00"/><stop offset=".312" stop-color="#da5a00"/><stop offset=".344" stop-color="#db5c00"/><stop offset=".375" stop-color="#ea6a00"/><stop offset=".406" stop-color="#ff9717"/><stop offset=".438" stop-color="#ffa525"/><stop offset=".469" stop-color="#ff9213"/><stop offset=".5" stop-color="#ff9414"/><stop offset=".531" stop-color="#ff8a0b"/><stop offset=".562" stop-color="#e76800"/><stop offset=".656" stop-color="#c64700"/><stop offset=".719" stop-color="#971700"/><stop offset=".781" stop-color="#a22200"/><stop offset=".812" stop-color="#991a00"/><stop offset=".844" stop-color="#c14200"/><stop offset=".875" stop-color="#dd5d00"/><stop offset=".906" stop-color="#dc5c00"/><stop offset=".938" stop-color="#ed6d00"/><stop offset="1" stop-color="#e96a00"/></linearGradient>
<linearGradient id="c139" x1="0" y1="0" x2="0" y2="1"><stop offset="0" stop-color="#ef6f00"/><stop offset=".062" stop-color="#fd7d00"/><stop offset=".094" stop-color="#fa7b00"/><stop offset=".156" stop-color="#ff8404"/><stop offset=".188" stop-color="#e36400"/><stop offset=".219" stop-color="#b73700"/><stop offset=".25" stop-color="#bc3c00"/><stop offset=".281" stop-color="#e26300"/><stop offset=".312" stop-color="#ef7000"/><stop offset=".344" stop-color="#ee6e00"/><stop offset=".375" stop-color="#fd7e00"/><stop offset=".406" stop-color="#ffae2f"/><stop offset=".438" stop-color="#ffc040"/><stop offset=".469" stop-color="#ffab2b"/><stop offset=".5" stop-color="#ffaa2b"/><stop offset=".531" stop-color="#ffa122"/><stop offset=".562" stop-color="#fc7d00"/><stop offset=".656" stop-color="#d85800"/><stop offset=".719" stop-color="#a42500"/><stop offset=".781" stop-color="#b43400"/><stop offset=".812" stop-color="#a82900"/><stop offset=".844" stop-color="#d15100"/><stop offset=".875" stop-color="#ef6f00"/><stop offset=".906" stop-color="#f07100"/><stop offset=".938" stop-color="#ff8101"/><stop offset="1" stop-color="#fa7b00"/></linearGradient>
<linearGradient id="c140" x1="0" y1="0" x2="0" y2="1"><stop offset="0" stop-color="#e56500"/><stop offset=".062" stop-color="#f27200"/><stop offset=".094" stop-color="#ef6f00"/><stop offset=".156" stop-color="#f67700"/><stop offset=".188" stop-color="#d85800"/><stop offset=".219" stop-color="#ac2c00"/><stop offset=".25" stop-color="#b23200"/><stop offset=".281" stop-color="#db5b00"/><stop offset=".312" stop-color="#e56600"/><stop offset=".344" stop-color="#e16100"/><stop offset=".375" stop-color="#ed6e00"/><stop offset=".406" stop-color="#ff9d1e"/><stop offset=".438" stop-color="#ffaf30"/><stop offset=".469" stop-color="#ff9a1a"/><stop offset=".531" stop-color="#ff9112"/><stop offset=".562" stop-color="#ef7000"/><stop offset=".656" stop-color="#cc4c00"/><stop offset=".719" stop-color="#9b1c00"/><stop offset=".781" stop-color="#ae2f00"/><stop offset=".812" stop-color="#a12100"/><stop offset=".875" stop-color="#e16100"/><stop offset=".906" stop-color="#e46400"/><stop offset=".938" stop-color="#f17100"/><stop offset=".969" stop-color="#e96900"/><stop offset="1" stop-color="#ea6a00"/></linearGradient>
<linearGradient id="c141" x1="0" y1="0" x2="0" y2="1"><stop offset="0" stop-color="#ef6f00"/><stop offset=".062" stop-color="#fc7d00"/><stop offset=".094" stop-color="#f97a00"/><stop offset=".125" stop-color="#ff8101"/><stop offset=".156" stop-color="#ff8101"/><stop offset=".188" stop-color="#e06000"/><stop offset=".219" stop-color="#b13200"/><stop offset=".25" stop-color="#b93900"/><stop offset=".281" stop-color="#e86900"/><stop offset=".312" stop-color="#f17200"/><stop offset=".344" stop-color="#e96900"/><stop offset=".375" stop-color="#f47400"/><stop offset=".406" stop-color="#ffa728"/><stop offset=".438" stop-color="#ffbb3b"/><stop offset=".469" stop-color="#ffa324"/><stop offset=".531" stop-color="#ff9b1b"/><stop offset=".562" stop-color="#f97900"/><stop offset=".656" stop-color="#d45400"/><stop offset=".688" stop-color="#b73800"/><stop offset=".719" stop-color="#a22200"/><stop offset=".781" stop-color="#b93a00"/><stop offset=".812" stop-color="#aa2a00"/><stop offset=".875" stop-color="#e96900"/><stop offset=".938" stop-color="#f97900"/><stop offset=".969" stop-color="#ef6f00"/><stop offset="1" stop-color="#f17100"/></linearGradient>
<linearGradient id="c142" x1="0" y1="0" x2="0" y2="1"><stop offset="0" stop-color="#e36400"/><stop offset=".062" stop-color="#ef6f00"/><stop offset=".094" stop-color="#ec6c00"/><stop offset=".156" stop-color="#f37300"/><stop offset=".188" stop-color="#d55500"/><stop offset=".219" stop-color="#a82800"/><stop offset=".25" stop-color="#b03100"/><stop offset=".281" stop-color="#e26200"/><stop offset=".312" stop-color="#e96a00"/><stop offset=".344" stop-color="#dd5d00"/><stop offset=".375" stop-color="#e56500"/><stop offset=".406" stop-color="#ff9819"/><stop offset=".438" stop-color="#ffab2c"/><stop offset=".469" stop-color="#ff9313"/><stop offset=".531" stop-color="#ff8c0d"/><stop offset=".562" stop-color="#ed6e00"/><stop offset=".656" stop-color="#ca4a00"/><stop offset=".688" stop-color="#ae2f00"/><stop offset=".719" stop-color="#9b1b00"/><stop offset=".781" stop-color="#b53500"/><stop offset=".812" stop-color="#a52500"/><stop offset=".875" stop-color="#de5e00"/><stop offset=".938" stop-color="#ec6c00"/><stop offset=".969" stop-color="#e26200"/><stop offset="1" stop-color="#e56500"/></linearGradient>
<linearGradient id="c143" x1="0" y1="0" x2="0" y2="1"><stop offset="0" stop-color="#ffaf2f"/><stop offset=".062" stop-color="#ffbb3c"/><stop offset=".094" stop-color="#ffb838"/><stop offset=".125" stop-color="#ffc142"/><stop offset=".156" stop-color="#ffc242"/><stop offset=".188" stop-color="#ff9c1d"/><stop offset=".219" stop-color="#df6000"/><stop offset=".25" stop-color="#ed6e00"/><stop offset=".281" stop-color="#ffb535"/><stop offset=".312" stop-color="#ffbe3e"/><stop offset=".344" stop-color="#ffa728"/><stop offset=".375" stop-color="#ffae2e"/><stop offset=".406" stop-color="#fff070"/><stop offset=".531" stop-color="#ffe666"/><stop offset=".562" stop-color="#ffbf40"/><stop offset=".656" stop-color="#ff8f10"/><stop offset=".688" stop-color="#e96900"/><stop offset=".719" stop-color="#d15100"/><stop offset=".75" stop-color="#e96a00"/><stop offset=".781" stop-color="#f87900"/><stop offset=".812" stop-color="#e26300"/><stop offset=".844" stop-color="#ff8304"/><stop offset=".875" stop-color="#ffac2c"/><stop offset=".938" stop-color="#ffbc3d"/><stop offset=".969" stop-color="#ffae2f"/><stop offset="1" stop-color="#ffb334"/></linearGradient>
<linearGradient id="c144" x1="0" y1="0" x2="0" y2="1"><stop offset="0" stop-color="#d75700"/><stop offset=".156" stop-color="#e36400"/><stop offset=".188" stop-color="#cb4b00"/><stop offset=".219" stop-color="#9f2000"/><stop offset=".25" stop-color="#ab2b00"/><stop offset=".281" stop-color="#e16200"/><stop offset=".312" stop-color="#e76800"/><stop offset=".344" stop-color="#d35400"/><stop offset=".375" stop-color="#d55600"/><stop offset=".406" stop-color="#ff8d0e"/><stop offset=".438" stop-color="#ff9e1e"/><stop offset=".469" stop-color="#ff8304"/><stop offset=".531" stop-color="#ff8000"/><stop offset=".562" stop-color="#e56600"/><stop offset=".656" stop-color="#c34300"/><stop offset=".688" stop-color="#a72800"/><stop offset=".719" stop-color="#981800"/><stop offset=".781" stop-color="#b73800"/><stop offset=".812" stop-color="#a72800"/><stop offset=".844" stop-color="#bc3c00"/><stop offset=".875" stop-color="#d95900"/><stop offset=".938" stop-color="#e36400"/><stop offset=".969" stop-color="#d95900"/><stop offset="1" stop-color="#dd5e00"/></linearGradient>
<linearGradient id="c145" x1="0" y1="0" x2="0" y2="1"><stop offset="0" stop-color="#da5a00"/><stop offset=".094" stop-color="#dc5d00"/><stop offset=".156" stop-color="#e66600"/><stop offset=".188" stop-color="#cf4f00"/><stop offset=".219" stop-color="#a22300"/><stop offset=".25" stop-color="#b03100"/><stop offset=".281" stop-color="#eb6b00"/><stop offset=".312" stop-color="#f07100"/><stop offset=".344" stop-color="#d85900"/><stop offset=".375" stop-color="#d95900"/><stop offset=".406" stop-color="#ff9515"/><stop offset=".438" stop-color="#ffa425"/><stop offset=".469" stop-color="#ff8808"/><stop offset=".531" stop-color="#ff8506"/><stop offset=".562" stop-color="#ec6d00"/><stop offset=".656" stop-color="#c84900"/><stop offset=".688" stop-color="#ab2c00"/><stop offset=".719" stop-color="#9d1e00"/><stop offset=".781" stop-color="#c14200"/><stop offset=".812" stop-color="#b23200"/><stop offset=".844" stop-color="#c44400"/><stop offset=".875" stop-color="#e16100"/><stop offset=".906" stop-color="#ea6a00"/><stop offset=".938" stop-color="#ea6a00"/><stop offset=".969" stop-color="#df6000"/><stop offset="1" stop-color="#e46400"/></linearGradient>
<linearGradient id="c146" x1="0" y1="0" x2="0" y2="1"><stop offset="0" stop-color="#d85900"/><stop offset=".094" stop-color="#d95900"/><stop offset=".156" stop-color="#e36300"/><stop offset=".188" stop-color="#ce4f00"/><stop offset=".219" stop-color="#a22300"/><stop offset=".25" stop-color="#b23200"/><stop offset=".281" stop-color="#ef6f00"/><stop offset=".312" stop-color="#f37400"/><stop offset=".344" stop-color="#d95900"/><stop offset=".375" stop-color="#d95900"/><stop offset=".406" stop-color="#ff9717"/><stop offset=".438" stop-color="#ffa525"/><stop offset=".469" stop-color="#ff8708"/><stop offset=".531" stop-color="#ff8506"/><stop offset=".562" stop-color="#ee6f00"/><stop offset=".625" stop-color="#da5b00"/><stop offset=".656" stop-color="#ca4a00"/><stop offset=".688" stop-color="#ac2c00"/><stop offset=".719" stop-color="#a02100"/><stop offset=".781" stop-color="#c84800"/><stop offset=".812" stop-color="#b93a00"/><stop offset=".844" stop-color="#c84900"/><stop offset=".875" stop-color="#e46500"/><stop offset=".906" stop-color="#ee6e00"/><stop offset=".938" stop-color="#ec6c00"/><stop offset=".969" stop-color="#e06000"/><stop offset="1" stop-color="#e46500"/></linearGradient>
<linearGradient id="c147" x1="0" y1="0" x2="0" y2="1"><stop offset="0" stop-color="#d05100"/><stop offset=".094" stop-color="#cf5000"/><stop offset=".156" stop-color="#d95a00"/><stop offset=".188" stop-color="#c74700"/><stop offset=".219" stop-color="#9d1e00"/><stop offset=".25" stop-color="#ad2e00"/><stop offset=".281" stop-color="#ea6a00"/><stop offset=".312" stop-color="#ed6e00"/><stop offset=".344" stop-color="#d25300"/><stop offset=".375" stop-color="#d35400"/><stop offset=".406" stop-color="#ff9010"/><stop offset=".438" stop-color="#ff9c1c"/><stop offset=".469" stop-color="#fe7f00"/><stop offset=".531" stop-color="#fb7c00"/><stop offset=".562" stop-color="#e76800"/><stop offset=".625" stop-color="#d65600"/><stop offset=".656" stop-color="#c44400"/><stop offset=".688" stop-color="#a62700"/><stop offset=".719" stop-color="#9e1e00"/><stop offset=".781" stop-color="#c84900"/><stop offset=".812" stop-color="#bb3c00"/><stop offset=".844" stop-color="#c64700"/><stop offset=".875" stop-color="#e06000"/><stop offset=".906" stop-color="#e96a00"/><stop offset=".938" stop-color="#e56600"/><stop offset=".969" stop-color="#d85900"/><stop offset="1" stop-color="#dc5c00"/></linearGradient>
<linearGradient id="c148" x1="0" y1="0" x2="0" y2="1"><stop offset="0" stop-color="#d25300"/><stop offset=".094" stop-color="#d15100"/><stop offset=".156" stop-color="#d95a00"/><stop offset=".188" stop-color="#c84800"/><stop offset=".219" stop-color="#9e1f00"/><stop offset=".25" stop-color="#b03100"/><stop offset=".281" stop-color="#ed6e00"/><stop offset=".312" stop-color="#ef6f00"/><stop offset=".344" stop-color="#d55600"/><stop offset=".375" stop-color="#d95a00"/><stop offset=".406" stop-color="#ff9415"/><stop offset=".438" stop-color="#ff9f20"/><stop offset=".469" stop-color="#ff8303"/><stop offset=".531" stop-color="#fc7d00"/><stop offset=".562" stop-color="#ea6b00"/><stop offset=".625" stop-color="#db5b00"/><stop offset=".656" stop-color="#c64700"/><stop offset=".688" stop-color="#a82800"/><stop offset=".719" stop-color="#a22300"/><stop offset=".781" stop-color="#d15200"/><stop offset=".812" stop-color="#c64600"/><stop offset=".844" stop-color="#cd4e00"/><stop offset=".875" stop-color="#e36400"/><stop offset=".906" stop-color="#ee6f00"/><stop offset=".938" stop-color="#e96900"/><stop offset=".969" stop-color="#d85800"/><stop offset="1" stop-color="#da5a00"/></linearGradient>
<linearGradient id="c149" x1="0" y1="0" x2="0" y2="1"><stop offset="0" stop-color="#c64600"/><stop offset=".094" stop-color="#c44400"/><stop offset=".156" stop-color="#ca4b00"/><stop offset=".188" stop-color="#b93a00"/><stop offset=".219" stop-color="#941500"/><stop offset=".25" stop-color="#a62600"/><stop offset=".281" stop-color="#df5f00"/><stop offset=".312" stop-color="#dd5e00"/><stop offset=".344" stop-color="#c84900"/><stop offset=".375" stop-color="#d15100"/><stop offset=".406" stop-color="#ff8404"/><stop offset=".438" stop-color="#ff8e0e"/><stop offset=".469" stop-color="#f47400"/><stop offset=".531" stop-color="#ea6b00"/><stop offset=".562" stop-color="#db5c00"/><stop offset=".625" stop-color="#cf5000"/><stop offset=".688" stop-color="#9d1d00"/><stop offset=".719" stop-color="#9a1b00"/><stop offset=".781" stop-color="#ca4b00"/><stop offset=".812" stop-color="#c24200"/><stop offset=".844" stop-color="#c54500"/><stop offset=".906" stop-color="#e16100"/><stop offset=".938" stop-color="#da5b00"/><stop offset=".969" stop-color="#c64600"/><stop offset="1" stop-color="#c54600"/></linearGradient>
<linearGradient id="c150" x1="0" y1="0" x2="0" y2="1"><stop offset="0" stop-color="#d25200"/><stop offset=".156" stop-color="#d45400"/><stop offset=".188" stop-color="#c14200"/><stop offset=".219" stop-color="#9c1c00"/><stop offset=".25" stop-color="#af2f00"/><stop offset=".281" stop-color="#e96a00"/><stop offset=".312" stop-color="#e46500"/><stop offset=".344" stop-color="#d35300"/><stop offset=".375" stop-color="#e26300"/><stop offset=".406" stop-color="#ff9313"/><stop offset=".438" stop-color="#ff9d1e"/><stop offset=".469" stop-color="#ff8404"/><stop offset=".531" stop-color="#f37400"/><stop offset=".562" stop-color="#e66600"/><stop offset=".625" stop-color="#dc5d00"/><stop offset=".688" stop-color="#a42400"/><stop offset=".719" stop-color="#a42500"/><stop offset=".781" stop-color="#db5c00"/><stop offset=".844" stop-color="#d35300"/><stop offset=".906" stop-color="#ed6e00"/><stop offset=".938" stop-color="#e56500"/><stop offset=".969" stop-color="#ca4b00"/><stop offset="1" stop-color="#c64700"/></linearGradient>
<linearGradient id="c151" x1="0" y1="0" x2="0" y2="1"><stop offset="0" stop-color="#a42500"/><stop offset=".156" stop-color="#a42500"/><stop offset=".188" stop-color="#951500"/><stop offset=".219" stop-color="#790000"/><stop offset=".25" stop-color="#880900"/><stop offset=".281" stop-color="#b53500"/><stop offset=".344" stop-color="#a42500"/><stop offset=".375" stop-color="#b63600"/><stop offset=".406" stop-color="#d65700"/><stop offset=".438" stop-color="#df5f00"/><stop offset=".469" stop-color="#cd4d00"/><stop offset=".562" stop-color="#b23300"/><stop offset=".625" stop-color="#ad2d00"/><stop offset=".688" stop-color="#7f0000"/><stop offset=".719" stop-color="#820200"/><stop offset=".781" stop-color="#b03000"/><stop offset=".844" stop-color="#a72700"/><stop offset=".875" stop-color="#ac2d00"/><stop offset=".906" stop-color="#b93a00"/><stop offset=".938" stop-color="#b23200"/><stop offset=".969" stop-color="#981800"/><stop offset="1" stop-color="#921300"/></linearGradient>
<linearGradient id="c152" x1="0" y1="0" x2="0" y2="1"><stop offset="0" stop-color="#901100"/><stop offset=".156" stop-color="#8e0f00"/><stop offset=".188" stop-color="#800100"/><stop offset=".219" stop-color="#6a0000"/><stop offset=".25" stop-color="#770000"/><stop offset=".281" stop-color="#9c1d00"/><stop offset=".344" stop-color="#8f0f00"/><stop offset=".406" stop-color="#bc3c00"/><stop offset=".438" stop-color="#c34400"/><stop offset=".531" stop-color="#a02100"/><stop offset=".625" stop-color="#971800"/><stop offset=".688" stop-color="#6e0000"/><stop offset=".719" stop-color="#720000"/><stop offset=".781" stop-color="#9d1e00"/><stop offset=".844" stop-color="#931300"/><stop offset=".875" stop-color="#941500"/><stop offset=".906" stop-color="#a12200"/><stop offset=".938" stop-color="#9a1a00"/><stop offset=".969" stop-color="#7f0000"/><stop offset="1" stop-color="#780000"/></linearGradient>
<linearGradient id="c153" x1="0" y1="0" x2="0" y2="1"><stop offset="0" stop-color="#941500"/><stop offset=".156" stop-color="#921200"/><stop offset=".188" stop-color="#830300"/><stop offset=".219" stop-color="#6d0000"/><stop offset=".25" stop-color="#7b0000"/><stop offset=".281" stop-color="#9f2000"/><stop offset=".312" stop-color="#951500"/><stop offset=".344" stop-color="#921200"/><stop offset=".406" stop-color="#c24300"/><stop offset=".438" stop-color="#ca4b00"/><stop offset=".531" stop-color="#a32300"/><stop offset=".625" stop-color="#9c1c00"/><stop offset=".688" stop-color="#700000"/><stop offset=".719" stop-color="#760000"/><stop offset=".781" stop-color="#a52500"/><stop offset=".812" stop-color="#a42400"/><stop offset=".844" stop-color="#971800"/><stop offset=".875" stop-color="#961700"/><stop offset=".906" stop-color="#a62700"/><stop offset=".938" stop-color="#9d1e00"/><stop offset=".969" stop-color="#7d0000"/><stop offset="1" stop-color="#750000"/></linearGradient>
<linearGradient id="c154" x1="0" y1="0" x2="0" y2="1"><stop offset="0" stop-color="#951600"/><stop offset=".156" stop-color="#921300"/><stop offset=".219" stop-color="#6f0000"/><stop offset=".25" stop-color="#7d0000"/><stop offset=".281" stop-color="#a02100"/><stop offset=".312" stop-color="#941400"/><stop offset=".344" stop-color="#921300"/><stop offset=".375" stop-color="#b03100"/><stop offset=".406" stop-color="#c74700"/><stop offset=".438" stop-color="#ce4f00"/><stop offset=".531" stop-color="#a32300"/><stop offset=".625" stop-color="#9e1e00"/><stop offset=".688" stop-color="#720000"/><stop offset=".719" stop-color="#780000"/><stop offset=".781" stop-color="#aa2a00"/><stop offset=".812" stop-color="#a82900"/><stop offset=".844" stop-color="#981900"/><stop offset=".875" stop-color="#951600"/><stop offset=".906" stop-color="#a82900"/><stop offset=".938" stop-color="#9e1e00"/><stop offset=".969" stop-color="#7a0000"/><stop offset="1" stop-color="#700000"/></linearGradient>
<linearGradient id="c155" x1="0" y1="0" x2="0" y2="1"><stop offset="0" stop-color="#971800"/><stop offset=".125" stop-color="#991900"/><stop offset=".156" stop-color="#951500"/><stop offset=".219" stop-color="#730000"/><stop offset=".25" stop-color="#810200"/><stop offset=".281" stop-color="#a42400"/><stop offset=".312" stop-color="#961600"/><stop offset=".344" stop-color="#941400"/><stop offset=".375" stop-color="#b63700"/><stop offset=".406" stop-color="#ce4e00"/><stop offset=".438" stop-color="#d65600"/><stop offset=".5" stop-color="#ba3a00"/><stop offset=".531" stop-color="#a52600"/><stop offset=".625" stop-color="#a12100"/><stop offset=".688" stop-color="#750000"/><stop offset=".719" stop-color="#7c0000"/><stop offset=".781" stop-color="#b03000"/><stop offset=".812" stop-color="#ae2e00"/><stop offset=".844" stop-color="#9a1b00"/><stop offset=".875" stop-color="#971700"/><stop offset=".906" stop-color="#ad2d00"/><stop offset=".938" stop-color="#a12100"/><stop offset=".969" stop-color="#790000"/><stop offset="1" stop-color="#6e0000"/></linearGradient>
<linearGradient id="c156" x1="0" y1="0" x2="0" y2="1"><stop offset="0" stop-color="#830400"/><stop offset=".156" stop-color="#820300"/><stop offset=".219" stop-color="#670000"/><stop offset=".25" stop-color="#730000"/><stop offset=".281" stop-color="#901100"/><stop offset=".312" stop-color="#830400"/><stop offset=".344" stop-color="#810100"/><stop offset=".375" stop-color="#a12200"/><stop offset=".406" stop-color="#b73800"/><stop offset=".438" stop-color="#be3f00"/><stop offset=".5" stop-color="#a52500"/><stop offset=".531" stop-color="#911100"/><stop offset=".562" stop-color="#8d0e00"/><stop offset=".594" stop-color="#931300"/><stop offset=".625" stop-color="#8d0e00"/><stop offset=".688" stop-color="#670000"/><stop offset=".719" stop-color="#6e0000"/><stop offset=".781" stop-color="#9d1d00"/><stop offset=".812" stop-color="#9a1b00"/><stop offset=".844" stop-color="#860600"/><stop offset=".875" stop-color="#830400"/><stop offset=".906" stop-color="#991900"/><stop offset=".938" stop-color="#8d0d00"/><stop offset=".969" stop-color="#680000"/><stop offset="1" stop-color="#5f0000"/></linearGradient>
<linearGradient id="c157" x1="0" y1="0" x2="0" y2="1"><stop offset="0" stop-color="#8e0f00"/><stop offset=".125" stop-color="#931300"/><stop offset=".156" stop-color="#8f1000"/><stop offset=".219" stop-color="#730000"/><stop offset=".25" stop-color="#810100"/><stop offset=".281" stop-color="#a12100"/><stop offset=".312" stop-color="#921200"/><stop offset=".344" stop-color="#8d0e00"/><stop offset=".375" stop-color="#b33300"/><stop offset=".406" stop-color="#ce4e00"/><stop offset=".438" stop-color="#d55500"/><stop offset=".5" stop-color="#b83900"/><stop offset=".531" stop-color="#a02100"/><stop offset=".562" stop-color="#9c1c00"/><stop offset=".594" stop-color="#a42400"/><stop offset=".625" stop-color="#9c1c00"/><stop offset=".656" stop-color="#840400"/><stop offset=".688" stop-color="#740000"/><stop offset=".719" stop-color="#7b0000"/><stop offset=".781" stop-color="#af3000"/><stop offset=".812" stop-color="#ab2c00"/><stop offset=".844" stop-color="#931300"/><stop offset=".875" stop-color="#901100"/><stop offset=".906" stop-color="#aa2b00"/><stop offset=".938" stop-color="#9b1b00"/><stop offset=".969" stop-color="#700000"/><stop offset="1" stop-color="#670000"/></linearGradient>
<linearGradient id="c158" x1="0" y1="0" x2="0" y2="1"><stop offset="0" stop-color="#8f0f00"/><stop offset=".156" stop-color="#931300"/><stop offset=".219" stop-color="#780000"/><stop offset=".25" stop-color="#860600"/><stop offset=".281" stop-color="#a62700"/><stop offset=".312" stop-color="#971700"/><stop offset=".344" stop-color="#901100"/><stop offset=".375" stop-color="#b83900"/><stop offset=".406" stop-color="#d65700"/><stop offset=".438" stop-color="#dd5d00"/><stop offset=".5" stop-color="#bf4000"/><stop offset=".531" stop-color="#a52500"/><stop offset=".562" stop-color="#a02000"/><stop offset=".594" stop-color="#a92a00"/><stop offset=".625" stop-color="#a02000"/><stop offset=".656" stop-color="#870800"/><stop offset=".688" stop-color="#780000"/><stop offset=".719" stop-color="#800100"/><stop offset=".781" stop-color="#b63700"/><stop offset=".812" stop-color="#b23200"/><stop offset=".844" stop-color="#971800"/><stop offset=".875" stop-color="#951500"/><stop offset=".906" stop-color="#b03100"/><stop offset=".938" stop-color="#9e1f00"/><stop offset=".969" stop-color="#710000"/><stop offset="1" stop-color="#690000"/></linearGradient>
<linearGradient id="c159" x1="0" y1="0" x2="0" y2="1"><stop offset="0" stop-color="#8c0d00"/><stop offset=".156" stop-color="#931400"/><stop offset=".219" stop-color="#7a0000"/><stop offset=".25" stop-color="#880900"/><stop offset=".281" stop-color="#a92900"/><stop offset=".312" stop-color="#991900"/><stop offset=".344" stop-color="#911200"/><stop offset=".375" stop-color="#ba3a00"/><stop offset=".406" stop-color="#d95a00"/><stop offset=".438" stop-color="#e06000"/><stop offset=".5" stop-color="#c34300"/><stop offset=".531" stop-color="#a62700"/><stop offset=".562" stop-color="#a12100"/><stop offset=".594" stop-color="#ab2c00"/><stop offset=".625" stop-color="#a12100"/><stop offset=".656" stop-color="#880900"/><stop offset=".688" stop-color="#7b0000"/><stop offset=".719" stop-color="#840400"/><stop offset=".781" stop-color="#ba3b00"/><stop offset=".812" stop-color="#b53600"/><stop offset=".844" stop-color="#9a1a00"/><stop offset=".875" stop-color="#981800"/><stop offset=".906" stop-color="#b33400"/><stop offset=".938" stop-color="#9e1f00"/><stop offset=".969" stop-color="#700000"/><stop offset="1" stop-color="#690000"/></linearGradient>
<linearGradient id="c160" x1="0" y1="0" x2="0" y2="1"><stop offset="0" stop-color="#810100"/><stop offset=".156" stop-color="#8b0c00"/><stop offset=".219" stop-color="#740000"/><stop offset=".25" stop-color="#810200"/><stop offset=".281" stop-color="#a12200"/><stop offset=".344" stop-color="#8a0a00"/><stop offset=".375" stop-color="#b03100"/><stop offset=".406" stop-color="#ce4f00"/><stop offset=".438" stop-color="#d35400"/><stop offset=".5" stop-color="#b93a00"/><stop offset=".531" stop-color="#9d1e00"/><stop offset=".562" stop-color="#971800"/><stop offset=".594" stop-color="#a22200"/><stop offset=".625" stop-color="#981800"/><stop offset=".656" stop-color="#810100"/><stop offset=".688" stop-color="#750000"/><stop offset=".719" stop-color="#800100"/><stop offset=".781" stop-color="#b33400"/><stop offset=".812" stop-color="#af3000"/><stop offset=".844" stop-color="#951600"/><stop offset=".875" stop-color="#931300"/><stop offset=".906" stop-color="#ab2c00"/><stop offset=".938" stop-color="#941500"/><stop offset=".969" stop-color="#680000"/><stop offset="1" stop-color="#630000"/></linearGradient>
<linearGradient id="c161" x1="0" y1="0" x2="0" y2="1"><stop offset="0" stop-color="#870700"/><stop offset=".156" stop-color="#961700"/><stop offset=".188" stop-color="#8e0e00"/><stop offset=".219" stop-color="#7d0000"/><stop offset=".25" stop-color="#8c0d00"/><stop offset=".281" stop-color="#b03000"/><stop offset=".312" stop-color="#9f2000"/><stop offset=".344" stop-color="#961700"/><stop offset=".375" stop-color="#c04000"/><stop offset=".406" stop-color="#df6000"/><stop offset=".438" stop-color="#e36400"/><stop offset=".5" stop-color="#c94a00"/><stop offset=".531" stop-color="#aa2b00"/><stop offset=".562" stop-color="#a32300"/><stop offset=".594" stop-color="#ae2f00"/><stop offset=".625" stop-color="#a42500"/><stop offset=".656" stop-color="#8b0c00"/><stop offset=".688" stop-color="#800100"/><stop offset=".719" stop-color="#901000"/><stop offset=".75" stop-color="#ae2f00"/><stop offset=".781" stop-color="#c64600"/><stop offset=".812" stop-color="#c24200"/><stop offset=".844" stop-color="#a82800"/><stop offset=".875" stop-color="#a32400"/><stop offset=".906" stop-color="#bb3c00"/><stop offset=".938" stop-color="#9e1f00"/><stop offset=".969" stop-color="#6e0000"/><stop offset="1" stop-color="#6a0000"/></linearGradient>
<linearGradient id="c162" x1="0" y1="0" x2="0" y2="1"><stop offset="0" stop-color="#8e0e00"/><stop offset=".062" stop-color="#921300"/><stop offset=".125" stop-color="#a32300"/><stop offset=".156" stop-color="#a32300"/><stop offset=".188" stop-color="#9a1b00"/><stop offset=".219" stop-color="#880800"/><stop offset=".25" stop-color="#981900"/><stop offset=".281" stop-color="#c04000"/><stop offset=".312" stop-color="#ae2f00"/><stop offset=".344" stop-color="#a52600"/><stop offset=".375" stop-color="#d25200"/><stop offset=".406" stop-color="#f17200"/><stop offset=".438" stop-color="#f47500"/><stop offset=".469" stop-color="#eb6c00"/><stop offset=".5" stop-color="#db5b00"/><stop offset=".531" stop-color="#b83900"/><stop offset=".562" stop-color="#b03000"/><stop offset=".594" stop-color="#bb3c00"/><stop offset=".625" stop-color="#b23300"/><stop offset=".656" stop-color="#971700"/><stop offset=".688" stop-color="#8c0d00"/><stop offset=".719" stop-color="#a12200"/><stop offset=".75" stop-color="#c34400"/><stop offset=".781" stop-color="#da5b00"/><stop offset=".812" stop-color="#d85800"/><stop offset=".844" stop-color="#bd3e00"/><stop offset=".875" stop-color="#b73700"/><stop offset=".906" stop-color="#cd4d00"/><stop offset=".938" stop-color="#aa2a00"/><stop offset=".969" stop-color="#750000"/><stop offset="1" stop-color="#730000"/></linearGradient>
<linearGradient id="c163" x1="0" y1="0" x2="0" y2="1"><stop offset="0" stop-color="#7b0000"/><stop offset=".062" stop-color="#810100"/><stop offset=".125" stop-color="#921200"/><stop offset=".156" stop-color="#921300"/><stop offset=".188" stop-color="#8a0b00"/><stop offset=".219" stop-color="#790000"/><stop offset=".25" stop-color="#880900"/><stop offset=".281" stop-color="#ad2e00"/><stop offset=".312" stop-color="#9d1e00"/><stop offset=".344" stop-color="#961700"/><stop offset=".375" stop-color="#be3e00"/><stop offset=".406" stop-color="#d85800"/><stop offset=".438" stop-color="#d95900"/><stop offset=".469" stop-color="#d25300"/><stop offset=".5" stop-color="#c44500"/><stop offset=".531" stop-color="#a52600"/><stop offset=".562" stop-color="#9d1d00"/><stop offset=".594" stop-color="#a62700"/><stop offset=".625" stop-color="#a02000"/><stop offset=".656" stop-color="#870800"/><stop offset=".688" stop-color="#7f0000"/><stop offset=".719" stop-color="#961700"/><stop offset=".75" stop-color="#b53600"/><stop offset=".781" stop-color="#c84800"/><stop offset=".812" stop-color="#c74700"/><stop offset=".844" stop-color="#b13200"/><stop offset=".875" stop-color="#aa2a00"/><stop offset=".906" stop-color="#b93900"/><stop offset=".938" stop-color="#961600"/><stop offset=".969" stop-color="#670000"/><stop offset="1" stop-color="#660000"/></linearGradient>
<linearGradient id="c164" x1="0" y1="0" x2="0" y2="1"><stop offset="0" stop-color="#850500"/><stop offset=".062" stop-color="#8c0d00"/><stop offset=".125" stop-color="#a12200"/><stop offset=".156" stop-color="#a22200"/><stop offset=".188" stop-color="#991a00"/><stop offset=".219" stop-color="#860600"/><stop offset=".25" stop-color="#971800"/><stop offset=".281" stop-color="#c14200"/><stop offset=".312" stop-color="#af2f00"/><stop offset=".344" stop-color="#a92900"/><stop offset=".375" stop-color="#d45500"/><stop offset=".406" stop-color="#ee6e00"/><stop offset=".469" stop-color="#e86800"/><stop offset=".5" stop-color="#d95a00"/><stop offset=".531" stop-color="#b63700"/><stop offset=".562" stop-color="#ac2d00"/><stop offset=".594" stop-color="#b63600"/><stop offset=".625" stop-color="#b13200"/><stop offset=".656" stop-color="#961600"/><stop offset=".688" stop-color="#8f0f00"/><stop offset=".75" stop-color="#cf4f00"/><stop offset=".781" stop-color="#e16100"/><stop offset=".812" stop-color="#e26200"/><stop offset=".844" stop-color="#cc4d00"/><stop offset=".875" stop-color="#c24200"/><stop offset=".906" stop-color="#cd4e00"/><stop offset=".938" stop-color="#a42400"/><stop offset=".969" stop-color="#700000"/><stop offset="1" stop-color="#710000"/></linearGradient>
<linearGradient id="c165" x1="0" y1="0" x2="0" y2="1"><stop offset="0" stop-color="#870800"/><stop offset=".062" stop-color="#901000"/><stop offset=".125" stop-color="#a82800"/><stop offset=".156" stop-color="#a82900"/><stop offset=".188" stop-color="#a02000"/><stop offset=".219" stop-color="#8c0c00"/><stop offset=".25" stop-color="#9e1e00"/><stop offset=".281" stop-color="#ca4b00"/><stop offset=".312" stop-color="#b73800"/><stop offset=".344" stop-color="#b33300"/><stop offset=".375" stop-color="#df5f00"/><stop offset=".406" stop-color="#f77700"/><stop offset=".469" stop-color="#f17100"/><stop offset=".5" stop-color="#e16200"/><stop offset=".531" stop-color="#bd3d00"/><stop offset=".562" stop-color="#b23300"/><stop offset=".594" stop-color="#bb3c00"/><stop offset=".625" stop-color="#b93900"/><stop offset=".656" stop-color="#9c1d00"/><stop offset=".688" stop-color="#971800"/><stop offset=".75" stop-color="#de5e00"/><stop offset=".781" stop-color="#ee6f00"/><stop offset=".812" stop-color="#f07100"/><stop offset=".844" stop-color="#dc5c00"/><stop offset=".875" stop-color="#cf5000"/><stop offset=".906" stop-color="#d75700"/><stop offset=".938" stop-color="#a92900"/><stop offset=".969" stop-color="#740000"/><stop offset="1" stop-color="#760000"/></linearGradient>
<linearGradient id="c166" x1="0" y1="0" x2="0" y2="1"><stop offset="0" stop-color="#7d0000"/><stop offset=".062" stop-color="#850600"/><stop offset=".125" stop-color="#9e1f00"/><stop offset=".156" stop-color="#9e1f00"/><stop offset=".188" stop-color="#961600"/><stop offset=".219" stop-color="#840400"/><stop offset=".25" stop-color="#951600"/><stop offset=".281" stop-color="#bf3f00"/><stop offset=".312" stop-color="#ad2d00"/><stop offset=".344" stop-color="#aa2b00"/><stop offset=".375" stop-color="#d45400"/><stop offset=".406" stop-color="#e76800"/><stop offset=".469" stop-color="#e16200"/><stop offset=".5" stop-color="#d25300"/><stop offset=".531" stop-color="#b13100"/><stop offset=".562" stop-color="#a62700"/><stop offset=".594" stop-color="#ae2f00"/><stop offset=".625" stop-color="#ae2e00"/><stop offset=".656" stop-color="#941400"/><stop offset=".688" stop-color="#911200"/><stop offset=".75" stop-color="#d65600"/><stop offset=".781" stop-color="#e36400"/><stop offset=".812" stop-color="#e56600"/><stop offset=".875" stop-color="#c74800"/><stop offset=".906" stop-color="#c94a00"/><stop offset=".969" stop-color="#6b0000"/><stop offset="1" stop-color="#6e0000"/></linearGradient>
<linearGradient id="c167" x1="0" y1="0" x2="0" y2="1"><stop offset="0" stop-color="#820300"/><stop offset=".062" stop-color="#8c0c00"/><stop offset=".125" stop-color="#a82800"/><stop offset=".188" stop-color="#9e1e00"/><stop offset=".219" stop-color="#8c0d00"/><stop offset=".25" stop-color="#9f1f00"/><stop offset=".281" stop-color="#ca4b00"/><stop offset=".312" stop-color="#b73700"/><stop offset=".344" stop-color="#b73700"/><stop offset=".375" stop-color="#e26200"/><stop offset=".406" stop-color="#f47500"/><stop offset=".469" stop-color="#ed6d00"/><stop offset=".5" stop-color="#dc5d00"/><stop offset=".531" stop-color="#b93900"/><stop offset=".562" stop-color="#af2f00"/><stop offset=".625" stop-color="#b73800"/><stop offset=".656" stop-color="#9d1e00"/><stop offset=".688" stop-color="#9d1e00"/><stop offset=".719" stop-color="#c74800"/><stop offset=".75" stop-color="#e76800"/><stop offset=".781" stop-color="#f37300"/><stop offset=".812" stop-color="#f67600"/><stop offset=".875" stop-color="#d65700"/><stop offset=".906" stop-color="#d45500"/><stop offset=".969" stop-color="#710000"/><stop offset="1" stop-color="#740000"/></linearGradient>
<linearGradient id="c168" x1="0" y1="0" x2="0" y2="1"><stop offset="0" stop-color="#780000"/><stop offset=".062" stop-color="#810200"/><stop offset=".125" stop-color="#9d1e00"/><stop offset=".188" stop-color="#931400"/><stop offset=".219" stop-color="#840400"/><stop offset=".25" stop-color="#961600"/><stop offset=".281" stop-color="#bd3e00"/><stop offset=".312" stop-color="#aa2b00"/><stop offset=".344" stop-color="#ad2d00"/><stop offset=".375" stop-color="#d55500"/><stop offset=".406" stop-color="#e46500"/><stop offset=".469" stop-color="#dc5d00"/><stop offset=".5" stop-color="#cc4c00"/><stop offset=".531" stop-color="#ab2b00"/><stop offset=".562" stop-color="#a22200"/><stop offset=".625" stop-color="#ab2c00"/><stop offset=".656" stop-color="#941500"/><stop offset=".688" stop-color="#971700"/><stop offset=".719" stop-color="#c14200"/><stop offset=".75" stop-color="#dd5e00"/><stop offset=".812" stop-color="#e86900"/><stop offset=".875" stop-color="#cb4c00"/><stop offset=".906" stop-color="#c54500"/><stop offset=".969" stop-color="#680000"/><stop offset="1" stop-color="#6c0000"/></linearGradient>
<linearGradient id="c169" x1="0" y1="0" x2="0" y2="1"><stop offset="0" stop-color="#780000"/><stop offset=".062" stop-color="#810100"/><stop offset=".125" stop-color="#9e1f00"/><stop offset=".188" stop-color="#931400"/><stop offset=".219" stop-color="#860600"/><stop offset=".25" stop-color="#971800"/><stop offset=".281" stop-color="#be3f00"/><stop offset=".312" stop-color="#ab2b00"/><stop offset=".344" stop-color="#af3000"/><stop offset=".375" stop-color="#d85800"/><stop offset=".406" stop-color="#e56600"/><stop offset=".469" stop-color="#dc5d00"/><stop offset=".5" stop-color="#cb4b00"/><stop offset=".531" stop-color="#aa2a00"/><stop offset=".562" stop-color="#a22200"/><stop offset=".625" stop-color="#ac2c00"/><stop offset=".656" stop-color="#961700"/><stop offset=".688" stop-color="#9c1d00"/><stop offset=".719" stop-color="#ca4b00"/><stop offset=".75" stop-color="#e46400"/><stop offset=".812" stop-color="#ed6e00"/><stop offset=".906" stop-color="#c44500"/><stop offset=".969" stop-color="#680000"/><stop offset="1" stop-color="#6b0000"/></linearGradient>
<linearGradient id="c170" x1="0" y1="0" x2="0" y2="1"><stop offset="0" stop-color="#760000"/><stop offset=".062" stop-color="#7f0000"/><stop offset=".125" stop-color="#9d1d00"/><stop offset=".188" stop-color="#921200"/><stop offset=".219" stop-color="#850600"/><stop offset=".25" stop-color="#971700"/><stop offset=".281" stop-color="#bc3d00"/><stop offset=".312" stop-color="#a82900"/><stop offset=".344" stop-color="#af3000"/><stop offset=".375" stop-color="#d85800"/><stop offset=".406" stop-color="#e36400"/><stop offset=".469" stop-color="#da5b00"/><stop offset=".5" stop-color="#c74700"/><stop offset=".531" stop-color="#a62600"/><stop offset=".562" stop-color="#a02000"/><stop offset=".625" stop-color="#aa2a00"/><stop offset=".656" stop-color="#961600"/><stop offset=".688" stop-color="#a02000"/><stop offset=".719" stop-color="#d15200"/><stop offset=".75" stop-color="#e86800"/><stop offset=".812" stop-color="#ef7000"/><stop offset=".906" stop-color="#c14200"/><stop offset=".969" stop-color="#660000"/><stop offset="1" stop-color="#690000"/></linearGradient>
<linearGradient id="c171" x1="0" y1="0" x2="0" y2="1"><stop offset="0" stop-color="#790000"/><stop offset=".062" stop-color="#820200"/><stop offset=".125" stop-color="#a12100"/><stop offset=".188" stop-color="#961600"/><stop offset=".219" stop-color="#890a00"/><stop offset=".25" stop-color="#9b1c00"/><stop offset=".281" stop-color="#c14200"/><stop offset=".312" stop-color="#ac2c00"/><stop offset=".344" stop-color="#b53600"/><stop offset=".375" stop-color="#e16100"/><stop offset=".406" stop-color="#ea6b00"/><stop offset=".469" stop-color="#e16100"/><stop offset=".5" stop-color="#cc4c00"/><stop offset=".531" stop-color="#a82800"/><stop offset=".562" stop-color="#a42500"/><stop offset=".625" stop-color="#ae2f00"/><stop offset=".656" stop-color="#9b1c00"/><stop offset=".688" stop-color="#aa2b00"/><stop offset=".719" stop-color="#e26200"/><stop offset=".75" stop-color="#f67700"/><stop offset=".812" stop-color="#fd7e00"/><stop offset=".906" stop-color="#c54600"/><stop offset=".969" stop-color="#680000"/><stop offset="1" stop-color="#690000"/></linearGradient>
<linearGradient id="c172" x1="0" y1="0" x2="0" y2="1"><stop offset="0" stop-color="#760000"/><stop offset=".062" stop-color="#7e0000"/><stop offset=".125" stop-color="#9c1c00"/><stop offset=".188" stop-color="#921200"/><stop offset=".219" stop-color="#850600"/><stop offset=".25" stop-color="#971700"/><stop offset=".281" stop-color="#bc3c00"/><stop offset=".312" stop-color="#a62600"/><stop offset=".344" stop-color="#b13200"/><stop offset=".375" stop-color="#de5e00"/><stop offset=".406" stop-color="#e56500"/><stop offset=".438" stop-color="#dd5d00"/><stop offset=".469" stop-color="#dd5d00"/><stop offset=".5" stop-color="#c64700"/><stop offset=".531" stop-color="#a12100"/><stop offset=".625" stop-color="#aa2a00"/><stop offset=".656" stop-color="#981900"/><stop offset=".688" stop-color="#ac2d00"/><stop offset=".719" stop-color="#e86900"/><stop offset=".75" stop-color="#f97900"/><stop offset=".812" stop-color="#ff8001"/><stop offset=".906" stop-color="#bf4000"/><stop offset=".938" stop-color="#8d0d00"/><stop offset=".969" stop-color="#640000"/><stop offset="1" stop-color="#630000"/></linearGradient>
<linearGradient id="c173" x1="0" y1="0" x2="0" y2="1"><stop offset="0" stop-color="#790000"/><stop offset=".062" stop-color="#810100"/><stop offset=".125" stop-color="#9e1e00"/><stop offset=".188" stop-color="#961700"/><stop offset=".219" stop-color="#880900"/><stop offset=".25" stop-color="#991a00"/><stop offset=".281" stop-color="#c04000"/><stop offset=".312" stop-color="#a82900"/><stop offset=".344" stop-color="#b63700"/><stop offset=".375" stop-color="#e76800"/><stop offset=".406" stop-color="#eb6c00"/><stop offset=".438" stop-color="#e26200"/><stop offset=".469" stop-color="#e56500"/><stop offset=".5" stop-color="#cc4c00"/><stop offset=".531" stop-color="#a22300"/><stop offset=".625" stop-color="#ae2f00"/><stop offset=".656" stop-color="#9d1e00"/><stop offset=".688" stop-color="#b83800"/><stop offset=".719" stop-color="#fc7c00"/><stop offset=".75" stop-color="#ff8a0b"/><stop offset=".812" stop-color="#ff9213"/><stop offset=".906" stop-color="#c34400"/><stop offset=".938" stop-color="#8d0d00"/><stop offset=".969" stop-color="#650000"/><stop offset="1" stop-color="#620000"/></linearGradient>
<linearGradient id="c174" x1="0" y1="0" x2="0" y2="1"><stop offset="0" stop-color="#6e0000"/><stop offset=".062" stop-color="#750000"/><stop offset=".125" stop-color="#8e0f00"/><stop offset=".188" stop-color="#8a0a00"/><stop offset=".219" stop-color="#7b0000"/><stop offset=".25" stop-color="#8a0b00"/><stop offset=".281" stop-color="#ae2f00"/><stop offset=".312" stop-color="#981800"/><stop offset=".344" stop-color="#a62700"/><stop offset=".375" stop-color="#d65700"/><stop offset=".406" stop-color="#d75800"/><stop offset=".438" stop-color="#cd4e00"/><stop offset=".469" stop-color="#d35400"/><stop offset=".5" stop-color="#bb3c00"/><stop offset=".531" stop-color="#921300"/><stop offset=".625" stop-color="#9f2000"/><stop offset=".656" stop-color="#901100"/><stop offset=".688" stop-color="#af2f00"/><stop offset=".719" stop-color="#f37300"/><stop offset=".812" stop-color="#ff8607"/><stop offset=".875" stop-color="#cf5000"/><stop offset=".906" stop-color="#b13200"/><stop offset=".938" stop-color="#7d0000"/><stop offset=".969" stop-color="#5b0000"/><stop offset="1" stop-color="#560000"/></linearGradient>
<linearGradient id="c175" x1="0" y1="0" x2="0" y2="1"><stop offset="0" stop-color="#700000"/><stop offset=".062" stop-color="#780000"/><stop offset=".125" stop-color="#8f1000"/><stop offset=".188" stop-color="#8d0e00"/><stop offset=".219" stop-color="#7d0000"/><stop offset=".25" stop-color="#8c0c00"/><stop offset=".281" stop-color="#b13100"/><stop offset=".312" stop-color="#991900"/><stop offset=".344" stop-color="#aa2a00"/><stop offset=".375" stop-color="#dd5e00"/><stop offset=".406" stop-color="#db5c00"/><stop offset=".438" stop-color="#d15100"/><stop offset=".469" stop-color="#da5b00"/><stop offset=".5" stop-color="#c04100"/><stop offset=".531" stop-color="#931400"/><stop offset=".562" stop-color="#9e1f00"/><stop offset=".625" stop-color="#a32400"/><stop offset=".656" stop-color="#951500"/><stop offset=".688" stop-color="#ba3a00"/><stop offset=".719" stop-color="#ff8506"/><stop offset=".75" stop-color="#ff8d0d"/><stop offset=".781" stop-color="#ff8c0d"/><stop offset=".812" stop-color="#ff9718"/><stop offset=".844" stop-color="#fb7c00"/><stop offset=".906" stop-color="#b33400"/><stop offset=".938" stop-color="#7c0000"/><stop offset=".969" stop-color="#5c0000"/><stop offset="1" stop-color="#550000"/></linearGradient>
<linearGradient id="c176" x1="0" y1="0" x2="0" y2="1"><stop offset="0" stop-color="#730000"/><stop offset=".062" stop-color="#7c0000"/><stop offset=".125" stop-color="#921300"/><stop offset=".156" stop-color="#971700"/><stop offset=".188" stop-color="#931300"/><stop offset=".219" stop-color="#810200"/><stop offset=".25" stop-color="#901000"/><stop offset=".281" stop-color="#b53500"/><stop offset=".312" stop-color="#9c1d00"/><stop offset=".344" stop-color="#af3000"/><stop offset=".375" stop-color="#e76700"/><stop offset=".438" stop-color="#d75800"/><stop offset=".469" stop-color="#e46400"/><stop offset=".5" stop-color="#c84800"/><stop offset=".531" stop-color="#971700"/><stop offset=".562" stop-color="#a52600"/><stop offset=".625" stop-color="#aa2a00"/><stop offset=".656" stop-color="#9c1d00"/><stop offset=".688" stop-color="#c84800"/><stop offset=".719" stop-color="#ff9b1b"/><stop offset=".781" stop-color="#ff9e1f"/><stop offset=".812" stop-color="#ffac2c"/><stop offset=".844" stop-color="#ff8d0e"/><stop offset=".906" stop-color="#b63600"/><stop offset=".938" stop-color="#7c0000"/><stop offset=".969" stop-color="#5f0000"/><stop offset="1" stop-color="#580000"/></linearGradient>
<linearGradient id="c177" x1="0" y1="0" x2="0" y2="1"><stop offset="0" stop-color="#710000"/><stop offset=".062" stop-color="#790000"/><stop offset=".156" stop-color="#941500"/><stop offset=".188" stop-color="#901100"/><stop offset=".219" stop-color="#800000"/><stop offset=".25" stop-color="#8e0e00"/><stop offset=".281" stop-color="#af3000"/><stop offset=".312" stop-color="#981800"/><stop offset=".344" stop-color="#ac2d00"/><stop offset=".375" stop-color="#e36300"/><stop offset=".438" stop-color="#d25300"/><stop offset=".469" stop-color="#e16100"/><stop offset=".5" stop-color="#c44500"/><stop offset=".531" stop-color="#941400"/><stop offset=".562" stop-color="#a32300"/><stop offset=".625" stop-color="#a82900"/><stop offset=".656" stop-color="#9c1d00"/><stop offset=".688" stop-color="#cc4c00"/><stop offset=".719" stop-color="#ffa020"/><stop offset=".781" stop-color="#ff9f20"/><stop offset=".812" stop-color="#ffae2e"/><stop offset=".844" stop-color="#ff8f10"/><stop offset=".906" stop-color="#ad2e00"/><stop offset=".938" stop-color="#760000"/><stop offset=".969" stop-color="#600000"/><stop offset="1" stop-color="#5a0000"/></linearGradient>
<linearGradient id="c178" x1="0" y1="0" x2="0" y2="1"><stop offset="0" stop-color="#680000"/><stop offset=".062" stop-color="#710000"/><stop offset=".156" stop-color="#8a0a00"/><stop offset=".188" stop-color="#860700"/><stop offset=".219" stop-color="#790000"/><stop offset=".25" stop-color="#860600"/><stop offset=".281" stop-color="#a12100"/><stop offset=".312" stop-color="#8c0d00"/><stop offset=".344" stop-color="#a12100"/><stop offset=".375" stop-color="#d25200"/><stop offset=".438" stop-color="#c34400"/><stop offset=".469" stop-color="#d05100"/><stop offset=".5" stop-color="#b63600"/><stop offset=".531" stop-color="#8a0a00"/><stop offset=".562" stop-color="#971800"/><stop offset=".625" stop-color="#9e1e00"/><stop offset=".656" stop-color="#961600"/><stop offset=".688" stop-color="#c44500"/><stop offset=".719" stop-color="#ff9213"/><stop offset=".781" stop-color="#ff8e0f"/><stop offset=".812" stop-color="#ff9b1c"/><stop offset=".844" stop-color="#ff8102"/><stop offset=".938" stop-color="#6b0000"/><stop offset=".969" stop-color="#5d0000"/><stop offset="1" stop-color="#5b0000"/></linearGradient>
<linearGradient id="c179" x1="0" y1="0" x2="0" y2="1"><stop offset="0" stop-color="#710000"/><stop offset=".062" stop-color="#7c0000"/><stop offset=".156" stop-color="#971700"/><stop offset=".219" stop-color="#880900"/><stop offset=".25" stop-color="#961700"/><stop offset=".281" stop-color="#ad2d00"/><stop offset=".312" stop-color="#991a00"/><stop offset=".344" stop-color="#b23200"/><stop offset=".375" stop-color="#e36300"/><stop offset=".438" stop-color="#d55600"/><stop offset=".469" stop-color="#e26300"/><stop offset=".5" stop-color="#c54500"/><stop offset=".531" stop-color="#991900"/><stop offset=".562" stop-color="#a52500"/><stop offset=".625" stop-color="#af3000"/><stop offset=".656" stop-color="#aa2a00"/><stop offset=".688" stop-color="#de5e00"/><stop offset=".719" stop-color="#ffb131"/><stop offset=".781" stop-color="#ffa828"/><stop offset=".812" stop-color="#ffb535"/><stop offset=".844" stop-color="#ff9d1d"/><stop offset=".906" stop-color="#9f1f00"/><stop offset=".938" stop-color="#720000"/><stop offset=".969" stop-color="#6d0000"/><stop offset="1" stop-color="#700000"/></linearGradient>
<linearGradient id="c180" x1="0" y1="0" x2="0" y2="1"><stop offset="0" stop-color="#6d0000"/><stop offset=".062" stop-color="#780000"/><stop offset=".125" stop-color="#8d0e00"/><stop offset=".156" stop-color="#921300"/><stop offset=".219" stop-color="#890900"/><stop offset=".281" stop-color="#a52500"/><stop offset=".312" stop-color="#951500"/><stop offset=".344" stop-color="#ae2e00"/><stop offset=".375" stop-color="#d85900"/><stop offset=".438" stop-color="#ce4f00"/><stop offset=".469" stop-color="#d85900"/><stop offset=".5" stop-color="#bc3d00"/><stop offset=".531" stop-color="#961700"/><stop offset=".625" stop-color="#ad2d00"/><stop offset=".656" stop-color="#ab2b00"/><stop offset=".688" stop-color="#dd5e00"/><stop offset=".719" stop-color="#ffa92a"/><stop offset=".75" stop-color="#ffa627"/><stop offset=".781" stop-color="#ff9c1d"/><stop offset=".812" stop-color="#ffa728"/><stop offset=".844" stop-color="#ff9616"/><stop offset=".906" stop-color="#901100"/><stop offset=".938" stop-color="#6c0000"/><stop offset="1" stop-color="#7a0000"/></linearGradient>
<linearGradient id="c181" x1="0" y1="0" x2="0" y2="1"><stop offset="0" stop-color="#720000"/><stop offset=".031" stop-color="#740000"/><stop offset=".125" stop-color="#961700"/><stop offset=".156" stop-color="#9a1a00"/><stop offset=".219" stop-color="#951500"/><stop offset=".281" stop-color="#aa2b00"/><stop offset=".312" stop-color="#9d1d00"/><stop offset=".344" stop-color="#b83900"/><stop offset=".375" stop-color="#df6000"/><stop offset=".406" stop-color="#d85800"/><stop offset=".469" stop-color="#e06100"/><stop offset=".531" stop-color="#a02100"/><stop offset=".594" stop-color="#ab2b00"/><stop offset=".625" stop-color="#b83900"/><stop offset=".656" stop-color="#bb3b00"/><stop offset=".688" stop-color="#ef7000"/><stop offset=".719" stop-color="#ffb93a"/><stop offset=".75" stop-color="#ffb536"/><stop offset=".781" stop-color="#ffa828"/><stop offset=".812" stop-color="#ffb031"/><stop offset=".844" stop-color="#ffa425"/><stop offset=".906" stop-color="#8d0e00"/><stop offset=".938" stop-color="#6f0000"/><stop offset="1" stop-color="#8f1000"/></linearGradient>
<linearGradient id="c182" x1="0" y1="0" x2="0" y2="1"><stop offset="0" stop-color="#720000"/><stop offset=".031" stop-color="#760000"/><stop offset=".125" stop-color="#9a1a00"/><stop offset=".156" stop-color="#9c1c00"/><stop offset=".188" stop-color="#961700"/><stop offset=".219" stop-color="#9b1c00"/><stop offset=".25" stop-color="#aa2a00"/><stop offset=".281" stop-color="#aa2a00"/><stop offset=".312" stop-color="#a02000"/><stop offset=".375" stop-color="#de5f00"/><stop offset=".406" stop-color="#d75700"/><stop offset=".469" stop-color="#df6000"/><stop offset=".531" stop-color="#a42500"/><stop offset=".562" stop-color="#a42500"/><stop offset=".594" stop-color="#ac2c00"/><stop offset=".625" stop-color="#bd3e00"/><stop offset=".656" stop-color="#c44500"/><stop offset=".688" stop-color="#f87800"/><stop offset=".719" stop-color="#ffbd3d"/><stop offset=".75" stop-color="#ffb839"/><stop offset=".781" stop-color="#ffa828"/><stop offset=".812" stop-color="#ffae2e"/><stop offset=".844" stop-color="#ffa828"/><stop offset=".906" stop-color="#860600"/><stop offset=".938" stop-color="#6f0000"/><stop offset="1" stop-color="#a02000"/></linearGradient>
<linearGradient id="c183" x1="0" y1="0" x2="0" y2="1"><stop offset="0" stop-color="#780000"/><stop offset=".031" stop-color="#7b0000"/><stop offset=".125" stop-color="#a32400"/><stop offset=".188" stop-color="#9e1e00"/><stop offset=".25" stop-color="#b63600"/><stop offset=".312" stop-color="#a92900"/><stop offset=".375" stop-color="#e66600"/><stop offset=".406" stop-color="#de5f00"/><stop offset=".469" stop-color="#e66700"/><stop offset=".531" stop-color="#ae2e00"/><stop offset=".562" stop-color="#aa2a00"/><stop offset=".594" stop-color="#b33300"/><stop offset=".625" stop-color="#ca4a00"/><stop offset=".656" stop-color="#d65600"/><stop offset=".688" stop-color="#ff8b0b"/><stop offset=".719" stop-color="#ffcd4e"/><stop offset=".75" stop-color="#ffc848"/><stop offset=".781" stop-color="#ffb334"/><stop offset=".844" stop-color="#ffb636"/><stop offset=".875" stop-color="#e16200"/><stop offset=".906" stop-color="#850500"/><stop offset=".938" stop-color="#740000"/><stop offset="1" stop-color="#b53500"/></linearGradient>
<linearGradient id="c184" x1="0" y1="0" x2="0" y2="1"><stop offset="0" stop-color="#730000"/><stop offset=".031" stop-color="#770000"/><stop offset=".125" stop-color="#9f1f00"/><stop offset=".188" stop-color="#991900"/><stop offset=".25" stop-color="#b23200"/><stop offset=".312" stop-color="#a42500"/><stop offset=".375" stop-color="#db5c00"/><stop offset=".406" stop-color="#d55500"/><stop offset=".438" stop-color="#de5e00"/><stop offset=".469" stop-color="#dc5c00"/><stop offset=".5" stop-color="#bd3d00"/><stop offset=".531" stop-color="#a82900"/><stop offset=".562" stop-color="#a12200"/><stop offset=".594" stop-color="#ab2b00"/><stop offset=".625" stop-color="#c54600"/><stop offset=".656" stop-color="#d55600"/><stop offset=".688" stop-color="#ff8708"/><stop offset=".719" stop-color="#ffc344"/><stop offset=".75" stop-color="#ffbd3e"/><stop offset=".781" stop-color="#ffa828"/><stop offset=".844" stop-color="#ffaa2b"/><stop offset=".875" stop-color="#d85800"/><stop offset=".906" stop-color="#7b0000"/><stop offset=".938" stop-color="#6f0000"/><stop offset="1" stop-color="#b83900"/></linearGradient>
<linearGradient id="c185" x1="0" y1="0" x2="0" y2="1"><stop offset="0" stop-color="#6b0000"/><stop offset=".031" stop-color="#6e0000"/><stop offset=".125" stop-color="#941400"/><stop offset=".188" stop-color="#8e0e00"/><stop offset=".25" stop-color="#a52500"/><stop offset=".312" stop-color="#991a00"/><stop offset=".375" stop-color="#c94a00"/><stop offset=".406" stop-color="#c34400"/><stop offset=".438" stop-color="#cd4d00"/><stop offset=".469" stop-color="#c94900"/><stop offset=".5" stop-color="#ac2c00"/><stop offset=".531" stop-color="#9b1b00"/><stop offset=".562" stop-color="#931400"/><stop offset=".594" stop-color="#9d1d00"/><stop offset=".625" stop-color="#b93900"/><stop offset=".656" stop-color="#cc4c00"/><stop offset=".688" stop-color="#f87800"/><stop offset=".719" stop-color="#ffad2e"/><stop offset=".75" stop-color="#ffa828"/><stop offset=".781" stop-color="#ff9212"/><stop offset=".844" stop-color="#ff9414"/><stop offset=".875" stop-color="#c74800"/><stop offset=".906" stop-color="#700000"/><stop offset=".938" stop-color="#670000"/><stop offset="1" stop-color="#b13100"/></linearGradient>
<linearGradient id="c186" x1="0" y1="0" x2="0" y2="1"><stop offset="0" stop-color="#6d0000"/><stop offset=".031" stop-color="#710000"/><stop offset=".125" stop-color="#971800"/><stop offset=".188" stop-color="#921200"/><stop offset=".25" stop-color="#a72800"/><stop offset=".281" stop-color="#9f1f00"/><stop offset=".312" stop-color="#9e1e00"/><stop offset=".375" stop-color="#cc4d00"/><stop offset=".406" stop-color="#c64700"/><stop offset=".438" stop-color="#d05100"/><stop offset=".469" stop-color="#cb4b00"/><stop offset=".5" stop-color="#ad2d00"/><stop offset=".562" stop-color="#941400"/><stop offset=".594" stop-color="#9e1f00"/><stop offset=".625" stop-color="#bf3f00"/><stop offset=".656" stop-color="#d65700"/><stop offset=".688" stop-color="#ff8303"/><stop offset=".719" stop-color="#ffb738"/><stop offset=".75" stop-color="#ffb131"/><stop offset=".781" stop-color="#ff991a"/><stop offset=".844" stop-color="#ff991a"/><stop offset=".875" stop-color="#cb4c00"/><stop offset=".906" stop-color="#720000"/><stop offset=".938" stop-color="#690000"/><stop offset=".969" stop-color="#951600"/><stop offset="1" stop-color="#b93900"/></linearGradient>
<linearGradient id="c187" x1="0" y1="0" x2="0" y2="1"><stop offset="0" stop-color="#770000"/><stop offset=".031" stop-color="#7b0000"/><stop offset=".125" stop-color="#a42500"/><stop offset=".188" stop-color="#9f1f00"/><stop offset=".25" stop-color="#b43400"/><stop offset=".281" stop-color="#ac2c00"/><stop offset=".312" stop-color="#ac2d00"/><stop offset=".375" stop-color="#dd5e00"/><stop offset=".406" stop-color="#d65700"/><stop offset=".438" stop-color="#e16100"/><stop offset=".469" stop-color="#da5b00"/><stop offset=".5" stop-color="#b93900"/><stop offset=".562" stop-color="#9f1f00"/><stop offset=".594" stop-color="#ab2b00"/><stop offset=".625" stop-color="#d15100"/><stop offset=".656" stop-color="#ef6f00"/><stop offset=".688" stop-color="#ff9e1f"/><stop offset=".719" stop-color="#ffd657"/><stop offset=".75" stop-color="#ffcf4f"/><stop offset=".781" stop-color="#ffb434"/><stop offset=".844" stop-color="#ffb232"/><stop offset=".875" stop-color="#de5e00"/><stop offset=".906" stop-color="#7c0000"/><stop offset=".938" stop-color="#730000"/><stop offset=".969" stop-color="#a42500"/><stop offset="1" stop-color="#cb4c00"/></linearGradient>
<linearGradient id="c188" x1="0" y1="0" x2="0" y2="1"><stop offset="0" stop-color="#720000"/><stop offset=".031" stop-color="#760000"/><stop offset=".094" stop-color="#931400"/><stop offset=".125" stop-color="#9d1d00"/><stop offset=".188" stop-color="#991900"/><stop offset=".25" stop-color="#a92a00"/><stop offset=".312" stop-color="#a52500"/><stop offset=".375" stop-color="#d25300"/><stop offset=".406" stop-color="#cc4c00"/><stop offset=".438" stop-color="#d65600"/><stop offset=".469" stop-color="#cf4f00"/><stop offset=".5" stop-color="#af2f00"/><stop offset=".562" stop-color="#971700"/><stop offset=".594" stop-color="#a32300"/><stop offset=".625" stop-color="#ca4a00"/><stop offset=".656" stop-color="#ea6b00"/><stop offset=".688" stop-color="#ff9718"/><stop offset=".719" stop-color="#ffcc4c"/><stop offset=".75" stop-color="#ffc445"/><stop offset=".781" stop-color="#ffaa2a"/><stop offset=".844" stop-color="#ffa526"/><stop offset=".875" stop-color="#d55600"/><stop offset=".906" stop-color="#790000"/><stop offset=".938" stop-color="#6f0000"/><stop offset=".969" stop-color="#9f2000"/><stop offset="1" stop-color="#c44500"/></linearGradient>
<linearGradient id="c189" x1="0" y1="0" x2="0" y2="1"><stop offset="0" stop-color="#780000"/><stop offset=".031" stop-color="#7c0000"/><stop offset=".094" stop-color="#9a1b00"/><stop offset=".125" stop-color="#a32400"/><stop offset=".188" stop-color="#a02100"/><stop offset=".25" stop-color="#ae2f00"/><stop offset=".312" stop-color="#ad2d00"/><stop offset=".375" stop-color="#db5b00"/><stop offset=".406" stop-color="#d45500"/><stop offset=".438" stop-color="#de5f00"/><stop offset=".469" stop-color="#d75700"/><stop offset=".5" stop-color="#b53600"/><stop offset=".562" stop-color="#9e1e00"/><stop offset=".594" stop-color="#aa2b00"/><stop offset=".656" stop-color="#fb7c00"/><stop offset=".688" stop-color="#ffaa2b"/><stop offset=".719" stop-color="#ffe162"/><stop offset=".75" stop-color="#ffd859"/><stop offset=".781" stop-color="#ffbc3d"/><stop offset=".844" stop-color="#ffb535"/><stop offset=".875" stop-color="#e16200"/><stop offset=".906" stop-color="#810100"/><stop offset=".938" stop-color="#770000"/><stop offset=".969" stop-color="#a92a00"/><stop offset="1" stop-color="#d05100"/></linearGradient>
<linearGradient id="c190" x1="0" y1="0" x2="0" y2="1"><stop offset="0" stop-color="#730000"/><stop offset=".031" stop-color="#770000"/><stop offset=".094" stop-color="#931300"/><stop offset=".125" stop-color="#9b1b00"/><stop offset=".219" stop-color="#9d1e00"/><stop offset=".312" stop-color="#a52500"/><stop offset=".375" stop-color="#d05000"/><stop offset=".406" stop-color="#ca4b00"/><stop offset=".438" stop-color="#d35400"/><stop offset=".469" stop-color="#cc4c00"/><stop offset=".5" stop-color="#ad2d00"/><stop offset=".562" stop-color="#981800"/><stop offset=".594" stop-color="#a42500"/><stop offset=".688" stop-color="#ffa424"/><stop offset=".719" stop-color="#ffd859"/><stop offset=".75" stop-color="#ffcf4f"/><stop offset=".781" stop-color="#ffb434"/><stop offset=".844" stop-color="#ffaa2b"/><stop offset=".875" stop-color="#d95a00"/><stop offset=".906" stop-color="#7d0000"/><stop offset=".938" stop-color="#740000"/><stop offset=".969" stop-color="#a52600"/><stop offset="1" stop-color="#ca4b00"/></linearGradient>
<linearGradient id="c191" x1="0" y1="0" x2="0" y2="1"><stop offset="0" stop-color="#6e0000"/><stop offset=".031" stop-color="#710000"/><stop offset=".094" stop-color="#8a0b00"/><stop offset=".125" stop-color="#911100"/><stop offset=".312" stop-color="#9b1c00"/><stop offset=".375" stop-color="#c24300"/><stop offset=".406" stop-color="#be3f00"/><stop offset=".438" stop-color="#c74800"/><stop offset=".469" stop-color="#c04000"/><stop offset=".5" stop-color="#a42400"/><stop offset=".562" stop-color="#921300"/><stop offset=".594" stop-color="#9e1f00"/><stop offset=".688" stop-color="#ff9b1c"/><stop offset=".719" stop-color="#ffcc4d"/><stop offset=".75" stop-color="#ffc243"/><stop offset=".781" stop-color="#ffa829"/><stop offset=".812" stop-color="#ffa828"/><stop offset=".844" stop-color="#ff9e1f"/><stop offset=".875" stop-color="#d05000"/><stop offset=".906" stop-color="#790000"/><stop offset=".938" stop-color="#710000"/><stop offset=".969" stop-color="#a12100"/><stop offset="1" stop-color="#c44400"/></linearGradient>
<linearGradient id="c192" x1="0" y1="0" x2="0" y2="1"><stop offset="0" stop-color="#760000"/><stop offset=".031" stop-color="#790000"/><stop offset=".094" stop-color="#921200"/><stop offset=".312" stop-color="#a42400"/><stop offset=".375" stop-color="#cb4c00"/><stop offset=".406" stop-color="#c84900"/><stop offset=".438" stop-color="#d25200"/><stop offset=".469" stop-color="#ca4b00"/><stop offset=".5" stop-color="#af2f00"/><stop offset=".562" stop-color="#9f1f00"/><stop offset=".594" stop-color="#ab2c00"/><stop offset=".688" stop-color="#ffb434"/><stop offset=".719" stop-color="#ffe768"/><stop offset=".75" stop-color="#ffdc5c"/><stop offset=".781" stop-color="#ffc041"/><stop offset=".812" stop-color="#ffc040"/><stop offset=".844" stop-color="#ffb535"/><stop offset=".906" stop-color="#820300"/><stop offset=".938" stop-color="#7c0000"/><stop offset=".969" stop-color="#b03100"/><stop offset="1" stop-color="#d65600"/></linearGradient>
<linearGradient id="c193" x1="0" y1="0" x2="0" y2="1"><stop offset="0" stop-color="#6e0000"/><stop offset=".062" stop-color="#790000"/><stop offset=".125" stop-color="#890a00"/><stop offset=".312" stop-color="#941500"/><stop offset=".375" stop-color="#b73700"/><stop offset=".406" stop-color="#b63600"/><stop offset=".438" stop-color="#be3f00"/><stop offset=".469" stop-color="#b83800"/><stop offset=".5" stop-color="#a12200"/><stop offset=".562" stop-color="#951600"/><stop offset=".594" stop-color="#a12100"/><stop offset=".656" stop-color="#f27200"/><stop offset=".719" stop-color="#ffcf50"/><stop offset=".75" stop-color="#ffc444"/><stop offset=".781" stop-color="#ffab2b"/><stop offset=".812" stop-color="#ffaa2b"/><stop offset=".844" stop-color="#ff9f20"/><stop offset=".906" stop-color="#790000"/><stop offset=".938" stop-color="#750000"/><stop offset=".969" stop-color="#a72700"/><stop offset="1" stop-color="#c94a00"/></linearGradient>
<linearGradient id="c194" x1="0" y1="0" x2="0" y2="1"><stop offset="0" stop-color="#680000"/><stop offset=".062" stop-color="#720000"/><stop offset=".125" stop-color="#7f0000"/><stop offset=".312" stop-color="#8a0a00"/><stop offset=".375" stop-color="#a82800"/><stop offset=".406" stop-color="#a82900"/><stop offset=".438" stop-color="#b03100"/><stop offset=".469" stop-color="#aa2b00"/><stop offset=".5" stop-color="#991a00"/><stop offset=".562" stop-color="#901100"/><stop offset=".594" stop-color="#9b1b00"/><stop offset=".656" stop-color="#e76800"/><stop offset=".719" stop-color="#ffc141"/><stop offset=".75" stop-color="#ffb435"/><stop offset=".781" stop-color="#ff9d1d"/><stop offset=".812" stop-color="#ff9d1d"/><stop offset=".844" stop-color="#ff9212"/><stop offset=".906" stop-color="#730000"/><stop offset=".938" stop-color="#720000"/><stop offset=".969" stop-color="#a22200"/><stop offset="1" stop-color="#c34300"/></linearGradient>
<linearGradient id="c195" x1="0" y1="0" x2="0" y2="1"><stop offset="0" stop-color="#7c0000"/><stop offset=".062" stop-color="#860700"/><stop offset=".094" stop-color="#901000"/><stop offset=".219" stop-color="#9a1a00"/><stop offset=".312" stop-color="#9f2000"/><stop offset=".375" stop-color="#c04000"/><stop offset=".438" stop-color="#cb4c00"/><stop offset=".531" stop-color="#af2f00"/><stop offset=".562" stop-color="#ad2e00"/><stop offset=".594" stop-color="#b93a00"/><stop offset=".656" stop-color="#ff9415"/><stop offset=".719" stop-color="#fffe7e"/><stop offset=".75" stop-color="#ffee6e"/><stop offset=".781" stop-color="#ffd253"/><stop offset=".812" stop-color="#ffd252"/><stop offset=".844" stop-color="#ffc545"/><stop offset=".906" stop-color="#890a00"/><stop offset=".938" stop-color="#8b0b00"/><stop offset=".969" stop-color="#c44500"/><stop offset="1" stop-color="#eb6b00"/></linearGradient>
<linearGradient id="c196" x1="0" y1="0" x2="0" y2="1"><stop offset="0" stop-color="#6b0000"/><stop offset=".188" stop-color="#830400"/><stop offset=".312" stop-color="#860600"/><stop offset=".375" stop-color="#9f1f00"/><stop offset=".438" stop-color="#a92a00"/><stop offset=".531" stop-color="#981800"/><stop offset=".562" stop-color="#971700"/><stop offset=".594" stop-color="#a12200"/><stop offset=".656" stop-color="#ee6f00"/><stop offset=".688" stop-color="#ffa021"/><stop offset=".719" stop-color="#ffca4a"/><stop offset=".75" stop-color="#ffbb3c"/><stop offset=".781" stop-color="#ffa324"/><stop offset=".812" stop-color="#ffa223"/><stop offset=".844" stop-color="#ff9717"/><stop offset=".906" stop-color="#770000"/><stop offset=".938" stop-color="#7a0000"/><stop offset=".969" stop-color="#ac2d00"/><stop offset="1" stop-color="#cd4e00"/></linearGradient>
<linearGradient id="c197" x1="0" y1="0" x2="0" y2="1"><stop offset="0" stop-color="#780000"/><stop offset=".062" stop-color="#810100"/><stop offset=".125" stop-color="#870800"/><stop offset=".156" stop-color="#890a00"/><stop offset=".188" stop-color="#931300"/><stop offset=".25" stop-color="#8f1000"/><stop offset=".312" stop-color="#931400"/><stop offset=".375" stop-color="#ac2d00"/><stop offset=".438" stop-color="#b83800"/><stop offset=".562" stop-color="#aa2b00"/><stop offset=".594" stop-color="#b63700"/><stop offset=".656" stop-color="#ff8e0e"/><stop offset=".688" stop-color="#ffc647"/><stop offset=".719" stop-color="#fff374"/><stop offset=".75" stop-color="#ffe262"/><stop offset=".781" stop-color="#ffc647"/><stop offset=".812" stop-color="#ffc444"/><stop offset=".844" stop-color="#ffb738"/><stop offset=".906" stop-color="#860700"/><stop offset=".938" stop-color="#8c0c00"/><stop offset=".969" stop-color="#c54600"/><stop offset="1" stop-color="#ea6a00"/></linearGradient>
<linearGradient id="c198" x1="0" y1="0" x2="0" y2="1"><stop offset="0" stop-color="#7c0000"/><stop offset=".094" stop-color="#8a0a00"/><stop offset=".156" stop-color="#8b0b00"/><stop offset=".188" stop-color="#961700"/><stop offset=".25" stop-color="#911200"/><stop offset=".312" stop-color="#951500"/><stop offset=".375" stop-color="#aa2b00"/><stop offset=".438" stop-color="#b63600"/><stop offset=".562" stop-color="#af3000"/><stop offset=".594" stop-color="#bc3d00"/><stop offset=".625" stop-color="#e56600"/><stop offset=".656" stop-color="#ff9616"/><stop offset=".688" stop-color="#ffd151"/><stop offset=".719" stop-color="#fffd7e"/><stop offset=".75" stop-color="#ffea6b"/><stop offset=".781" stop-color="#ffce4e"/><stop offset=".812" stop-color="#ffca4a"/><stop offset=".844" stop-color="#ffbd3e"/><stop offset=".906" stop-color="#8b0c00"/><stop offset=".938" stop-color="#921200"/><stop offset=".969" stop-color="#cd4e00"/><stop offset="1" stop-color="#f27300"/></linearGradient>
<linearGradient id="c199" x1="0" y1="0" x2="0" y2="1"><stop offset="0" stop-color="#c34300"/><stop offset=".062" stop-color="#cf5000"/><stop offset=".094" stop-color="#d75700"/><stop offset=".156" stop-color="#cb4b00"/><stop offset=".188" stop-color="#d75700"/><stop offset=".25" stop-color="#be3f00"/><stop offset=".312" stop-color="#b23300"/><stop offset=".375" stop-color="#b73700"/><stop offset=".469" stop-color="#ab2b00"/><stop offset=".531" stop-color="#ae2f00"/><stop offset=".562" stop-color="#ad2d00"/><stop offset=".594" stop-color="#ba3a00"/><stop offset=".625" stop-color="#e06100"/><stop offset=".656" stop-color="#ff9213"/><stop offset=".688" stop-color="#ffcd4d"/><stop offset=".719" stop-color="#fff777"/><stop offset=".75" stop-color="#ffe364"/><stop offset=".781" stop-color="#ffc747"/><stop offset=".844" stop-color="#ffb536"/><stop offset=".906" stop-color="#8b0b00"/><stop offset=".938" stop-color="#921200"/><stop offset=".969" stop-color="#cd4d00"/><stop offset="1" stop-color="#f07100"/></linearGradient>
<linearGradient id="c200" x1="0" y1="0" x2="0" y2="1"><stop offset="0" stop-color="#730000"/><stop offset=".094" stop-color="#7d0000"/><stop offset=".156" stop-color="#7d0000"/><stop offset=".188" stop-color="#8a0b00"/><stop offset=".25" stop-color="#840400"/><stop offset=".312" stop-color="#850600"/><stop offset=".5" stop-color="#a52600"/><stop offset=".562" stop-color="#a22300"/><stop offset=".594" stop-color="#ae2f00"/><stop offset=".625" stop-color="#d25200"/><stop offset=".688" stop-color="#ffb93a"/><stop offset=".719" stop-color="#ffdf60"/><stop offset=".75" stop-color="#ffcd4d"/><stop offset=".781" stop-color="#ffb132"/><stop offset=".844" stop-color="#ffa021"/><stop offset=".906" stop-color="#840500"/><stop offset=".938" stop-color="#8b0c00"/><stop offset=".969" stop-color="#c34300"/><stop offset="1" stop-color="#e36400"/></linearGradient>
<linearGradient id="c201" x1="0" y1="0" x2="0" y2="1"><stop offset="0" stop-color="#810200"/><stop offset=".094" stop-color="#8d0d00"/><stop offset=".156" stop-color="#8b0c00"/><stop offset=".188" stop-color="#9c1c00"/><stop offset=".25" stop-color="#941500"/><stop offset=".312" stop-color="#951500"/><stop offset=".469" stop-color="#ad2e00"/><stop offset=".5" stop-color="#ba3b00"/><stop offset=".562" stop-color="#b63700"/><stop offset=".594" stop-color="#c54500"/><stop offset=".625" stop-color="#ec6c00"/><stop offset=".688" stop-color="#ffe263"/><stop offset=".719" stop-color="#ffff8c"/><stop offset=".75" stop-color="#fff676"/><stop offset=".781" stop-color="#ffd757"/><stop offset=".844" stop-color="#ffc343"/><stop offset=".906" stop-color="#981800"/><stop offset=".938" stop-color="#9f2000"/><stop offset=".969" stop-color="#de5f00"/><stop offset="1" stop-color="#ff8303"/></linearGradient>
<linearGradient id="c202" x1="0" y1="0" x2="0" y2="1"><stop offset="0" stop-color="#750000"/><stop offset=".094" stop-color="#7f0000"/><stop offset=".156" stop-color="#7e0000"/><stop offset=".188" stop-color="#8e0e00"/><stop offset=".281" stop-color="#880800"/><stop offset=".344" stop-color="#8b0b00"/><stop offset=".469" stop-color="#9c1d00"/><stop offset=".5" stop-color="#aa2b00"/><stop offset=".562" stop-color="#a62600"/><stop offset=".594" stop-color="#b33300"/><stop offset=".625" stop-color="#d65700"/><stop offset=".688" stop-color="#ffc344"/><stop offset=".719" stop-color="#ffe767"/><stop offset=".75" stop-color="#ffd354"/><stop offset=".781" stop-color="#ffb737"/><stop offset=".844" stop-color="#ffa525"/><stop offset=".906" stop-color="#8d0d00"/><stop offset=".938" stop-color="#931300"/><stop offset=".969" stop-color="#cd4d00"/><stop offset="1" stop-color="#ed6d00"/></linearGradient>
<linearGradient id="c203" x1="0" y1="0" x2="0" y2="1"><stop offset="0" stop-color="#750000"/><stop offset=".094" stop-color="#800000"/><stop offset=".125" stop-color="#7b0000"/><stop offset=".156" stop-color="#7e0000"/><stop offset=".188" stop-color="#8e0f00"/><stop offset=".312" stop-color="#860700"/><stop offset=".469" stop-color="#9d1d00"/><stop offset=".5" stop-color="#ac2d00"/><stop offset=".562" stop-color="#a72700"/><stop offset=".594" stop-color="#b43400"/><stop offset=".625" stop-color="#d85800"/><stop offset=".688" stop-color="#ffc546"/><stop offset=".719" stop-color="#ffe868"/><stop offset=".75" stop-color="#ffd455"/><stop offset=".781" stop-color="#ffb839"/><stop offset=".844" stop-color="#ffa626"/><stop offset=".906" stop-color="#911100"/><stop offset=".938" stop-color="#961700"/><stop offset=".969" stop-color="#d05100"/><stop offset="1" stop-color="#f07100"/></linearGradient>
<linearGradient id="c204" x1="0" y1="0" x2="0" y2="1"><stop offset="0" stop-color="#790000"/><stop offset=".094" stop-color="#840500"/><stop offset=".125" stop-color="#800000"/><stop offset=".156" stop-color="#830400"/><stop offset=".188" stop-color="#941400"/><stop offset=".281" stop-color="#8b0c00"/><stop offset=".406" stop-color="#941500"/><stop offset=".469" stop-color="#a42400"/><stop offset=".5" stop-color="#b43500"/><stop offset=".562" stop-color="#ae2f00"/><stop offset=".594" stop-color="#bb3c00"/><stop offset=".625" stop-color="#e16100"/><stop offset=".688" stop-color="#ffd353"/><stop offset=".719" stop-color="#fff576"/><stop offset=".75" stop-color="#ffe262"/><stop offset=".781" stop-color="#ffc445"/><stop offset=".812" stop-color="#ffbe3f"/><stop offset=".844" stop-color="#ffb132"/><stop offset=".906" stop-color="#9a1b00"/><stop offset=".938" stop-color="#9f1f00"/><stop offset=".969" stop-color="#dc5c00"/><stop offset="1" stop-color="#fd7d00"/></linearGradient>
<linearGradient id="c205" x1="0" y1="0" x2="0" y2="1"><stop offset="0" stop-color="#7e0000"/><stop offset=".094" stop-color="#8a0b00"/><stop offset=".125" stop-color="#850600"/><stop offset=".156" stop-color="#890900"/><stop offset=".188" stop-color="#9a1b00"/><stop offset=".219" stop-color="#9b1c00"/><stop offset=".25" stop-color="#921200"/><stop offset=".406" stop-color="#991900"/><stop offset=".469" stop-color="#ac2d00"/><stop offset=".5" stop-color="#be3f00"/><stop offset=".562" stop-color="#b73800"/><stop offset=".594" stop-color="#c54500"/><stop offset=".625" stop-color="#ec6d00"/><stop offset=".688" stop-color="#ffe363"/><stop offset=".719" stop-color="#ffff86"/><stop offset=".75" stop-color="#fff171"/><stop offset=".781" stop-color="#ffd353"/><stop offset=".812" stop-color="#ffcd4e"/><stop offset=".844" stop-color="#ffbe3f"/><stop offset=".906" stop-color="#a52600"/><stop offset=".938" stop-color="#a92a00"/><stop offset=".969" stop-color="#ea6b00"/><stop offset="1" stop-color="#ff8d0d"/></linearGradient>
<linearGradient id="c206" x1="0" y1="0" x2="0" y2="1"><stop offset="0" stop-color="#7a0000"/><stop offset=".094" stop-color="#870800"/><stop offset=".125" stop-color="#830300"/><stop offset=".156" stop-color="#860700"/><stop offset=".188" stop-color="#971800"/><stop offset=".219" stop-color="#981900"/><stop offset=".25" stop-color="#8e0f00"/><stop offset=".375" stop-color="#901000"/><stop offset=".438" stop-color="#9f1f00"/><stop offset=".5" stop-color="#bd3d00"/><stop offset=".562" stop-color="#b63600"/><stop offset=".594" stop-color="#c34300"/><stop offset=".625" stop-color="#ea6a00"/><stop offset=".688" stop-color="#ffdc5d"/><stop offset=".719" stop-color="#fffd7e"/><stop offset=".75" stop-color="#ffea6a"/><stop offset=".781" stop-color="#ffcc4c"/><stop offset=".812" stop-color="#ffc748"/><stop offset=".844" stop-color="#ffb637"/><stop offset=".906" stop-color="#a62600"/><stop offset=".938" stop-color="#ab2b00"/><stop offset=".969" stop-color="#ec6c00"/><stop offset="1" stop-color="#ff8d0e"/></linearGradient>
<linearGradient id="c207" x1="0" y1="0" x2="0" y2="1"><stop offset="0" stop-color="#7c0000"/><stop offset=".062" stop-color="#850500"/><stop offset=".094" stop-color="#8b0c00"/><stop offset=".125" stop-color="#860700"/><stop offset=".156" stop-color="#8a0a00"/><stop offset=".188" stop-color="#9a1b00"/><stop offset=".219" stop-color="#9b1c00"/><stop offset=".25" stop-color="#911100"/><stop offset=".375" stop-color="#921300"/><stop offset=".438" stop-color="#a22200"/><stop offset=".5" stop-color="#c34400"/><stop offset=".562" stop-color="#bd3d00"/><stop offset=".594" stop-color="#cb4b00"/><stop offset=".625" stop-color="#f27200"/><stop offset=".688" stop-color="#ffe566"/><stop offset=".719" stop-color="#ffff86"/><stop offset=".75" stop-color="#fff273"/><stop offset=".781" stop-color="#ffd353"/><stop offset=".812" stop-color="#ffce4f"/><stop offset=".844" stop-color="#ffba3b"/><stop offset=".875" stop-color="#ef6f00"/><stop offset=".906" stop-color="#ae2e00"/><stop offset=".938" stop-color="#b43500"/><stop offset=".969" stop-color="#f97a00"/><stop offset="1" stop-color="#ff9b1c"/></linearGradient>
<linearGradient id="c208" x1="0" y1="0" x2="0" y2="1"><stop offset="0" stop-color="#750000"/><stop offset=".062" stop-color="#7f0000"/><stop offset=".094" stop-color="#860700"/><stop offset=".125" stop-color="#810200"/><stop offset=".156" stop-color="#840500"/><stop offset=".188" stop-color="#941500"/><stop offset=".219" stop-color="#941500"/><stop offset=".25" stop-color="#8a0a00"/><stop offset=".406" stop-color="#911100"/><stop offset=".469" stop-color="#aa2a00"/><stop offset=".5" stop-color="#be3e00"/><stop offset=".562" stop-color="#ba3a00"/><stop offset=".594" stop-color="#c74800"/><stop offset=".625" stop-color="#eb6c00"/><stop offset=".688" stop-color="#ffd758"/><stop offset=".719" stop-color="#fff777"/><stop offset=".75" stop-color="#ffe464"/><stop offset=".781" stop-color="#ffc445"/><stop offset=".812" stop-color="#ffbf3f"/><stop offset=".844" stop-color="#ffa829"/><stop offset=".875" stop-color="#e36300"/><stop offset=".906" stop-color="#aa2b00"/><stop offset=".938" stop-color="#b33400"/><stop offset=".969" stop-color="#f97900"/><stop offset="1" stop-color="#ff991a"/></linearGradient>
<linearGradient id="c209" x1="0" y1="0" x2="0" y2="1"><stop offset="0" stop-color="#770000"/><stop offset=".031" stop-color="#790000"/><stop offset=".094" stop-color="#8b0c00"/><stop offset=".125" stop-color="#860600"/><stop offset=".156" stop-color="#880900"/><stop offset=".188" stop-color="#981900"/><stop offset=".219" stop-color="#971700"/><stop offset=".25" stop-color="#8c0c00"/><stop offset=".312" stop-color="#951500"/><stop offset=".375" stop-color="#901000"/><stop offset=".438" stop-color="#9d1d00"/><stop offset=".5" stop-color="#c54500"/><stop offset=".562" stop-color="#c44400"/><stop offset=".594" stop-color="#d35300"/><stop offset=".625" stop-color="#f57500"/><stop offset=".688" stop-color="#ffe161"/><stop offset=".719" stop-color="#ffff81"/><stop offset=".75" stop-color="#ffed6d"/><stop offset=".781" stop-color="#ffcb4c"/><stop offset=".812" stop-color="#ffc444"/><stop offset=".844" stop-color="#ffa829"/><stop offset=".875" stop-color="#e46500"/><stop offset=".906" stop-color="#b13200"/><stop offset=".938" stop-color="#bf4000"/><stop offset=".969" stop-color="#ff8b0b"/><stop offset="1" stop-color="#ffac2c"/></linearGradient>
<linearGradient id="c210" x1="0" y1="0" x2="0" y2="1"><stop offset="0" stop-color="#730000"/><stop offset=".031" stop-color="#750000"/><stop offset=".094" stop-color="#8a0a00"/><stop offset=".125" stop-color="#830400"/><stop offset=".156" stop-color="#850600"/><stop offset=".188" stop-color="#951600"/><stop offset=".219" stop-color="#921200"/><stop offset=".25" stop-color="#870700"/><stop offset=".312" stop-color="#941400"/><stop offset=".375" stop-color="#8d0e00"/><stop offset=".438" stop-color="#981800"/><stop offset=".5" stop-color="#c34300"/><stop offset=".562" stop-color="#c54600"/><stop offset=".594" stop-color="#d55600"/><stop offset=".625" stop-color="#f47400"/><stop offset=".688" stop-color="#ffd95a"/><stop offset=".719" stop-color="#fff97a"/><stop offset=".75" stop-color="#ffe566"/><stop offset=".781" stop-color="#ffc243"/><stop offset=".812" stop-color="#ffb839"/><stop offset=".844" stop-color="#ff9919"/><stop offset=".875" stop-color="#da5a00"/><stop offset=".906" stop-color="#b03100"/><stop offset=".938" stop-color="#c34400"/><stop offset=".969" stop-color="#ff9112"/><stop offset="1" stop-color="#ffb132"/></linearGradient>
<linearGradient id="c211" x1="0" y1="0" x2="0" y2="1"><stop offset="0" stop-color="#780000"/><stop offset=".031" stop-color="#7a0000"/><stop offset=".094" stop-color="#921300"/><stop offset=".125" stop-color="#8b0c00"/><stop offset=".156" stop-color="#8d0d00"/><stop offset=".188" stop-color="#9d1e00"/><stop offset=".25" stop-color="#8c0d00"/><stop offset=".312" stop-color="#9e1e00"/><stop offset=".375" stop-color="#961700"/><stop offset=".438" stop-color="#9f1f00"/><stop offset=".469" stop-color="#b33400"/><stop offset=".5" stop-color="#d05100"/><stop offset=".562" stop-color="#d65600"/><stop offset=".594" stop-color="#e96900"/><stop offset=".625" stop-color="#ff8506"/><stop offset=".656" stop-color="#ffb434"/><stop offset=".688" stop-color="#ffec6d"/><stop offset=".719" stop-color="#ffff8e"/><stop offset=".75" stop-color="#fff879"/><stop offset=".781" stop-color="#ffd252"/><stop offset=".812" stop-color="#ffc444"/><stop offset=".844" stop-color="#ff9e1e"/><stop offset=".875" stop-color="#e06000"/><stop offset=".906" stop-color="#bd3d00"/><stop offset=".938" stop-color="#d65700"/><stop offset=".969" stop-color="#ffad2d"/><stop offset="1" stop-color="#ffcf4f"/></linearGradient>
<linearGradient id="c212" x1="0" y1="0" x2="0" y2="1"><stop offset="0" stop-color="#7e0000"/><stop offset=".031" stop-color="#800100"/><stop offset=".094" stop-color="#9c1c00"/><stop offset=".125" stop-color="#941400"/><stop offset=".156" stop-color="#951500"/><stop offset=".188" stop-color="#a62600"/><stop offset=".25" stop-color="#921300"/><stop offset=".281" stop-color="#a22300"/><stop offset=".312" stop-color="#a82900"/><stop offset=".344" stop-color="#a02100"/><stop offset=".438" stop-color="#a62700"/><stop offset=".469" stop-color="#bd3e00"/><stop offset=".5" stop-color="#df5f00"/><stop offset=".562" stop-color="#e86900"/><stop offset=".625" stop-color="#ff9819"/><stop offset=".656" stop-color="#ffc546"/><stop offset=".688" stop-color="#ffff81"/><stop offset=".719" stop-color="#ffffa4"/><stop offset=".75" stop-color="#ffff8c"/><stop offset=".781" stop-color="#ffe363"/><stop offset=".812" stop-color="#ffd051"/><stop offset=".844" stop-color="#ffa323"/><stop offset=".875" stop-color="#e66600"/><stop offset=".906" stop-color="#ca4b00"/><stop offset=".938" stop-color="#eb6c00"/><stop offset=".969" stop-color="#ffca4b"/><stop offset="1" stop-color="#ffee6e"/></linearGradient>
<linearGradient id="c213" x1="0" y1="0" x2="0" y2="1"><stop offset="0" stop-color="#7a0000"/><stop offset=".031" stop-color="#7d0000"/><stop offset=".094" stop-color="#991a00"/><stop offset=".125" stop-color="#911200"/><stop offset=".156" stop-color="#911200"/><stop offset=".188" stop-color="#a22200"/><stop offset=".25" stop-color="#8e0e00"/><stop offset=".281" stop-color="#a02100"/><stop offset=".312" stop-color="#a62700"/><stop offset=".344" stop-color="#9e1e00"/><stop offset=".438" stop-color="#a22200"/><stop offset=".469" stop-color="#ba3a00"/><stop offset=".5" stop-color="#dd5e00"/><stop offset=".562" stop-color="#ea6a00"/><stop offset=".625" stop-color="#ff9718"/><stop offset=".656" stop-color="#ffc040"/><stop offset=".688" stop-color="#fff979"/><stop offset=".719" stop-color="#ffff9a"/><stop offset=".75" stop-color="#ffff83"/><stop offset=".781" stop-color="#ffda5a"/><stop offset=".812" stop-color="#ffc445"/><stop offset=".875" stop-color="#dc5c00"/><stop offset=".906" stop-color="#c94a00"/><stop offset=".938" stop-color="#ef7000"/><stop offset=".969" stop-color="#ffcf50"/><stop offset="1" stop-color="#fff272"/></linearGradient>
<linearGradient id="c214" x1="0" y1="0" x2="0" y2="1"><stop offset="0" stop-color="#7f0000"/><stop offset=".031" stop-color="#820200"/><stop offset=".094" stop-color="#a02000"/><stop offset=".125" stop-color="#971800"/><stop offset=".156" stop-color="#971800"/><stop offset=".188" stop-color="#a72700"/><stop offset=".25" stop-color="#931300"/><stop offset=".281" stop-color="#a82900"/><stop offset=".312" stop-color="#ae2f00"/><stop offset=".344" stop-color="#a62600"/><stop offset=".438" stop-color="#a82900"/><stop offset=".469" stop-color="#c34400"/><stop offset=".5" stop-color="#ea6b00"/><stop offset=".562" stop-color="#fa7a00"/><stop offset=".625" stop-color="#ffa828"/><stop offset=".656" stop-color="#ffd050"/><stop offset=".688" stop-color="#ffff89"/><stop offset=".719" stop-color="#ffffa8"/><stop offset=".75" stop-color="#ffff90"/><stop offset=".781" stop-color="#ffe767"/><stop offset=".812" stop-color="#ffcd4e"/><stop offset=".875" stop-color="#df6000"/><stop offset=".906" stop-color="#d55600"/><stop offset=".938" stop-color="#ff8303"/><stop offset=".969" stop-color="#ffe869"/><stop offset="1" stop-color="#ffff8c"/></linearGradient>
<linearGradient id="c215" x1="0" y1="0" x2="0" y2="1"><stop offset="0" stop-color="#7a0000"/><stop offset=".031" stop-color="#7d0000"/><stop offset=".094" stop-color="#991a00"/><stop offset=".125" stop-color="#911200"/><stop offset=".156" stop-color="#911200"/><stop offset=".188" stop-color="#9f1f00"/><stop offset=".25" stop-color="#8d0d00"/><stop offset=".281" stop-color="#a22300"/><stop offset=".312" stop-color="#a82800"/><stop offset=".344" stop-color="#a12200"/><stop offset=".438" stop-color="#a22300"/><stop offset=".469" stop-color="#be3f00"/><stop offset=".5" stop-color="#e66600"/><stop offset=".562" stop-color="#f67600"/><stop offset=".625" stop-color="#ffa222"/><stop offset=".656" stop-color="#ffc647"/><stop offset=".688" stop-color="#fff97a"/><stop offset=".719" stop-color="#ffff94"/><stop offset=".75" stop-color="#fffd7d"/><stop offset=".781" stop-color="#ffd859"/><stop offset=".812" stop-color="#ffbd3d"/><stop offset=".844" stop-color="#ff8001"/><stop offset=".875" stop-color="#d35400"/><stop offset=".906" stop-color="#d25200"/><stop offset=".938" stop-color="#ff8102"/><stop offset=".969" stop-color="#ffe465"/><stop offset="1" stop-color="#ffff86"/></linearGradient>
<linearGradient id="c216" x1="0" y1="0" x2="0" y2="1"><stop offset="0" stop-color="#7a0000"/><stop offset=".031" stop-color="#7d0000"/><stop offset=".094" stop-color="#981900"/><stop offset=".156" stop-color="#911100"/><stop offset=".188" stop-color="#9c1d00"/><stop offset=".25" stop-color="#8d0d00"/><stop offset=".281" stop-color="#a22300"/><stop offset=".375" stop-color="#a82800"/><stop offset=".438" stop-color="#a32300"/><stop offset=".469" stop-color="#c14200"/><stop offset=".5" stop-color="#ea6a00"/><stop offset=".562" stop-color="#fa7b00"/><stop offset=".625" stop-color="#ffa626"/><stop offset=".656" stop-color="#ffca4a"/><stop offset=".688" stop-color="#fff879"/><stop offset=".719" stop-color="#ffff8f"/><stop offset=".75" stop-color="#fff879"/><stop offset=".812" stop-color="#ffb93a"/><stop offset=".844" stop-color="#f87800"/><stop offset=".875" stop-color="#d05000"/><stop offset=".906" stop-color="#d65700"/><stop offset=".938" stop-color="#ff890a"/><stop offset=".969" stop-color="#ffec6c"/><stop offset="1" stop-color="#ffff8c"/></linearGradient>
<linearGradient id="c217" x1="0" y1="0" x2="0" y2="1"><stop offset="0" stop-color="#7e0000"/><stop offset=".031" stop-color="#800000"/><stop offset=".094" stop-color="#9a1a00"/><stop offset=".156" stop-color="#931300"/><stop offset=".188" stop-color="#9d1e00"/><stop offset=".25" stop-color="#901000"/><stop offset=".281" stop-color="#a62600"/><stop offset=".344" stop-color="#a82800"/><stop offset=".375" stop-color="#ae2f00"/><stop offset=".438" stop-color="#a72800"/><stop offset=".469" stop-color="#c94a00"/><stop offset=".5" stop-color="#f37400"/><stop offset=".562" stop-color="#ff8505"/><stop offset=".625" stop-color="#ffb132"/><stop offset=".688" stop-color="#ffff80"/><stop offset=".719" stop-color="#ffff92"/><stop offset=".75" stop-color="#fffc7c"/><stop offset=".812" stop-color="#ffbd3e"/><stop offset=".844" stop-color="#f57600"/><stop offset=".875" stop-color="#d15200"/><stop offset=".906" stop-color="#e16100"/><stop offset=".938" stop-color="#ff9718"/><stop offset=".969" stop-color="#fffb7b"/><stop offset="1" stop-color="#ffff9b"/></linearGradient>
<linearGradient id="c218" x1="0" y1="0" x2="0" y2="1"><stop offset="0" stop-color="#7c0000"/><stop offset=".031" stop-color="#7e0000"/><stop offset=".094" stop-color="#961600"/><stop offset=".156" stop-color="#901000"/><stop offset=".188" stop-color="#981800"/><stop offset=".219" stop-color="#8f0f00"/><stop offset=".25" stop-color="#8e0e00"/><stop offset=".281" stop-color="#a32300"/><stop offset=".344" stop-color="#a72700"/><stop offset=".375" stop-color="#ae2e00"/><stop offset=".438" stop-color="#a62600"/><stop offset=".5" stop-color="#f47400"/><stop offset=".562" stop-color="#ff8405"/><stop offset=".625" stop-color="#ffb131"/><stop offset=".688" stop-color="#fff878"/><stop offset=".719" stop-color="#ffff85"/><stop offset=".781" stop-color="#ffd858"/><stop offset=".812" stop-color="#ffb637"/><stop offset=".844" stop-color="#eb6b00"/><stop offset=".875" stop-color="#cc4d00"/><stop offset=".906" stop-color="#e36300"/><stop offset=".938" stop-color="#ff9b1b"/><stop offset=".969" stop-color="#fffb7b"/><stop offset="1" stop-color="#ffff99"/></linearGradient>
<linearGradient id="c219" x1="0" y1="0" x2="0" y2="1"><stop offset="0" stop-color="#800000"/><stop offset=".031" stop-color="#810200"/><stop offset=".094" stop-color="#971800"/><stop offset=".156" stop-color="#911200"/><stop offset=".188" stop-color="#981800"/><stop offset=".219" stop-color="#901000"/><stop offset=".25" stop-color="#911100"/><stop offset=".281" stop-color="#a52600"/><stop offset=".344" stop-color="#ac2c00"/><stop offset=".375" stop-color="#b43400"/><stop offset=".438" stop-color="#ab2b00"/><stop offset=".5" stop-color="#fe7e00"/><stop offset=".562" stop-color="#ff8d0e"/><stop offset=".625" stop-color="#ffbc3c"/><stop offset=".688" stop-color="#fffe7f"/><stop offset=".719" stop-color="#ffff88"/><stop offset=".781" stop-color="#ffdf5f"/><stop offset=".812" stop-color="#ffbb3c"/><stop offset=".844" stop-color="#ea6b00"/><stop offset=".875" stop-color="#cf5000"/><stop offset=".906" stop-color="#ef6f00"/><stop offset=".938" stop-color="#ffa92a"/><stop offset=".969" stop-color="#ffff89"/><stop offset="1" stop-color="#ffffa7"/></linearGradient>
<linearGradient id="c220" x1="0" y1="0" x2="0" y2="1"><stop offset="0" stop-color="#7d0000"/><stop offset=".031" stop-color="#7e0000"/><stop offset=".094" stop-color="#921200"/><stop offset=".156" stop-color="#8c0d00"/><stop offset=".188" stop-color="#911200"/><stop offset=".219" stop-color="#8a0a00"/><stop offset=".25" stop-color="#8d0d00"/><stop offset=".281" stop-color="#a02100"/><stop offset=".375" stop-color="#b13100"/><stop offset=".438" stop-color="#a82800"/><stop offset=".5" stop-color="#fb7b00"/><stop offset=".562" stop-color="#ff8909"/><stop offset=".625" stop-color="#ffb738"/><stop offset=".688" stop-color="#fff272"/><stop offset=".719" stop-color="#fff878"/><stop offset=".781" stop-color="#ffd555"/><stop offset=".812" stop-color="#ffb232"/><stop offset=".844" stop-color="#e06000"/><stop offset=".875" stop-color="#c94a00"/><stop offset=".906" stop-color="#ef7000"/><stop offset=".938" stop-color="#ffa929"/><stop offset=".969" stop-color="#ffff83"/><stop offset="1" stop-color="#ffffa0"/></linearGradient>
<linearGradient id="c221" x1="0" y1="0" x2="0" y2="1"><stop offset="0" stop-color="#840500"/><stop offset=".031" stop-color="#840500"/><stop offset=".094" stop-color="#971800"/><stop offset=".156" stop-color="#911200"/><stop offset=".188" stop-color="#951600"/><stop offset=".219" stop-color="#8e0f00"/><stop offset=".25" stop-color="#931400"/><stop offset=".281" stop-color="#a72800"/><stop offset=".344" stop-color="#b13100"/><stop offset=".375" stop-color="#ba3b00"/><stop offset=".438" stop-color="#b23200"/><stop offset=".5" stop-color="#ff8b0c"/><stop offset=".562" stop-color="#ff9818"/><stop offset=".688" stop-color="#ffff82"/><stop offset=".719" stop-color="#ffff86"/><stop offset=".781" stop-color="#ffe566"/><stop offset=".812" stop-color="#ffc141"/><stop offset=".844" stop-color="#e86800"/><stop offset=".875" stop-color="#d35300"/><stop offset=".906" stop-color="#ff8304"/><stop offset=".938" stop-color="#ffbf40"/><stop offset=".969" stop-color="#ffff9b"/><stop offset="1" stop-color="#ffffb8"/></linearGradient>
<linearGradient id="c222" x1="0" y1="0" x2="0" y2="1"><stop offset="0" stop-color="#7a0000"/><stop offset=".031" stop-color="#790000"/><stop offset=".094" stop-color="#890a00"/><stop offset=".156" stop-color="#840400"/><stop offset=".188" stop-color="#870700"/><stop offset=".219" stop-color="#800100"/><stop offset=".25" stop-color="#860700"/><stop offset=".281" stop-color="#981900"/><stop offset=".344" stop-color="#a22200"/><stop offset=".375" stop-color="#ab2b00"/><stop offset=".438" stop-color="#a42500"/><stop offset=".5" stop-color="#f77800"/><stop offset=".562" stop-color="#ff8202"/><stop offset=".688" stop-color="#ffde5f"/><stop offset=".719" stop-color="#ffe262"/><stop offset=".781" stop-color="#ffc747"/><stop offset=".812" stop-color="#ffa626"/><stop offset=".844" stop-color="#d25200"/><stop offset=".875" stop-color="#c24200"/><stop offset=".938" stop-color="#ffab2c"/><stop offset=".969" stop-color="#fffc7c"/><stop offset="1" stop-color="#ffff97"/></linearGradient>
<linearGradient id="c223" x1="0" y1="0" x2="0" y2="1"><stop offset="0" stop-color="#790000"/><stop offset=".031" stop-color="#780000"/><stop offset=".094" stop-color="#860700"/><stop offset=".219" stop-color="#7d0000"/><stop offset=".25" stop-color="#840500"/><stop offset=".281" stop-color="#951600"/><stop offset=".312" stop-color="#971700"/><stop offset=".375" stop-color="#a92a00"/><stop offset=".438" stop-color="#a42400"/><stop offset=".5" stop-color="#f87800"/><stop offset=".562" stop-color="#ff8001"/><stop offset=".656" stop-color="#ffc646"/><stop offset=".688" stop-color="#ffd758"/><stop offset=".719" stop-color="#ffdb5b"/><stop offset=".781" stop-color="#ffc242"/><stop offset=".812" stop-color="#ffa223"/><stop offset=".844" stop-color="#ce4f00"/><stop offset=".875" stop-color="#c04000"/><stop offset=".938" stop-color="#ffaf2f"/><stop offset=".969" stop-color="#fffb7c"/><stop offset="1" stop-color="#ffff96"/></linearGradient>
<linearGradient id="c224" x1="0" y1="0" x2="0" y2="1"><stop offset="0" stop-color="#740000"/><stop offset=".062" stop-color="#780000"/><stop offset=".094" stop-color="#800000"/><stop offset=".219" stop-color="#760000"/><stop offset=".25" stop-color="#7e0000"/><stop offset=".281" stop-color="#8e0f00"/><stop offset=".312" stop-color="#8f1000"/><stop offset=".375" stop-color="#a22300"/><stop offset=".438" stop-color="#9e1e00"/><stop offset=".5" stop-color="#f17100"/><stop offset=".562" stop-color="#f67700"/><stop offset=".625" stop-color="#ffa727"/><stop offset=".688" stop-color="#ffc647"/><stop offset=".719" stop-color="#ffc94a"/><stop offset=".781" stop-color="#ffb334"/><stop offset=".812" stop-color="#ff9617"/><stop offset=".844" stop-color="#c44500"/><stop offset=".875" stop-color="#b93900"/><stop offset=".938" stop-color="#ffa829"/><stop offset=".969" stop-color="#ffef70"/><stop offset="1" stop-color="#ffff89"/></linearGradient>
<linearGradient id="c225" x1="0" y1="0" x2="0" y2="1"><stop offset="0" stop-color="#790000"/><stop offset=".062" stop-color="#7c0000"/><stop offset=".094" stop-color="#840400"/><stop offset=".219" stop-color="#7a0000"/><stop offset=".25" stop-color="#820300"/><stop offset=".281" stop-color="#931300"/><stop offset=".312" stop-color="#941400"/><stop offset=".375" stop-color="#a92a00"/><stop offset=".438" stop-color="#a52600"/><stop offset=".5" stop-color="#fd7e00"/><stop offset=".562" stop-color="#ff8102"/><stop offset=".594" stop-color="#ff9717"/><stop offset=".625" stop-color="#ffb434"/><stop offset=".688" stop-color="#ffd050"/><stop offset=".719" stop-color="#ffd253"/><stop offset=".75" stop-color="#ffc445"/><stop offset=".781" stop-color="#ffbd3e"/><stop offset=".812" stop-color="#ffa021"/><stop offset=".844" stop-color="#cb4c00"/><stop offset=".875" stop-color="#c04100"/><stop offset=".906" stop-color="#ff8303"/><stop offset=".938" stop-color="#ffba3a"/><stop offset=".969" stop-color="#ffff82"/><stop offset="1" stop-color="#ffff9b"/></linearGradient>
<linearGradient id="c226" x1="0" y1="0" x2="0" y2="1"><stop offset="0" stop-color="#7b0000"/><stop offset=".062" stop-color="#7f0000"/><stop offset=".094" stop-color="#860700"/><stop offset=".219" stop-color="#7b0000"/><stop offset=".281" stop-color="#951600"/><stop offset=".312" stop-color="#961700"/><stop offset=".375" stop-color="#ae2f00"/><stop offset=".438" stop-color="#aa2b00"/><stop offset=".5" stop-color="#ff8809"/><stop offset=".562" stop-color="#ff890a"/><stop offset=".594" stop-color="#ff9e1f"/><stop offset=".625" stop-color="#ffbc3d"/><stop offset=".688" stop-color="#ffd555"/><stop offset=".719" stop-color="#ffd656"/><stop offset=".75" stop-color="#ffc849"/><stop offset=".781" stop-color="#ffc343"/><stop offset=".812" stop-color="#ffa526"/><stop offset=".844" stop-color="#cf4f00"/><stop offset=".875" stop-color="#c54500"/><stop offset=".906" stop-color="#ff8d0d"/><stop offset=".938" stop-color="#ffc748"/><stop offset=".969" stop-color="#ffff90"/><stop offset="1" stop-color="#ffffa9"/></linearGradient>
<linearGradient id="c227" x1="0" y1="0" x2="0" y2="1"><stop offset="0" stop-color="#740000"/><stop offset=".062" stop-color="#780000"/><stop offset=".094" stop-color="#7e0000"/><stop offset=".219" stop-color="#730000"/><stop offset=".281" stop-color="#8d0d00"/><stop offset=".312" stop-color="#8d0e00"/><stop offset=".375" stop-color="#a72700"/><stop offset=".406" stop-color="#a92a00"/><stop offset=".438" stop-color="#a22200"/><stop offset=".5" stop-color="#fe7e00"/><stop offset=".562" stop-color="#fc7d00"/><stop offset=".594" stop-color="#ff9010"/><stop offset=".625" stop-color="#ffac2d"/><stop offset=".688" stop-color="#ffc040"/><stop offset=".719" stop-color="#ffbe3f"/><stop offset=".75" stop-color="#ffb333"/><stop offset=".781" stop-color="#ffaf2f"/><stop offset=".812" stop-color="#ff9314"/><stop offset=".844" stop-color="#c34300"/><stop offset=".875" stop-color="#ba3a00"/><stop offset=".906" stop-color="#ff8101"/><stop offset=".938" stop-color="#ffbb3c"/><stop offset=".969" stop-color="#fffe7f"/><stop offset="1" stop-color="#ffff96"/></linearGradient>
<linearGradient id="c228" x1="0" y1="0" x2="0" y2="1"><stop offset="0" stop-color="#770000"/><stop offset=".094" stop-color="#810200"/><stop offset=".219" stop-color="#760000"/><stop offset=".281" stop-color="#911100"/><stop offset=".312" stop-color="#911100"/><stop offset=".375" stop-color="#af2f00"/><stop offset=".406" stop-color="#b23300"/><stop offset=".438" stop-color="#a82900"/><stop offset=".5" stop-color="#ff8c0c"/><stop offset=".531" stop-color="#ff8405"/><stop offset=".562" stop-color="#ff8708"/><stop offset=".594" stop-color="#ff991a"/><stop offset=".625" stop-color="#ffb637"/><stop offset=".656" stop-color="#ffc444"/><stop offset=".688" stop-color="#ffc848"/><stop offset=".781" stop-color="#ffb636"/><stop offset=".812" stop-color="#ff991a"/><stop offset=".844" stop-color="#c84800"/><stop offset=".875" stop-color="#bf4000"/><stop offset=".906" stop-color="#ff8a0b"/><stop offset=".969" stop-color="#ffff91"/><stop offset="1" stop-color="#ffffa8"/></linearGradient>
<linearGradient id="c229" x1="0" y1="0" x2="0" y2="1"><stop offset="0" stop-color="#7b0000"/><stop offset=".094" stop-color="#860600"/><stop offset=".219" stop-color="#7a0000"/><stop offset=".281" stop-color="#951600"/><stop offset=".312" stop-color="#951600"/><stop offset=".344" stop-color="#a22300"/><stop offset=".375" stop-color="#b83800"/><stop offset=".406" stop-color="#bd3e00"/><stop offset=".438" stop-color="#af3000"/><stop offset=".5" stop-color="#ff9b1b"/><stop offset=".531" stop-color="#ff9010"/><stop offset=".562" stop-color="#ff9414"/><stop offset=".594" stop-color="#ffa525"/><stop offset=".625" stop-color="#ffc243"/><stop offset=".656" stop-color="#ffd051"/><stop offset=".688" stop-color="#ffd151"/><stop offset=".75" stop-color="#ffc040"/><stop offset=".781" stop-color="#ffbe3e"/><stop offset=".812" stop-color="#ffa021"/><stop offset=".844" stop-color="#cd4e00"/><stop offset=".875" stop-color="#c54600"/><stop offset=".906" stop-color="#ff9515"/><stop offset=".969" stop-color="#ffffa4"/><stop offset="1" stop-color="#ffffbb"/></linearGradient>
<linearGradient id="c230" x1="0" y1="0" x2="0" y2="1"><stop offset="0" stop-color="#290000"/><stop offset="1" stop-color="#290000"/></linearGradient>
<linearGradient id="c231" x1="0" y1="0" x2="0" y2="1"><stop offset="0" stop-color="#290000"/><stop offset="1" stop-color="#290000"/></linearGradient>
<linearGradient id="c232" x1="0" y1="0" x2="0" y2="1"><stop offset="0" stop-color="#7c0000"/><stop offset=".094" stop-color="#870800"/><stop offset=".219" stop-color="#790000"/><stop offset=".281" stop-color="#971800"/><stop offset=".312" stop-color="#981900"/><stop offset=".344" stop-color="#a62700"/><stop offset=".375" stop-color="#c74700"/><stop offset=".406" stop-color="#d15200"/><stop offset=".438" stop-color="#b83800"/><stop offset=".5" stop-color="#ffb031"/><stop offset=".531" stop-color="#ff9b1b"/><stop offset=".594" stop-color="#ffb333"/><stop offset=".625" stop-color="#ffca4a"/><stop offset=".656" stop-color="#ffd556"/><stop offset=".75" stop-color="#ffbd3d"/><stop offset=".781" stop-color="#ffbe3e"/><stop offset=".812" stop-color="#ff9d1d"/><stop offset=".844" stop-color="#cc4c00"/><stop offset=".875" stop-color="#c54500"/><stop offset=".938" stop-color="#fff474"/><stop offset=".969" stop-color="#ffffba"/><stop offset="1" stop-color="#ffffcc"/></linearGradient>
<linearGradient id="c233" x1="0" y1="0" x2="0" y2="1"><stop offset="0" stop-color="#780000"/><stop offset=".094" stop-color="#830300"/><stop offset=".219" stop-color="#740000"/><stop offset=".281" stop-color="#921200"/><stop offset=".312" stop-color="#931400"/><stop offset=".344" stop-color="#a22200"/><stop offset=".375" stop-color="#c44400"/><stop offset=".406" stop-color="#cf5000"/><stop offset=".438" stop-color="#b43400"/><stop offset=".5" stop-color="#ffaa2a"/><stop offset=".531" stop-color="#ff9313"/><stop offset=".594" stop-color="#ffac2d"/><stop offset=".625" stop-color="#ffbf3f"/><stop offset=".656" stop-color="#ffc647"/><stop offset=".75" stop-color="#ffb031"/><stop offset=".781" stop-color="#ffb132"/><stop offset=".812" stop-color="#ff9011"/><stop offset=".844" stop-color="#c34300"/><stop offset=".875" stop-color="#bd3d00"/><stop offset=".938" stop-color="#ffed6d"/><stop offset=".969" stop-color="#ffffad"/><stop offset="1" stop-color="#ffffbc"/></linearGradient>
<linearGradient id="c234" x1="0" y1="0" x2="0" y2="1"><stop offset="0" stop-color="#290000"/><stop offset="1" stop-color="#290000"/></linearGradient>
<linearGradient id="c235" x1="0" y1="0" x2="0" y2="1"><stop offset="0" stop-color="#7d0000"/><stop offset=".094" stop-color="#870800"/><stop offset=".219" stop-color="#750000"/><stop offset=".281" stop-color="#961600"/><stop offset=".312" stop-color="#9a1a00"/><stop offset=".344" stop-color="#aa2a00"/><stop offset=".375" stop-color="#d25200"/><stop offset=".406" stop-color="#e26200"/><stop offset=".438" stop-color="#bf4000"/><stop offset=".5" stop-color="#ffbc3d"/><stop offset=".531" stop-color="#ff9f1f"/><stop offset=".594" stop-color="#ffc141"/><stop offset=".625" stop-color="#ffcb4c"/><stop offset=".75" stop-color="#ffb93a"/><stop offset=".781" stop-color="#ffbb3b"/><stop offset=".812" stop-color="#ff9516"/><stop offset=".844" stop-color="#c44500"/><stop offset=".875" stop-color="#c04000"/><stop offset=".938" stop-color="#ffff85"/><stop offset=".969" stop-color="#ffffbf"/><stop offset="1" stop-color="#ffffcb"/></linearGradient>
<linearGradient id="c236" x1="0" y1="0" x2="0" y2="1"><stop offset="0" stop-color="#7d0000"/><stop offset=".094" stop-color="#870700"/><stop offset=".219" stop-color="#730000"/><stop offset=".25" stop-color="#800100"/><stop offset=".281" stop-color="#941500"/><stop offset=".312" stop-color="#991a00"/><stop offset=".344" stop-color="#aa2b00"/><stop offset=".375" stop-color="#d45400"/><stop offset=".406" stop-color="#e56600"/><stop offset=".438" stop-color="#c04100"/><stop offset=".5" stop-color="#ffbd3e"/><stop offset=".531" stop-color="#ff9e1e"/><stop offset=".594" stop-color="#ffc444"/><stop offset=".625" stop-color="#ffca4a"/><stop offset=".719" stop-color="#ffb939"/><stop offset=".781" stop-color="#ffb939"/><stop offset=".812" stop-color="#ff9213"/><stop offset=".844" stop-color="#c14200"/><stop offset=".875" stop-color="#bd3e00"/><stop offset=".938" stop-color="#ffff88"/><stop offset=".969" stop-color="#ffffbd"/><stop offset="1" stop-color="#ffffc7"/></linearGradient>
<linearGradient id="c237" x1="0" y1="0" x2="0" y2="1"><stop offset="0" stop-color="#760000"/><stop offset=".094" stop-color="#7f0000"/><stop offset=".219" stop-color="#6b0000"/><stop offset=".25" stop-color="#770000"/><stop offset=".281" stop-color="#8b0b00"/><stop offset=".312" stop-color="#911100"/><stop offset=".344" stop-color="#a12100"/><stop offset=".375" stop-color="#c94a00"/><stop offset=".406" stop-color="#db5b00"/><stop offset=".438" stop-color="#b63700"/><stop offset=".5" stop-color="#ffac2d"/><stop offset=".531" stop-color="#ff8d0d"/><stop offset=".594" stop-color="#ffb434"/><stop offset=".625" stop-color="#ffb637"/><stop offset=".688" stop-color="#ffa626"/><stop offset=".781" stop-color="#ffa626"/><stop offset=".812" stop-color="#ff8001"/><stop offset=".844" stop-color="#b43400"/><stop offset=".875" stop-color="#b13100"/><stop offset=".938" stop-color="#fff373"/><stop offset=".969" stop-color="#ffffa2"/><stop offset="1" stop-color="#ffffaa"/></linearGradient>
<linearGradient id="c238" x1="0" y1="0" x2="0" y2="1"><stop offset="0" stop-color="#750000"/><stop offset=".094" stop-color="#7d0000"/><stop offset=".219" stop-color="#690000"/><stop offset=".25" stop-color="#750000"/><stop offset=".281" stop-color="#890a00"/><stop offset=".312" stop-color="#8f1000"/><stop offset=".344" stop-color="#a02000"/><stop offset=".375" stop-color="#c94900"/><stop offset=".406" stop-color="#db5b00"/><stop offset=".438" stop-color="#b63600"/><stop offset=".5" stop-color="#ffaa2b"/><stop offset=".531" stop-color="#ff8a0b"/><stop offset=".562" stop-color="#ffa323"/><stop offset=".594" stop-color="#ffb333"/><stop offset=".625" stop-color="#ffb334"/><stop offset=".656" stop-color="#ffa526"/><stop offset=".719" stop-color="#ffa223"/><stop offset=".781" stop-color="#ffa223"/><stop offset=".812" stop-color="#fd7d00"/><stop offset=".844" stop-color="#b13100"/><stop offset=".875" stop-color="#ae2f00"/><stop offset=".938" stop-color="#fff272"/><stop offset=".969" stop-color="#ffff9e"/><stop offset="1" stop-color="#ffffa5"/></linearGradient>
<linearGradient id="c239" x1="0" y1="0" x2="0" y2="1"><stop offset="0" stop-color="#790000"/><stop offset=".094" stop-color="#810200"/><stop offset=".219" stop-color="#6c0000"/><stop offset=".25" stop-color="#780000"/><stop offset=".281" stop-color="#8d0e00"/><stop offset=".312" stop-color="#941500"/><stop offset=".344" stop-color="#a52600"/><stop offset=".375" stop-color="#d05100"/><stop offset=".406" stop-color="#e36400"/><stop offset=".438" stop-color="#bc3c00"/><stop offset=".5" stop-color="#ffb435"/><stop offset=".531" stop-color="#ff9314"/><stop offset=".562" stop-color="#ffad2d"/><stop offset=".594" stop-color="#ffbe3e"/><stop offset=".625" stop-color="#ffbd3d"/><stop offset=".656" stop-color="#ffad2e"/><stop offset=".688" stop-color="#ffa829"/><stop offset=".781" stop-color="#ffac2c"/><stop offset=".812" stop-color="#ff8505"/><stop offset=".844" stop-color="#b53600"/><stop offset=".875" stop-color="#b33400"/><stop offset=".938" stop-color="#fffe7f"/><stop offset=".969" stop-color="#ffffab"/><stop offset="1" stop-color="#ffffb1"/></linearGradient>
<linearGradient id="c240" x1="0" y1="0" x2="0" y2="1"><stop offset="0" stop-color="#410000"/><stop offset=".094" stop-color="#460000"/><stop offset=".219" stop-color="#3a0000"/><stop offset=".344" stop-color="#590000"/><stop offset=".375" stop-color="#710000"/><stop offset=".406" stop-color="#7b0000"/><stop offset=".438" stop-color="#660000"/><stop offset=".5" stop-color="#a72700"/><stop offset=".531" stop-color="#941500"/><stop offset=".594" stop-color="#ac2c00"/><stop offset=".688" stop-color="#a02000"/><stop offset=".781" stop-color="#a22200"/><stop offset=".812" stop-color="#8d0d00"/><stop offset=".844" stop-color="#620000"/><stop offset=".875" stop-color="#610000"/><stop offset=".938" stop-color="#cf4f00"/><stop offset=".969" stop-color="#e66700"/><stop offset="1" stop-color="#ea6a00"/></linearGradient>
</defs>
<rect width="1020" height="886" fill="#fff"/>
<rect x="119.00" y="32.3" width="760.40" height="316.3" fill="url(#c0)"/>
<rect x="122.16" y="32.3" width="757.24" height="316.3" fill="url(#c1)"/>
<rect x="125.31" y="32.3" width="754.09" height="316.3" fill="url(#c2)"/>
<rect x="128.47" y="32.3" width="750.93" height="316.3" fill="url(#c3)"/>
<rect x="131.62" y="32.3" width="747.78" height="316.3" fill="url(#c4)"/>
<rect x="134.78" y="32.3" width="744.62" height="316.3" fill="url(#c5)"/>
<rect x="137.93" y="32.3" width="741.47" height="316.3" fill="url(#c6)"/>
<rect x="141.09" y="32.3" width="738.31" height="316.3" fill="url(#c7)"/>
<rect x="144.24" y="32.3" width="735.16" height="316.3" fill="url(#c8)"/>
<rect x="147.40" y="32.3" width="732.00" height="316.3" fill="url(#c9)"/>
<rect x="150.55" y="32.3" width="728.85" height="316.3" fill="url(#c10)"/>
<rect x="153.71" y="32.3" width="725.69" height="316.3" fill="url(#c11)"/>
<rect x="156.86" y="32.3" width="722.54" height="316.3" fill="url(#c12)"/>
<rect x="160.02" y="32.3" width="719.38" height="316.3" fill="url(#c13)"/>
<rect x="163.17" y="32.3" width="716.23" height="316.3" fill="url(#c14)"/>
<rect x="166.33" y="32.3" width="713.07" height="316.3" fill="url(#c15)"/>
<rect x="169.48" y="32.3" width="709.92" height="316.3" fill="url(#c16)"/>
<rect x="172.64" y="32.3" width="706.76" height="316.3" fill="url(#c17)"/>
<rect x="175.79" y="32.3" width="703.61" height="316.3" fill="url(#c18)"/>
<rect x="178.95" y="32.3" width="700.45" height="316.3" fill="url(#c19)"/>
<rect x="182.10" y="32.3" width="697.30" height="316.3" fill="url(#c20)"/>
<rect x="185.26" y="32.3" width="694.14" height="316.3" fill="url(#c21)"/>
<rect x="188.41" y="32.3" width="690.99" height="316.3" fill="url(#c22)"/>
<rect x="191.57" y="32.3" width="687.83" height="316.3" fill="url(#c23)"/>
<rect x="194.72" y="32.3" width="684.68" height="316.3" fill="url(#c24)"/>
<rect x="197.88" y="32.3" width="681.52" height="316.3" fill="url(#c25)"/>
<rect x="201.03" y="32.3" width="678.37" height="316.3" fill="url(#c26)"/>
<rect x="204.19" y="32.3" width="675.21" height="316.3" fill="url(#c27)"/>
<rect x="207.35" y="32.3" width="672.05" height="316.3" fill="url(#c28)"/>
<rect x="210.50" y="32.3" width="668.90" height="316.3" fill="url(#c29)"/>
<rect x="213.66" y="32.3" width="665.74" height="316.3" fill="url(#c30)"/>
<rect x="216.81" y="32.3" width="662.59" height="316.3" fill="url(#c31)"/>
<rect x="219.97" y="32.3" width="659.43" height="316.3" fill="url(#c32)"/>
<rect x="223.12" y="32.3" width="656.28" height="316.3" fill="url(#c33)"/>
<rect x="226.28" y="32.3" width="653.12" height="316.3" fill="url(#c34)"/>
<rect x="229.43" y="32.3" width="649.97" height="316.3" fill="url(#c35)"/>
<rect x="232.59" y="32.3" width="646.81" height="316.3" fill="url(#c36)"/>
<rect x="235.74" y="32.3" width="643.66" height="316.3" fill="url(#c37)"/>
<rect x="238.90" y="32.3" width="640.50" height="316.3" fill="url(#c38)"/>
<rect x="242.05" y="32.3" width="637.35" height="316.3" fill="url(#c39)"/>
<rect x="245.21" y="32.3" width="634.19" height="316.3" fill="url(#c40)"/>
<rect x="248.36" y="32.3" width="631.04" height="316.3" fill="url(#c41)"/>
<rect x="251.52" y="32.3" width="627.88" height="316.3" fill="url(#c42)"/>
<rect x="254.67" y="32.3" width="624.73" height="316.3" fill="url(#c43)"/>
<rect x="257.83" y="32.3" width="621.57" height="316.3" fill="url(#c44)"/>
<rect x="260.98" y="32.3" width="618.42" height="316.3" fill="url(#c45)"/>
<rect x="264.14" y="32.3" width="615.26" height="316.3" fill="url(#c46)"/>
<rect x="267.29" y="32.3" width="612.11" height="316.3" fill="url(#c47)"/>
<rect x="270.45" y="32.3" width="608.95" height="316.3" fill="url(#c48)"/>
<rect x="273.60" y="32.3" width="605.80" height="316.3" fill="url(#c49)"/>
<rect x="276.76" y="32.3" width="602.64" height="316.3" fill="url(#c50)"/>
<rect x="279.91" y="32.3" width="599.49" height="316.3" fill="url(#c51)"/>
<rect x="283.07" y="32.3" width="596.33" height="316.3" fill="url(#c52)"/>
<rect x="286.22" y="32.3" width="593.18" height="316.3" fill="url(#c53)"/>
<rect x="289.38" y="32.3" width="590.02" height="316.3" fill="url(#c54)"/>
<rect x="292.54" y="32.3" width="586.86" height="316.3" fill="url(#c55)"/>
<rect x="295.69" y="32.3" width="583.71" height="316.3" fill="url(#c56)"/>
<rect x="298.85" y="32.3" width="580.55" height="316.3" fill="url(#c57)"/>
<rect x="302.00" y="32.3" width="577.40" height="316.3" fill="url(#c58)"/>
<rect x="305.16" y="32.3" width="574.24" height="316.3" fill="url(#c59)"/>
<rect x="308.31" y="32.3" width="571.09" height="316.3" fill="url(#c60)"/>
<rect x="311.47" y="32.3" width="567.93" height="316.3" fill="url(#c61)"/>
<rect x="314.62" y="32.3" width="564.78" height="316.3" fill="url(#c62)"/>
<rect x="317.78" y="32.3" width="561.62" height="316.3" fill="url(#c63)"/>
<rect x="320.93" y="32.3" width="558.47" height="316.3" fill="url(#c64)"/>
<rect x="324.09" y="32.3" width="555.31" height="316.3" fill="url(#c65)"/>
<rect x="327.24" y="32.3" width="552.16" height="316.3" fill="url(#c66)"/>
<rect x="330.40" y="32.3" width="549.00" height="316.3" fill="url(#c67)"/>
<rect x="333.55" y="32.3" width="545.85" height="316.3" fill="url(#c68)"/>
<rect x="336.71" y="32.3" width="542.69" height="316.3" fill="url(#c69)"/>
<rect x="339.86" y="32.3" width="539.54" height="316.3" fill="url(#c70)"/>
<rect x="343.02" y="32.3" width="536.38" height="316.3" fill="url(#c71)"/>
<rect x="346.17" y="32.3" width="533.23" height="316.3" fill="url(#c72)"/>
<rect x="349.33" y="32.3" width="530.07" height="316.3" fill="url(#c73)"/>
<rect x="352.48" y="32.3" width="526.92" height="316.3" fill="url(#c74)"/>
<rect x="355.64" y="32.3" width="523.76" height="316.3" fill="url(#c75)"/>
<rect x="358.79" y="32.3" width="520.61" height="316.3" fill="url(#c76)"/>
<rect x="361.95" y="32.3" width="517.45" height="316.3" fill="url(#c77)"/>
<rect x="365.10" y="32.3" width="514.30" height="316.3" fill="url(#c78)"/>
<rect x="368.26" y="32.3" width="511.14" height="316.3" fill="url(#c79)"/>
<rect x="371.41" y="32.3" width="507.99" height="316.3" fill="url(#c80)"/>
<rect x="374.57" y="32.3" width="504.83" height="316.3" fill="url(#c81)"/>
<rect x="377.73" y="32.3" width="501.67" height="316.3" fill="url(#c82)"/>
<rect x="380.88" y="32.3" width="498.52" height="316.3" fill="url(#c83)"/>
<rect x="384.04" y="32.3" width="495.36" height="316.3" fill="url(#c84)"/>
<rect x="387.19" y="32.3" width="492.21" height="316.3" fill="url(#c85)"/>
<rect x="390.35" y="32.3" width="489.05" height="316.3" fill="url(#c86)"/>
<rect x="393.50" y="32.3" width="485.90" height="316.3" fill="url(#c87)"/>
<rect x="396.66" y="32.3" width="482.74" height="316.3" fill="url(#c88)"/>
<rect x="399.81" y="32.3" width="479.59" height="316.3" fill="url(#c89)"/>
<rect x="402.97" y="32.3" width="476.43" height="316.3" fill="url(#c90)"/>
<rect x="406.12" y="32.3" width="473.28" height="316.3" fill="url(#c91)"/>
<rect x="409.28" y="32.3" width="470.12" height="316.3" fill="url(#c92)"/>
<rect x="412.43" y="32.3" width="466.97" height="316.3" fill="url(#c93)"/>
<rect x="415.59" y="32.3" width="463.81" height="316.3" fill="url(#c94)"/>
<rect x="418.74" y="32.3" width="460.66" height="316.3" fill="url(#c95)"/>
<rect x="421.90" y="32.3" width="457.50" height="316.3" fill="url(#c96)"/>
<rect x="425.05" y="32.3" width="454.35" height="316.3" fill="url(#c97)"/>
<rect x="428.21" y="32.3" width="451.19" height="316.3" fill="url(#c98)"/>
<rect x="431.36" y="32.3" width="448.04" height="316.3" fill="url(#c99)"/>
<rect x="434.52" y="32.3" width="444.88" height="316.3" fill="url(#c100)"/>
<rect x="437.67" y="32.3" width="441.73" height="316.3" fill="url(#c101)"/>
<rect x="440.83" y="32.3" width="438.57" height="316.3" fill="url(#c102)"/>
<rect x="443.98" y="32.3" width="435.42" height="316.3" fill="url(#c103)"/>
<rect x="447.14" y="32.3" width="432.26" height="316.3" fill="url(#c104)"/>
<rect x="450.29" y="32.3" width="429.11" height="316.3" fill="url(#c105)"/>
<rect x="453.45" y="32.3" width="425.95" height="316.3" fill="url(#c106)"/>
<rect x="456.60" y="32.3" width="422.80" height="316.3" fill="url(#c107)"/>
<rect x="459.76" y="32.3" width="419.64" height="316.3" fill="url(#c108)"/>
<rect x="462.92" y="32.3" width="416.48" height="316.3" fill="url(#c109)"/>
<rect x="466.07" y="32.3" width="413.33" height="316.3" fill="url(#c110)"/>
<rect x="469.23" y="32.3" width="410.17" height="316.3" fill="url(#c111)"/>
<rect x="472.38" y="32.3" width="407.02" height="316.3" fill="url(#c112)"/>
<rect x="475.54" y="32.3" width="403.86" height="316.3" fill="url(#c113)"/>
<rect x="478.69" y="32.3" width="400.71" height="316.3" fill="url(#c114)"/>
<rect x="481.85" y="32.3" width="397.55" height="316.3" fill="url(#c115)"/>
<rect x="485.00" y="32.3" width="394.40" height="316.3" fill="url(#c116)"/>
<rect x="488.16" y="32.3" width="391.24" height="316.3" fill="url(#c117)"/>
<rect x="491.31" y="32.3" width="388.09" height="316.3" fill="url(#c118)"/>
<rect x="494.47" y="32.3" width="384.93" height="316.3" fill="url(#c119)"/>
<rect x="497.62" y="32.3" width="381.78" height="316.3" fill="url(#c120)"/>
<rect x="500.78" y="32.3" width="378.62" height="316.3" fill="url(#c121)"/>
<rect x="503.93" y="32.3" width="375.47" height="316.3" fill="url(#c122)"/>
<rect x="507.09" y="32.3" width="372.31" height="316.3" fill="url(#c123)"/>
<rect x="510.24" y="32.3" width="369.16" height="316.3" fill="url(#c124)"/>
<rect x="513.40" y="32.3" width="366.00" height="316.3" fill="url(#c125)"/>
<rect x="516.55" y="32.3" width="362.85" height="316.3" fill="url(#c126)"/>
<rect x="519.71" y="32.3" width="359.69" height="316.3" fill="url(#c127)"/>
<rect x="522.86" y="32.3" width="356.54" height="316.3" fill="url(#c128)"/>
<rect x="526.02" y="32.3" width="353.38" height="316.3" fill="url(#c129)"/>
<rect x="529.17" y="32.3" width="350.23" height="316.3" fill="url(#c130)"/>
<rect x="532.33" y="32.3" width="347.07" height="316.3" fill="url(#c131)"/>
<rect x="535.48" y="32.3" width="343.92" height="316.3" fill="url(#c132)"/>
<rect x="538.64" y="32.3" width="340.76" height="316.3" fill="url(#c133)"/>
<rect x="541.80" y="32.3" width="337.60" height="316.3" fill="url(#c134)"/>
<rect x="544.95" y="32.3" width="334.45" height="316.3" fill="url(#c135)"/>
<rect x="548.11" y="32.3" width="331.29" height="316.3" fill="url(#c136)"/>
<rect x="551.26" y="32.3" width="328.14" height="316.3" fill="url(#c137)"/>
<rect x="554.42" y="32.3" width="324.98" height="316.3" fill="url(#c138)"/>
<rect x="557.57" y="32.3" width="321.83" height="316.3" fill="url(#c139)"/>
<rect x="560.73" y="32.3" width="318.67" height="316.3" fill="url(#c140)"/>
<rect x="563.88" y="32.3" width="315.52" height="316.3" fill="url(#c141)"/>
<rect x="567.04" y="32.3" width="312.36" height="316.3" fill="url(#c142)"/>
<rect x="570.19" y="32.3" width="309.21" height="316.3" fill="url(#c143)"/>
<rect x="573.35" y="32.3" width="306.05" height="316.3" fill="url(#c144)"/>
<rect x="576.50" y="32.3" width="302.90" height="316.3" fill="url(#c145)"/>
<rect x="579.66" y="32.3" width="299.74" height="316.3" fill="url(#c146)"/>
<rect x="582.81" y="32.3" width="296.59" height="316.3" fill="url(#c147)"/>
<rect x="585.97" y="32.3" width="293.43" height="316.3" fill="url(#c148)"/>
<rect x="589.12" y="32.3" width="290.28" height="316.3" fill="url(#c149)"/>
<rect x="592.28" y="32.3" width="287.12" height="316.3" fill="url(#c150)"/>
<rect x="595.43" y="32.3" width="283.97" height="316.3" fill="url(#c151)"/>
<rect x="598.59" y="32.3" width="280.81" height="316.3" fill="url(#c152)"/>
<rect x="601.74" y="32.3" width="277.66" height="316.3" fill="url(#c153)"/>
<rect x="604.90" y="32.3" width="274.50" height="316.3" fill="url(#c154)"/>
<rect x="608.05" y="32.3" width="271.35" height="316.3" fill="url(#c155)"/>
<rect x="611.21" y="32.3" width="268.19" height="316.3" fill="url(#c156)"/>
<rect x="614.36" y="32.3" width="265.04" height="316.3" fill="url(#c157)"/>
<rect x="617.52" y="32.3" width="261.88" height="316.3" fill="url(#c158)"/>
<rect x="620.67" y="32.3" width="258.73" height="316.3" fill="url(#c159)"/>
<rect x="623.83" y="32.3" width="255.57" height="316.3" fill="url(#c160)"/>
<rect x="626.99" y="32.3" width="252.41" height="316.3" fill="url(#c161)"/>
<rect x="630.14" y="32.3" width="249.26" height="316.3" fill="url(#c162)"/>
<rect x="633.30" y="32.3" width="246.10" height="316.3" fill="url(#c163)"/>
<rect x="636.45" y="32.3" width="242.95" height="316.3" fill="url(#c164)"/>
<rect x="639.61" y="32.3" width="239.79" height="316.3" fill="url(#c165)"/>
<rect x="642.76" y="32.3" width="236.64" height="316.3" fill="url(#c166)"/>
<rect x="645.92" y="32.3" width="233.48" height="316.3" fill="url(#c167)"/>
<rect x="649.07" y="32.3" width="230.33" height="316.3" fill="url(#c168)"/>
<rect x="652.23" y="32.3" width="227.17" height="316.3" fill="url(#c169)"/>
<rect x="655.38" y="32.3" width="224.02" height="316.3" fill="url(#c170)"/>
<rect x="658.54" y="32.3" width="220.86" height="316.3" fill="url(#c171)"/>
<rect x="661.69" y="32.3" width="217.71" height="316.3" fill="url(#c172)"/>
<rect x="664.85" y="32.3" width="214.55" height="316.3" fill="url(#c173)"/>
<rect x="668.00" y="32.3" width="211.40" height="316.3" fill="url(#c174)"/>
<rect x="671.16" y="32.3" width="208.24" height="316.3" fill="url(#c175)"/>
<rect x="674.31" y="32.3" width="205.09" height="316.3" fill="url(#c176)"/>
<rect x="677.47" y="32.3" width="201.93" height="316.3" fill="url(#c177)"/>
<rect x="680.62" y="32.3" width="198.78" height="316.3" fill="url(#c178)"/>
<rect x="683.78" y="32.3" width="195.62" height="316.3" fill="url(#c179)"/>
<rect x="686.93" y="32.3" width="192.47" height="316.3" fill="url(#c180)"/>
<rect x="690.09" y="32.3" width="189.31" height="316.3" fill="url(#c181)"/>
<rect x="693.24" y="32.3" width="186.16" height="316.3" fill="url(#c182)"/>
<rect x="696.40" y="32.3" width="183.00" height="316.3" fill="url(#c183)"/>
<rect x="699.55" y="32.3" width="179.85" height="316.3" fill="url(#c184)"/>
<rect x="702.71" y="32.3" width="176.69" height="316.3" fill="url(#c185)"/>
<rect x="705.86" y="32.3" width="173.54" height="316.3" fill="url(#c186)"/>
<rect x="709.02" y="32.3" width="170.38" height="316.3" fill="url(#c187)"/>
<rect x="712.18" y="32.3" width="167.22" height="316.3" fill="url(#c188)"/>
<rect x="715.33" y="32.3" width="164.07" height="316.3" fill="url(#c189)"/>
<rect x="718.49" y="32.3" width="160.91" height="316.3" fill="url(#c190)"/>
<rect x="721.64" y="32.3" width="157.76" height="316.3" fill="url(#c191)"/>
<rect x="724.80" y="32.3" width="154.60" height="316.3" fill="url(#c192)"/>
<rect x="727.95" y="32.3" width="151.45" height="316.3" fill="url(#c193)"/>
<rect x="731.11" y="32.3" width="148.29" height="316.3" fill="url(#c194)"/>
<rect x="734.26" y="32.3" width="145.14" height="316.3" fill="url(#c195)"/>
<rect x="737.42" y="32.3" width="141.98" height="316.3" fill="url(#c196)"/>
<rect x="740.57" y="32.3" width="138.83" height="316.3" fill="url(#c197)"/>
<rect x="743.73" y="32.3" width="135.67" height="316.3" fill="url(#c198)"/>
<rect x="746.88" y="32.3" width="132.52" height="316.3" fill="url(#c199)"/>
<rect x="750.04" y="32.3" width="129.36" height="316.3" fill="url(#c200)"/>
<rect x="753.19" y="32.3" width="126.21" height="316.3" fill="url(#c201)"/>
<rect x="756.35" y="32.3" width="123.05" height="316.3" fill="url(#c202)"/>
<rect x="759.50" y="32.3" width="119.90" height="316.3" fill="url(#c203)"/>
<rect x="762.66" y="32.3" width="116.74" height="316.3" fill="url(#c204)"/>
<rect x="765.81" y="32.3" width="113.59" height="316.3" fill="url(#c205)"/>
<rect x="768.97" y="32.3" width="110.43" height="316.3" fill="url(#c206)"/>
<rect x="772.12" y="32.3" width="107.28" height="316.3" fill="url(#c207)"/>
<rect x="775.28" y="32.3" width="104.12" height="316.3" fill="url(#c208)"/>
<rect x="778.43" y="32.3" width="100.97" height="316.3" fill="url(#c209)"/>
<rect x="781.59" y="32.3" width="97.81" height="316.3" fill="url(#c210)"/>
<rect x="784.74" y="32.3" width="94.66" height="316.3" fill="url(#c211)"/>
<rect x="787.90" y="32.3" width="91.50" height="316.3" fill="url(#c212)"/>
<rect x="791.05" y="32.3" width="88.35" height="316.3" fill="url(#c213)"/>
<rect x="794.21" y="32.3" width="85.19" height="316.3" fill="url(#c214)"/>
<rect x="797.37" y="32.3" width="82.03" height="316.3" fill="url(#c215)"/>
<rect x="800.52" y="32.3" width="78.88" height="316.3" fill="url(#c216)"/>
<rect x="803.68" y="32.3" width="75.72" height="316.3" fill="url(#c217)"/>
<rect x="806.83" y="32.3" width="72.57" height="316.3" fill="url(#c218)"/>
<rect x="809.99" y="32.3" width="69.41" height="316.3" fill="url(#c219)"/>
<rect x="813.14" y="32.3" width="66.26" height="316.3" fill="url(#c220)"/>
<rect x="816.30" y="32.3" width="63.10" height="316.3" fill="url(#c221)"/>
<rect x="819.45" y="32.3" width="59.95" height="316.3" fill="url(#c222)"/>
<rect x="822.61" y="32.3" width="56.79" height="316.3" fill="url(#c223)"/>
<rect x="825.76" y="32.3" width="53.64" height="316.3" fill="url(#c224)"/>
<rect x="828.92" y="32.3" width="50.48" height="316.3" fill="url(#c225)"/>
<rect x="832.07" y="32.3" width="47.33" height="316.3" fill="url(#c226)"/>
<rect x="835.23" y="32.3" width="44.17" height="316.3" fill="url(#c227)"/>
<rect x="838.38" y="32.3" width="41.02" height="316.3" fill="url(#c228)"/>
<rect x="841.54" y="32.3" width="37.86" height="316.3" fill="url(#c229)"/>
<rect x="844.69" y="32.3" width="34.71" height="316.3" fill="url(#c230)"/>
<rect x="847.85" y="32.3" width="31.55" height="316.3" fill="url(#c231)"/>
<rect x="851.00" y="32.3" width="28.40" height="316.3" fill="url(#c232)"/>
<rect x="854.16" y="32.3" width="25.24" height="316.3" fill="url(#c233)"/>
<rect x="857.31" y="32.3" width="22.09" height="316.3" fill="url(#c234)"/>
<rect x="860.47" y="32.3" width="18.93" height="316.3" fill="url(#c235)"/>
<rect x="863.62" y="32.3" width="15.78" height="316.3" fill="url(#c236)"/>
<rect x="866.78" y="32.3" width="12.62" height="316.3" fill="url(#c237)"/>
<rect x="869.93" y="32.3" width="9.47" height="316.3" fill="url(#c238)"/>
<rect x="873.09" y="32.3" width="6.31" height="316.3" fill="url(#c239)"/>
<rect x="876.24" y="32.3" width="3.16" height="316.3" fill="url(#c240)"/>
<filter id="nz1" x="0" y="0" width="1" height="1" color-interpolation-filters="sRGB"><feTurbulence type="fractalNoise" baseFrequency="0.3 0.47" numOctaves="1" seed="11"/><feColorMatrix type="matrix" values="1 0 0 0 0 1 0 0 0 0 1 0 0 0 0 1 0 0 0 0"/><feComponentTransfer><feFuncR type="discrete" tableValues="0.3 1"/><feFuncG type="discrete" tableValues="0 0.7"/><feFuncB type="discrete" tableValues="0 0.15"/><feFuncA type="table" tableValues="0.22 0 0.2"/></feComponentTransfer></filter>
<rect x="119.0" y="32.3" width="760.4" height="316.3" fill="none" filter="url(#nz1)"/>
<filter id="nz" x="0" y="0" width="1" height="1" color-interpolation-filters="sRGB"><feTurbulence type="fractalNoise" baseFrequency="0.27 0.8" numOctaves="1" seed="3"/><feColorMatrix type="matrix" values="1 0 0 0 0 1 0 0 0 0 1 0 0 0 0 0 0 0 0 1"/><feComponentTransfer><feFuncR type="table" tableValues="0.495 0.529 0.563 0.595 0.626 0.656 0.685 0.712 0.739 0.765 0.789 0.812 0.835 0.856 0.876 0.894 0.912 0.929 0.944 0.959 0.972 0.984 0.995 1.000 1.000 1.000 1.000 1.000 1.000 1.000 1.000 1.000 1.000 1.000 1.000 1.000 1.000 1.000 1.000 1.000 1.000"/><feFuncG type="table" tableValues="0.000 0.029 0.063 0.095 0.126 0.156 0.185 0.212 0.239 0.265 0.289 0.312 0.335 0.356 0.376 0.394 0.412 0.429 0.444 0.459 0.472 0.484 0.495 0.505 0.514 0.522 0.528 0.534 0.538 0.542 0.544 0.545 0.545 0.544 0.541 0.538 0.533 0.528 0.521 0.513 0.504"/><feFuncB type="table" tableValues="0.000 0.000 0.000 0.000 0.000 0.000 0.000 0.000 0.000 0.000 0.000 0.000 0.000 0.000 0.000 0.000 0.000 0.000 0.000 0.000 0.000 0.000 0.000 0.005 0.014 0.022 0.028 0.034 0.038 0.042 0.044 0.045 0.045 0.044 0.041 0.038 0.033 0.028 0.021 0.013 0.004"/></feComponentTransfer></filter>
<filter id="b2" x="-0.1" y="-3" width="1.2" height="7"><feGaussianBlur stdDeviation="0 1.6"/></filter>
<filter id="b3" x="-0.5" y="-0.5" width="2" height="2"><feGaussianBlur stdDeviation="2.2"/></filter>
<radialGradient id="glow"><stop offset="0" stop-color="#fff2a0" stop-opacity="0.95"/><stop offset="0.25" stop-color="#ffd060" stop-opacity="0.6"/><stop offset="0.6" stop-color="#ffb030" stop-opacity="0.22"/><stop offset="1" stop-color="#ffa020" stop-opacity="0"/></radialGradient>
<linearGradient id="hl" x1="0" y1="0" x2="1" y2="0"><stop offset="0" stop-color="#ffbc48"/><stop offset="0.35" stop-color="#ffc452"/><stop offset="0.46" stop-color="#ffe88c"/><stop offset="0.54" stop-color="#ffe88c"/><stop offset="0.65" stop-color="#ffc452"/><stop offset="1" stop-color="#ffbc48"/></linearGradient>
<linearGradient id="arcg" gradientUnits="userSpaceOnUse" x1="439" y1="0" x2="559.4" y2="0"><stop offset="0" stop-color="#ffb840" stop-opacity="0.15"/><stop offset="0.2" stop-color="#ffc048" stop-opacity="0.75"/><stop offset="0.42" stop-color="#ffe080" stop-opacity="1"/><stop offset="0.58" stop-color="#ffe080" stop-opacity="1"/><stop offset="0.8" stop-color="#ffc048" stop-opacity="0.75"/><stop offset="1" stop-color="#ffb840" stop-opacity="0.15"/></linearGradient>
<clipPath id="cp2"><rect x="119.0" y="470.4" width="760.4" height="316.5"/></clipPath>
<g clip-path="url(#cp2)">
<rect x="119.0" y="470.4" width="760.4" height="316.5" fill="#f37300"/>
<rect x="119.0" y="470.4" width="760.4" height="316.5" fill="none" filter="url(#nz)"/>
<ellipse cx="499.2" cy="628.6" rx="60" ry="40" fill="url(#glow)" opacity="0.8"/>
<g filter="url(#b3)" fill="none" stroke="url(#arcg)" stroke-width="5" opacity="0.85">
<path d="M495.2 628.9L492.8 629.3L490.3 629.9L487.9 630.7L485.5 631.7L483.0 632.9L480.6 634.2L478.2 635.8L475.7 637.6L473.3 639.5L470.9 641.7L468.4 644.0L466.0 646.6L463.5 649.3L461.1 652.2L458.7 655.3L456.2 658.7L453.8 662.2L451.4 665.9L448.9 669.7L446.5 673.8L444.1 678.1L441.6 682.6L439.2 687.2"/><path d="M503.2 628.9L505.6 629.3L508.1 629.9L510.5 630.7L512.9 631.7L515.4 632.9L517.8 634.2L520.2 635.8L522.7 637.6L525.1 639.5L527.5 641.7L530.0 644.0L532.4 646.6L534.9 649.3L537.3 652.2L539.7 655.3L542.2 658.7L544.6 662.2L547.0 665.9L549.5 669.7L551.9 673.8L554.3 678.1L556.8 682.6L559.2 687.2"/>
</g>
<rect x="119.0" y="626.1" width="760.4" height="5" fill="url(#hl)" opacity="0.6" filter="url(#b2)"/>
<rect x="119.0" y="627.4" width="760.4" height="2.4" fill="url(#hl)" opacity="1"/>
<ellipse cx="499.2" cy="628.6" rx="34" ry="14" fill="url(#glow)"/>
<ellipse cx="499.2" cy="629.6" rx="20" ry="16" fill="url(#glow)" opacity="0.8"/>
<rect x="491.1" y="470.4" width="12.8" height="316.5" fill="#dc5d00"/>
<path d="M423.2 540.6L424.9 544.6L426.6 548.5L428.4 552.3L430.1 556.0L431.9 559.6L433.6 563.1L435.4 566.6L437.1 569.9L438.8 573.1L440.6 576.3L442.3 579.4L444.1 582.3L445.8 585.2L447.5 588.0L449.3 590.7L451.0 593.3L452.8 595.8L454.5 598.2L456.3 600.5L458.0 602.8L459.7 604.9L461.5 606.9L463.2 608.9L465.0 610.8L466.7 612.5L468.5 614.2L470.2 615.8L471.9 617.3L473.7 618.7L475.4 620.0L477.2 621.2L478.9 622.3L480.6 623.4L482.4 624.3L484.1 625.1L485.9 625.9L487.6 626.6L489.4 627.1L491.1 627.6" fill="none" stroke="#6a93c8" stroke-width="1.05"/>
<path d="M503.9 628.3L505.7 627.9L507.6 627.5L509.4 627.0L511.2 626.4L513.0 625.6L514.9 624.8L516.7 623.9L518.5 622.8L520.4 621.7L522.2 620.4L524.0 619.1L525.9 617.6L527.7 616.0L529.5 614.4L531.3 612.6L533.2 610.7L535.0 608.8L536.8 606.7L538.7 604.5L540.5 602.2L542.3 599.8L544.1 597.3L546.0 594.7L547.8 592.0L549.6 589.2L551.5 586.3L553.3 583.3L555.1 580.2L556.9 577.0L558.8 573.6L560.6 570.2L562.4 566.7L564.3 563.0L566.1 559.3L567.9 555.5L569.8 551.5L571.6 547.5L573.4 543.3L575.2 539.0" fill="none" stroke="#5583be" stroke-width="1.05"/>
</g>
<rect x="887.6" y="32.3" width="15.0" height="316.3" fill="url(#cb)" stroke="#708090" stroke-width="2.8"/>
<rect x="119.0" y="32.3" width="760.4" height="316.3" fill="none" stroke="#708090" stroke-width="2.8"/>
<rect x="887.6" y="470.4" width="15.0" height="316.5" fill="url(#cb)" stroke="#708090" stroke-width="2.8"/>
<rect x="119.0" y="470.4" width="760.4" height="316.5" fill="none" stroke="#708090" stroke-width="2.8"/>
<path d="M119.0 350.0L119.0 367.2M213.6 350.0L213.6 367.2M308.3 350.0L308.3 367.2M402.9 350.0L402.9 367.2M497.6 350.0L497.6 367.2M592.2 350.0L592.2 367.2M686.8 350.0L686.8 367.2M781.5 350.0L781.5 367.2M876.1 350.0L876.1 367.2M117.6 32.3L100.4 32.3M117.6 95.6L100.4 95.6M117.6 158.8L100.4 158.8M117.6 222.1L100.4 222.1M117.6 285.3L100.4 285.3M117.6 348.6L100.4 348.6M195.0 788.3L195.0 805.5M347.1 788.3L347.1 805.5M499.2 788.3L499.2 805.5M651.3 788.3L651.3 805.5M803.4 788.3L803.4 805.5M117.6 474.3L100.4 474.3M117.6 551.5L100.4 551.5M117.6 628.7L100.4 628.7M117.6 705.9L100.4 705.9M117.6 783.1L100.4 783.1M904.0 55.7L921.4 55.7M904.0 109.3L921.4 109.3M904.0 162.8L921.4 162.8M904.0 216.4L921.4 216.4M904.0 269.9L921.4 269.9M904.0 323.5L921.4 323.5M904.0 472.3L921.4 472.3M904.0 532.4L921.4 532.4M904.0 592.5L921.4 592.5M904.0 652.5L921.4 652.5M904.0 712.6L921.4 712.6M904.0 772.7L921.4 772.7" stroke="#6b6b73" stroke-width="1.4" fill="none"/>
<text x="509.6" y="24.8" font-size="33.2" text-anchor="middle">PSR J1932+1059 MJD 59062</text>
<text x="119.0" y="398.7" font-size="28.3" text-anchor="middle">0</text>
<text x="213.6" y="398.7" font-size="28.3" text-anchor="middle">5</text>
<text x="308.3" y="398.7" font-size="28.3" text-anchor="middle">10</text>
<text x="402.9" y="398.7" font-size="28.3" text-anchor="middle">15</text>
<text x="497.6" y="398.7" font-size="28.3" text-anchor="middle">20</text>
<text x="592.2" y="398.7" font-size="28.3" text-anchor="middle">25</text>
<text x="686.8" y="398.7" font-size="28.3" text-anchor="middle">30</text>
<text x="781.5" y="398.7" font-size="28.3" text-anchor="middle">35</text>
<text x="876.1" y="398.7" font-size="28.3" text-anchor="middle">40</text>
<text x="85.6" y="41.3" font-size="28.3" text-anchor="end">750</text>
<text x="85.6" y="104.6" font-size="28.3" text-anchor="end">740</text>
<text x="85.6" y="167.8" font-size="28.3" text-anchor="end">730</text>
<text x="85.6" y="231.1" font-size="28.3" text-anchor="end">720</text>
<text x="85.6" y="294.3" font-size="28.3" text-anchor="end">710</text>
<text x="85.6" y="357.6" font-size="28.3" text-anchor="end">700</text>
<text x="195.0" y="837.2" font-size="28.3" text-anchor="middle"><tspan font-size="33">−</tspan><tspan dx="1.6">40</tspan></text>
<text x="347.1" y="837.2" font-size="28.3" text-anchor="middle"><tspan font-size="33">−</tspan><tspan dx="1.6">20</tspan></text>
<text x="499.2" y="837.2" font-size="28.3" text-anchor="middle">0</text>
<text x="651.3" y="837.2" font-size="28.3" text-anchor="middle">20</text>
<text x="803.4" y="837.2" font-size="28.3" text-anchor="middle">40</text>
<text x="85.6" y="483.3" font-size="28.3" text-anchor="end">10</text>
<text x="85.6" y="560.5" font-size="28.3" text-anchor="end">5</text>
<text x="85.6" y="637.7" font-size="28.3" text-anchor="end">0</text>
<text x="85.6" y="714.9" font-size="28.3" text-anchor="end"><tspan font-size="33">−</tspan><tspan dx="1.6">5</tspan></text>
<text x="85.6" y="792.1" font-size="28.3" text-anchor="end"><tspan font-size="33">−</tspan><tspan dx="1.6">10</tspan></text>
<text x="934.6" y="64.7" font-size="28.3" text-anchor="start">0.10</text>
<text x="934.6" y="118.3" font-size="28.3" text-anchor="start">0.08</text>
<text x="934.6" y="171.8" font-size="28.3" text-anchor="start">0.06</text>
<text x="934.6" y="225.4" font-size="28.3" text-anchor="start">0.04</text>
<text x="934.6" y="278.9" font-size="28.3" text-anchor="start">0.02</text>
<text x="934.6" y="332.5" font-size="28.3" text-anchor="start">0.00</text>
<text x="934.6" y="481.3" font-size="28.3" text-anchor="start">60</text>
<text x="934.6" y="541.4" font-size="28.3" text-anchor="start">40</text>
<text x="934.6" y="601.5" font-size="28.3" text-anchor="start">20</text>
<text x="934.6" y="661.5" font-size="28.3" text-anchor="start">0</text>
<text x="934.6" y="721.6" font-size="28.3" text-anchor="start"><tspan font-size="33">−</tspan><tspan dx="1.6">20</tspan></text>
<text x="934.6" y="781.7" font-size="28.3" text-anchor="start"><tspan font-size="33">−</tspan><tspan dx="1.6">40</tspan></text>
<text x="499.0" y="433.9" font-size="27.7" text-anchor="middle">Time [Min]</text>
<text x="498.5" y="876.8" font-size="27.7" text-anchor="middle" letter-spacing="0.11">Fringe Frequency [10<tspan font-size="23" dy="-10.5" dx="0.5">−</tspan><tspan font-size="19.4" dx="0.5">3</tspan><tspan dy="10.5" dx="1.5"> Hz]</tspan></text>
<text transform="translate(29.6,190.6) rotate(-90)" font-size="27.7" text-anchor="middle">Frequency [MHz]</text>
<text transform="translate(21.3,628.7) rotate(-90)" font-size="27.7" text-anchor="middle" letter-spacing="0.55">Delay [<tspan font-style="italic">μ</tspan>s]</text>
<text transform="translate(1011.4,190) rotate(-90)" font-size="27.7" text-anchor="middle">Flux Density (Arbitrary Units)</text>
<text transform="translate(1012.2,630) rotate(-90)" font-size="27.7" text-anchor="middle">Log Power (dB)</text>
<rect x="694.5" y="482.1" width="178.1" height="64.2" rx="3.5" fill="#000" opacity="0.3"/>
<rect x="691.7" y="479.3" width="178.1" height="64.2" rx="3.5" fill="#fff" stroke="#ddd" stroke-width="0.8"/>
<path d="M698.5 496.1H736.6" stroke="#8fb5e6" stroke-width="1"/>
<path d="M698.5 525.4H736.6" stroke="#5b8dd6" stroke-width="1"/>
<text y="499.4" font-size="17.8"><tspan x="751" font-style="italic">η</tspan><tspan x="761.8" font-style="italic" font-size="12.8" dy="3.6">L</tspan><tspan x="775.2" dy="-3.6" textLength="13" lengthAdjust="spacingAndGlyphs">=</tspan><tspan x="788.2">0.057</tspan><tspan x="835.4">s</tspan><tspan x="844.5" font-size="12.6" dy="-7.4" textLength="16.4" lengthAdjust="spacing">−3</tspan></text>
<text y="528.7" font-size="17.8"><tspan x="751" font-style="italic">η</tspan><tspan x="761.8" font-style="italic" font-size="12.8" dy="3.6">R</tspan><tspan x="775.2" dy="-3.6" textLength="13" lengthAdjust="spacingAndGlyphs">=</tspan><tspan x="788.2">0.058</tspan><tspan x="835.4">s</tspan><tspan x="844.5" font-size="12.6" dy="-7.4" textLength="16.4" lengthAdjust="spacing">−3</tspan></text>
</svg></body></html>
